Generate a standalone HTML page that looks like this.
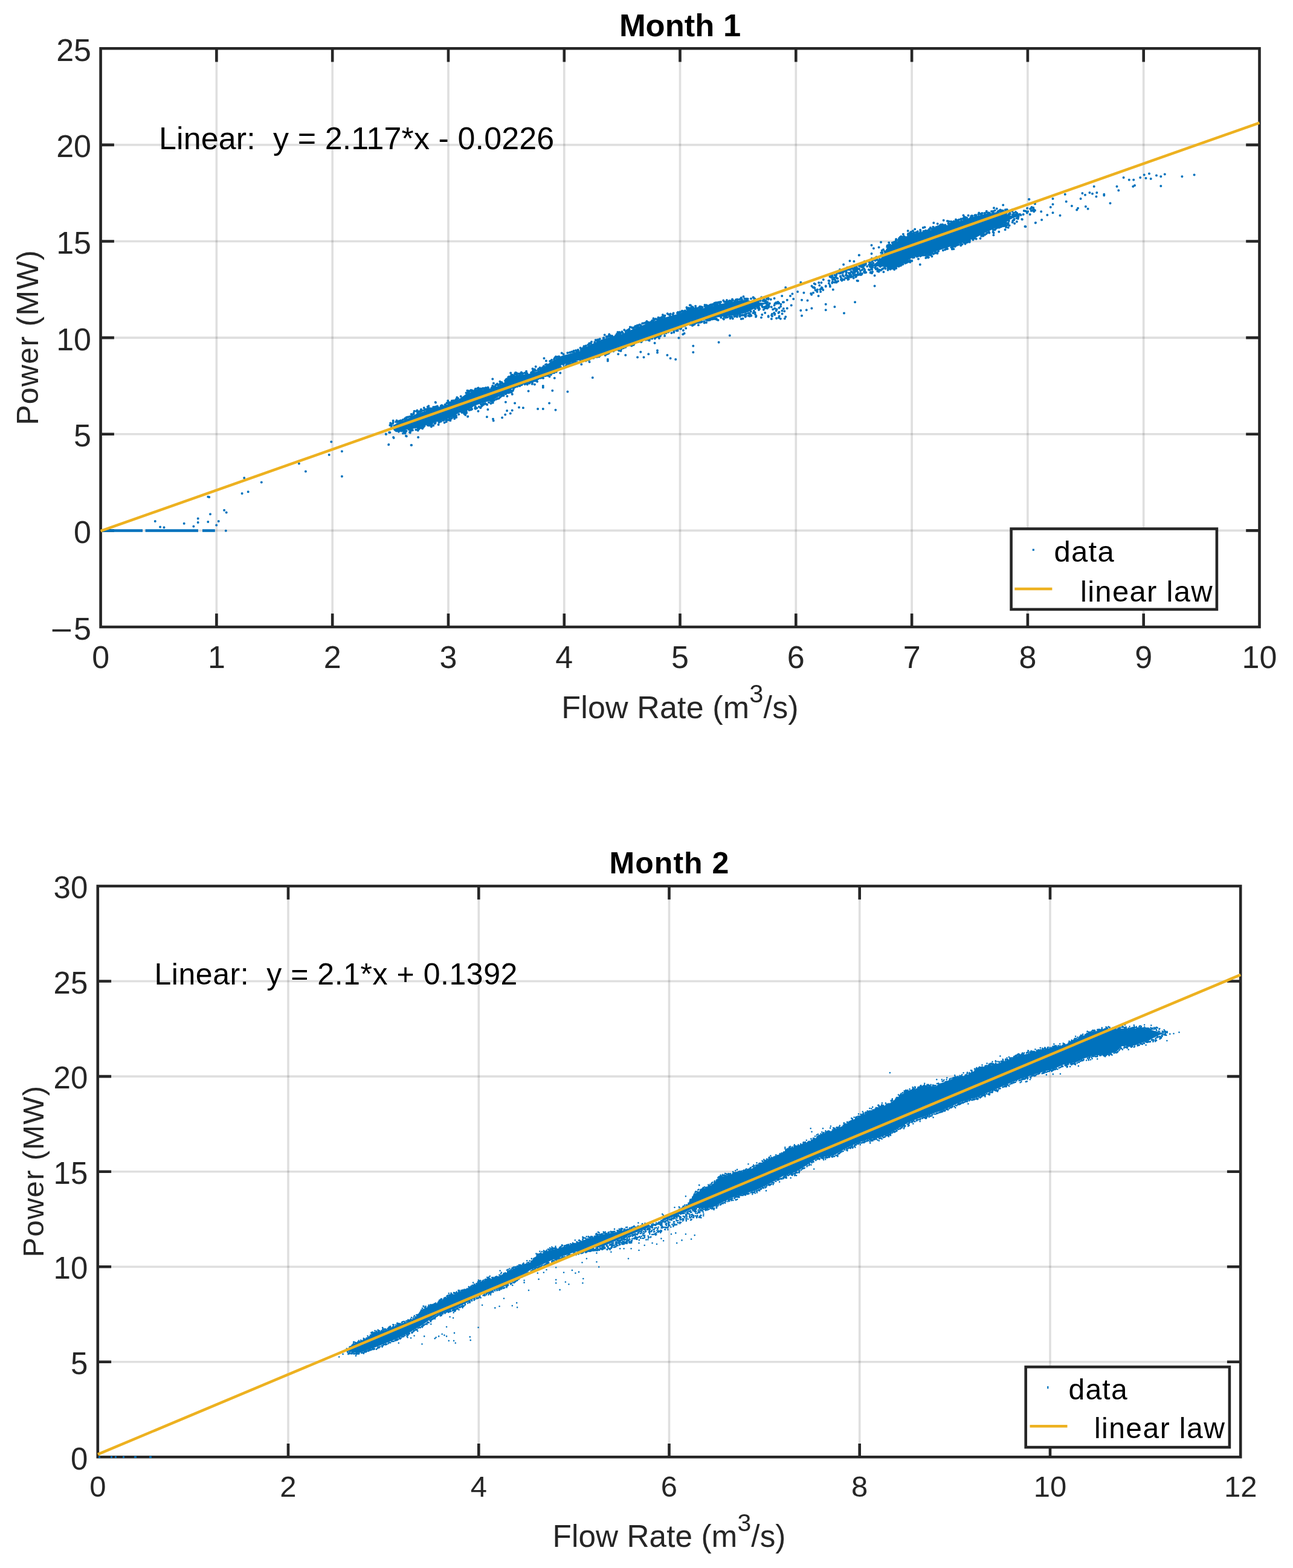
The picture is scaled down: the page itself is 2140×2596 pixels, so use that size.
<!DOCTYPE html>
<html><head><meta charset="utf-8"><title>Month 1 / Month 2 - Power vs Flow Rate</title>
<style>html,body{margin:0;padding:0;background:#fff;}svg{display:block;}text{font-family:'Liberation Sans', Arial, Helvetica, sans-serif;}</style>
</head><body>
<svg width="2140" height="2596" viewBox="0 0 2140 2596">
<rect width="2140" height="2596" fill="#fff"/>
<path d="M358.4 80.3V1038M550.2 80.3V1038M742 80.3V1038M933.8 80.3V1038M1125.5 80.3V1038M1317.3 80.3V1038M1509.1 80.3V1038M1700.9 80.3V1038M1892.7 80.3V1038" stroke="#262626" stroke-opacity="0.15" stroke-width="3.6" fill="none"/>
<path d="M166.6 878.4H2084.5M166.6 718.8H2084.5M166.6 559.1H2084.5M166.6 399.5H2084.5M166.6 239.9H2084.5" stroke="#262626" stroke-opacity="0.15" stroke-width="3.6" fill="none"/>
<path d="M166.6 1038H2084.5V80.3H166.6ZM358.4 1038v-20M358.4 80.3v20M550.2 1038v-20M550.2 80.3v20M742 1038v-20M742 80.3v20M933.8 1038v-20M933.8 80.3v20M1125.5 1038v-20M1125.5 80.3v20M1317.3 1038v-20M1317.3 80.3v20M1509.1 1038v-20M1509.1 80.3v20M1700.9 1038v-20M1700.9 80.3v20M1892.7 1038v-20M1892.7 80.3v20M166.6 878.4h20M2084.5 878.4h-20M166.6 718.8h20M2084.5 718.8h-20M166.6 559.1h20M2084.5 559.1h-20M166.6 399.5h20M2084.5 399.5h-20M166.6 239.9h20M2084.5 239.9h-20" stroke="#262626" stroke-width="4.6" fill="none" stroke-linejoin="miter" stroke-linecap="square"/>
<path d="M645.0 704.0L648.0 704.2L651.0 703.7L654.0 702.5L657.0 700.5L660.0 699.4L663.0 698.2L666.0 697.1L669.0 696.0L672.0 694.5L675.0 693.0L678.0 691.5L681.0 690.0L684.0 688.1L687.0 686.2L690.0 684.7L693.0 683.8L696.0 682.9L699.0 682.0L702.0 681.1L705.0 680.2L708.0 679.2L711.0 678.3L714.0 677.4L717.0 676.5L720.0 675.6L723.0 674.7L726.0 673.9L729.0 673.0L732.0 672.1L735.0 671.3L738.0 670.4L741.0 669.6L744.0 668.5L747.0 667.1L750.0 665.7L753.0 664.3L756.0 662.9L759.0 661.3L762.0 659.1L765.0 656.9L768.0 654.7L771.0 652.5L774.0 650.8L777.0 650.1L780.0 649.4L783.0 648.6L786.0 647.9L789.0 647.2L792.0 646.7L795.0 646.1L798.0 645.6L801.0 645.1L804.0 644.6L807.0 644.0L810.0 643.5L813.0 643.0L816.0 641.9L819.0 640.9L822.0 639.8L825.0 638.8L828.0 637.7L831.0 636.1L834.0 633.5L837.0 630.8L840.0 628.2L843.0 625.5L846.0 622.9L849.0 621.8L852.0 621.5L855.0 621.1L858.0 620.8L861.0 620.5L864.0 620.2L867.0 619.9L870.0 619.5L873.0 619.2L876.0 618.7L879.0 617.8L882.0 616.9L885.0 616.1L888.0 615.2L891.0 614.3L894.0 612.5L897.0 610.2L900.0 607.9L903.0 605.6L906.0 603.3L909.0 601.0L912.0 598.8L915.0 596.9L918.0 595.4L921.0 593.8L924.0 592.2L927.0 590.6L930.0 589.0L933.0 588.2L936.0 587.5L939.0 586.7L942.0 585.9L945.0 585.1L948.0 584.4L951.0 583.6L954.0 582.8L957.0 582.0L960.0 581.3L963.0 579.0L966.0 576.0L969.0 574.6L972.0 573.2L975.0 571.8L978.0 570.4L981.0 569.0L984.0 567.6L987.0 566.2L990.0 564.8L993.0 563.4L996.0 562.0L999.0 561.1L1002.0 560.2L1005.0 559.4L1008.0 558.5L1011.0 557.6L1014.0 556.8L1017.0 556.1L1020.0 555.4L1023.0 554.6L1026.0 553.9L1029.0 553.2L1032.0 552.1L1035.0 550.7L1038.0 549.3L1041.0 547.9L1044.0 546.5L1047.0 545.2L1050.0 543.8L1053.0 542.4L1056.0 541.0L1059.0 540.0L1062.0 538.9L1065.0 537.9L1068.0 536.8L1071.0 535.8L1074.0 534.8L1077.0 533.7L1080.0 532.7L1083.0 531.6L1086.0 530.6L1089.0 529.5L1092.0 528.5L1095.0 527.4L1098.0 526.4L1101.0 525.5L1104.0 524.7L1107.0 523.8L1110.0 523.0L1113.0 522.2L1116.0 521.4L1119.0 520.6L1122.0 519.8L1125.0 519.0L1128.0 517.6L1131.0 516.2L1134.0 514.7L1137.0 513.3L1140.0 511.9L1143.0 510.5L1146.0 510.8L1149.0 511.9L1152.0 513.0L1155.0 512.3L1158.0 511.6L1161.0 510.9L1164.0 510.2L1167.0 509.5L1170.0 508.8L1173.0 508.1L1176.0 507.4L1179.0 506.7L1182.0 506.0L1185.0 505.3L1188.0 504.6L1191.0 503.9L1194.0 503.1L1197.0 502.4L1200.0 501.7L1203.0 501.0L1206.0 500.5L1209.0 500.0L1212.0 499.5L1215.0 499.1L1218.0 498.6L1221.0 498.1L1224.0 497.6L1227.0 497.1L1230.0 496.6L1233.0 496.2L1236.0 496.3L1239.0 497.2L1242.0 498.1L1245.0 498.8L1248.0 499.4L1251.0 499.9L1254.0 500.4L1257.0 500.7L1260.0 501.0L1263.0 501.2L1266.0 501.2L1269.0 501.2L1272.0 501.1L1275.0 500.8L1275.0 500.8L1272.0 501.6L1269.0 502.5L1266.0 503.5L1263.0 504.6L1260.0 505.8L1257.0 507.0L1254.0 508.3L1251.0 509.7L1248.0 511.2L1245.0 512.8L1242.0 514.5L1239.0 516.2L1236.0 517.6L1233.0 518.5L1230.0 519.1L1227.0 519.7L1224.0 520.3L1221.0 521.0L1218.0 521.6L1215.0 522.1L1212.0 522.5L1209.0 522.8L1206.0 523.2L1203.0 523.5L1200.0 523.9L1197.0 524.2L1194.0 524.6L1191.0 524.9L1188.0 525.3L1185.0 525.6L1182.0 526.0L1179.0 526.7L1176.0 527.4L1173.0 528.1L1170.0 528.8L1167.0 529.5L1164.0 530.2L1161.0 530.8L1158.0 531.5L1155.0 532.1L1152.0 532.2L1149.0 532.4L1146.0 532.6L1143.0 532.8L1140.0 533.0L1137.0 534.8L1134.0 536.7L1131.0 538.5L1128.0 540.3L1125.0 542.1L1122.0 544.0L1119.0 545.8L1116.0 547.2L1113.0 547.7L1110.0 548.2L1107.0 548.7L1104.0 549.2L1101.0 549.7L1098.0 550.4L1095.0 551.4L1092.0 552.5L1089.0 553.5L1086.0 554.6L1083.0 555.6L1080.0 556.7L1077.0 557.8L1074.0 558.8L1071.0 559.9L1068.0 560.9L1065.0 562.0L1062.0 562.9L1059.0 563.9L1056.0 564.8L1053.0 565.8L1050.0 566.7L1047.0 567.7L1044.0 568.6L1041.0 569.5L1038.0 570.5L1035.0 571.4L1032.0 572.4L1029.0 573.4L1026.0 574.6L1023.0 575.9L1020.0 577.1L1017.0 578.4L1014.0 579.6L1011.0 580.8L1008.0 582.1L1005.0 583.3L1002.0 584.5L999.0 585.8L996.0 587.0L993.0 587.8L990.0 588.5L987.0 589.3L984.0 590.1L981.0 590.9L978.0 591.6L975.0 592.4L972.0 593.2L969.0 594.0L966.0 594.7L963.0 595.5L960.0 596.3L957.0 597.0L954.0 597.8L951.0 598.6L948.0 599.4L945.0 600.1L942.0 600.9L939.0 601.7L936.0 602.5L933.0 603.2L930.0 604.0L927.0 606.5L924.0 609.0L921.0 611.5L918.0 614.0L915.0 615.3L912.0 616.5L909.0 617.8L906.0 619.1L903.0 620.3L900.0 621.6L897.0 622.9L894.0 624.2L891.0 625.3L888.0 626.4L885.0 627.4L882.0 628.4L879.0 629.5L876.0 630.5L873.0 631.5L870.0 632.5L867.0 633.6L864.0 634.6L861.0 635.6L858.0 636.7L855.0 638.4L852.0 640.5L849.0 642.6L846.0 644.8L843.0 646.9L840.0 649.0L837.0 650.6L834.0 652.2L831.0 653.9L828.0 655.5L825.0 657.1L822.0 658.8L819.0 660.4L816.0 662.0L813.0 662.9L810.0 663.9L807.0 664.8L804.0 665.7L801.0 666.7L798.0 667.6L795.0 668.5L792.0 669.4L789.0 670.4L786.0 671.6L783.0 673.6L780.0 675.5L777.0 677.4L774.0 679.4L771.0 680.5L768.0 681.3L765.0 682.1L762.0 682.9L759.0 683.7L756.0 685.7L753.0 688.3L750.0 690.3L747.0 691.2L744.0 692.2L741.0 693.1L738.0 694.0L735.0 694.9L732.0 695.8L729.0 696.7L726.0 697.6L723.0 698.5L720.0 699.4L717.0 700.3L714.0 701.2L711.0 702.1L708.0 703.0L705.0 703.9L702.0 704.9L699.0 705.8L696.0 706.8L693.0 707.7L690.0 708.7L687.0 709.3L684.0 709.7L681.0 710.2L678.0 710.6L675.0 711.1L672.0 711.5L669.0 712.0L666.0 712.4L663.0 712.9L660.0 711.8L657.0 710.1L654.0 707.5L651.0 705.6L648.0 704.4L645.0 704.0ZM1440.0 441.0L1443.0 439.5L1446.0 437.7L1449.0 435.5L1452.0 433.1L1455.0 430.6L1458.0 427.7L1461.0 422.8L1464.0 417.6L1467.0 412.1L1470.0 407.9L1473.0 406.2L1476.0 404.5L1479.0 402.8L1482.0 401.2L1485.0 399.5L1488.0 397.8L1491.0 396.1L1494.0 394.5L1497.0 392.8L1500.0 391.2L1503.0 389.6L1506.0 388.0L1509.0 387.4L1512.0 386.8L1515.0 386.2L1518.0 385.6L1521.0 385.0L1524.0 384.4L1527.0 383.8L1530.0 383.2L1533.0 382.6L1536.0 382.0L1539.0 381.4L1542.0 380.7L1545.0 379.7L1548.0 378.8L1551.0 377.9L1554.0 376.9L1557.0 376.0L1560.0 375.0L1563.0 374.1L1566.0 373.1L1569.0 372.2L1572.0 371.3L1575.0 370.3L1578.0 369.4L1581.0 368.4L1584.0 367.4L1587.0 366.5L1590.0 365.5L1593.0 364.5L1596.0 363.5L1599.0 362.6L1602.0 361.6L1605.0 360.6L1608.0 359.8L1611.0 359.0L1614.0 358.2L1617.0 357.5L1620.0 356.8L1623.0 356.0L1626.0 355.2L1629.0 354.7L1632.0 354.1L1635.0 353.6L1638.0 353.1L1641.0 352.6L1644.0 352.0L1647.0 351.5L1650.0 351.0L1653.0 351.4L1656.0 351.8L1659.0 352.2L1662.0 352.6L1665.0 353.6L1668.0 355.0L1671.0 356.2L1674.0 357.1L1677.0 357.7L1680.0 358.1L1683.0 358.3L1686.0 358.2L1688.0 358.0L1688.0 358.0L1686.0 358.3L1683.0 359.0L1680.0 359.9L1677.0 361.1L1674.0 362.5L1671.0 364.1L1668.0 366.1L1665.0 368.4L1662.0 370.5L1659.0 372.0L1656.0 373.5L1653.0 375.0L1650.0 376.4L1647.0 377.8L1644.0 379.2L1641.0 380.5L1638.0 381.9L1635.0 383.3L1632.0 384.7L1629.0 386.1L1626.0 387.5L1623.0 389.2L1620.0 390.8L1617.0 392.4L1614.0 394.0L1611.0 395.1L1608.0 396.3L1605.0 397.4L1602.0 398.6L1599.0 399.7L1596.0 400.9L1593.0 402.0L1590.0 402.9L1587.0 403.8L1584.0 404.6L1581.0 405.5L1578.0 406.4L1575.0 407.3L1572.0 408.4L1569.0 409.4L1566.0 410.4L1563.0 411.5L1560.0 412.5L1557.0 413.5L1554.0 414.5L1551.0 415.6L1548.0 416.6L1545.0 417.6L1542.0 418.7L1539.0 419.3L1536.0 419.8L1533.0 420.2L1530.0 420.7L1527.0 421.2L1524.0 421.6L1521.0 422.1L1518.0 422.5L1515.0 423.0L1512.0 425.0L1509.0 427.0L1506.0 429.0L1503.0 431.0L1500.0 433.0L1497.0 435.0L1494.0 437.0L1491.0 437.9L1488.0 438.8L1485.0 439.6L1482.0 440.5L1479.0 441.4L1476.0 442.2L1473.0 442.9L1470.0 443.6L1467.0 442.6L1464.0 441.9L1461.0 441.6L1458.0 441.7L1455.0 441.5L1452.0 441.1L1449.0 440.9L1446.0 440.9L1443.0 440.9L1440.0 441.0Z" fill="#0072bd"/>
<path d="M953.1 599.9h0M1100.5 522.6h0M1022.4 549.9h0M1135.0 537.9h0M911.9 620.3h0M1051.5 539.9h0M685.7 680.8h0M1178.4 504.3h0M1186.1 529.0h0M713.9 703.4h0M1289.2 501.5h0M1232.3 521.5h0M725.7 703.1h0M1046.5 542.8h0M943.0 583.4h0M1091.0 560.1h0M717.3 704.4h0M1089.0 557.2h0M933.5 607.7h0M1083.2 529.3h0M680.8 685.7h0M841.8 650.2h0M749.4 663.7h0M872.6 634.1h0M1008.0 554.9h0M805.0 669.3h0M815.8 666.7h0M827.1 635.9h0M926.6 610.1h0M667.0 717.4h0M1176.3 504.4h0M874.0 634.6h0M1283.8 502.1h0M880.8 635.8h0M852.6 619.5h0M1276.8 508.3h0M714.1 705.9h0M646.2 700.6h0M1145.9 539.0h0M1159.9 532.9h0M890.5 612.5h0M1202.9 496.9h0M1197.9 528.4h0M926.3 611.0h0M708.4 676.2h0M876.2 632.7h0M1028.6 577.8h0M917.1 617.2h0M1048.6 569.6h0M833.6 655.0h0M1056.9 538.6h0M815.5 666.8h0M713.8 705.0h0M1149.5 537.0h0M1226.8 492.9h0M1141.8 505.2h0M1128.9 514.7h0M1271.2 493.7h0M1020.8 552.9h0M962.3 603.2h0M795.3 643.6h0M699.2 709.6h0M1226.2 494.0h0M672.4 691.3h0M674.2 690.7h0M1045.4 572.4h0M1197.3 497.5h0M806.2 670.0h0M1282.4 502.8h0M1285.2 502.4h0M853.2 617.1h0M1208.4 524.7h0M740.2 667.2h0M775.7 647.2h0M1001.8 588.2h0M848.9 646.8h0M781.1 646.6h0M1096.9 521.2h0M786.8 676.7h0M932.6 586.4h0M690.4 679.4h0M1003.7 557.5h0M1259.7 493.9h0M802.0 642.9h0M1036.2 572.9h0M830.4 632.9h0M651.8 709.3h0M694.6 681.5h0M841.2 624.4h0M770.6 683.4h0M1047.0 569.6h0M1275.8 495.7h0M791.7 642.2h0M650.7 696.6h0M655.3 698.6h0M992.8 561.3h0M650.1 701.2h0M1208.6 527.3h0M989.0 562.5h0M899.1 626.0h0M779.3 646.0h0M786.2 645.6h0M1212.8 527.5h0M1212.0 495.5h0M1089.5 525.8h0M820.2 637.6h0M770.3 687.1h0M659.8 714.7h0M768.0 684.3h0M701.7 679.2h0M678.9 712.5h0M1161.6 532.7h0M670.6 714.8h0M1173.1 530.0h0M1169.0 533.9h0M1208.0 497.9h0M862.9 616.5h0M1172.0 530.2h0M1191.1 500.2h0M1285.6 501.1h0M888.3 630.6h0M1031.9 576.2h0M693.8 681.2h0M1136.9 537.0h0M1048.6 571.1h0M975.2 594.9h0M1081.5 527.3h0M1189.5 500.5h0M752.8 690.9h0M960.6 575.9h0M1264.5 495.4h0M699.5 707.9h0M1072.4 533.5h0M884.9 630.5h0M1146.4 508.3h0M1073.2 563.1h0M1007.9 584.3h0M657.1 698.5h0M845.6 649.2h0M656.0 713.4h0M798.2 671.6h0M1104.7 519.3h0M975.3 568.4h0M899.8 606.3h0M648.0 707.4h0M1185.2 502.6h0M1249.6 517.5h0M1185.8 527.7h0M1106.2 520.6h0M862.4 637.0h0M695.5 708.6h0M922.7 613.1h0M973.2 595.9h0M1284.0 501.3h0M829.2 634.4h0M1000.7 554.6h0M876.4 634.6h0M790.5 643.0h0M1069.1 533.9h0M1287.6 500.0h0M807.8 641.8h0M743.1 666.3h0M756.3 658.0h0M1151.5 510.1h0M678.1 689.7h0M1029.1 550.0h0M1224.6 523.9h0M698.3 708.6h0M929.7 584.4h0M1114.6 518.6h0M816.9 634.6h0M1268.9 493.9h0M1027.5 580.9h0M738.7 698.2h0M1187.6 501.5h0M795.4 675.2h0M1233.1 520.4h0M1193.0 499.9h0M903.0 603.8h0M693.5 681.4h0M745.4 696.2h0M919.9 615.2h0M1242.0 520.6h0M1146.1 535.8h0M1003.7 557.9h0M660.5 697.2h0M1109.6 519.8h0M1272.8 507.0h0M815.3 638.8h0M800.7 669.8h0M846.7 649.4h0M1056.1 538.7h0M1142.3 537.4h0M928.2 609.1h0M1136.5 509.0h0M1092.8 556.5h0M678.0 715.5h0M1064.7 535.2h0M1119.6 547.6h0M1235.1 519.7h0M1029.2 576.3h0M671.2 715.2h0M1165.7 534.6h0M752.2 693.3h0M1111.4 551.3h0M1083.2 557.5h0M897.1 625.6h0M754.9 661.1h0M1281.6 505.4h0M969.6 597.4h0M1035.3 574.7h0M1115.3 550.3h0M1121.9 517.0h0M821.8 636.9h0M650.7 699.3h0M713.9 706.4h0M945.5 602.6h0M1170.4 506.8h0M669.2 715.8h0M1170.8 506.3h0M1188.5 529.9h0M1174.8 505.5h0M1015.3 581.6h0M1179.5 503.9h0M975.5 594.9h0M1197.1 527.6h0M1166.5 505.0h0M709.1 676.9h0M1206.9 498.3h0M1246.5 518.2h0M1151.1 506.7h0M789.1 675.8h0M1147.1 538.2h0M881.1 633.9h0M705.9 677.4h0M885.7 630.4h0M781.1 677.5h0M1041.3 544.9h0M1186.8 500.9h0M920.7 615.8h0M717.2 674.0h0M773.4 646.7h0M1184.3 501.2h0M1288.6 502.2h0M735.6 699.7h0M823.0 635.6h0M919.9 590.6h0M1074.8 563.8h0M749.0 663.5h0M1126.8 544.4h0M741.3 663.6h0M1029.4 549.2h0M655.8 712.1h0M812.4 668.1h0M692.1 710.5h0M1169.2 505.3h0M1265.6 510.3h0M1157.7 508.3h0M1024.6 580.4h0M822.9 636.6h0M693.4 710.2h0M949.4 581.0h0M827.4 631.7h0M755.3 691.0h0M1143.6 535.8h0M1045.7 542.2h0M743.5 695.4h0M1247.2 492.7h0M909.5 623.4h0M1070.4 532.1h0M844.2 649.6h0M1153.2 510.6h0M1063.1 535.5h0M852.2 618.3h0M845.3 649.2h0M815.4 639.3h0M1160.6 508.0h0M1079.3 560.4h0M1182.3 502.0h0M670.5 717.4h0M1271.6 494.0h0M913.0 596.0h0M1043.3 570.7h0M800.7 643.2h0M925.3 610.2h0M657.3 698.6h0M753.7 689.5h0M1042.9 541.4h0M1155.9 510.1h0M896.8 625.2h0M1086.3 557.9h0M1231.7 522.0h0M860.2 639.1h0M974.8 570.1h0M1158.5 507.6h0M796.9 672.8h0M1281.6 494.1h0M1082.6 528.7h0M1146.8 509.3h0M1044.2 571.2h0M1092.8 526.3h0M758.2 659.4h0M779.7 647.5h0M969.6 572.4h0M891.2 610.8h0M691.8 712.7h0M1083.9 560.5h0M787.1 645.3h0M656.5 696.3h0M1267.7 510.0h0M679.4 713.9h0M747.7 663.7h0M936.5 606.0h0M768.7 685.4h0M1174.4 505.6h0M1272.0 494.3h0M1052.9 540.3h0M786.2 675.8h0M991.4 562.2h0M852.7 618.4h0M1061.2 566.2h0M1054.7 538.8h0M1140.3 535.7h0M839.4 656.1h0M906.7 621.8h0M825.8 659.6h0M956.7 579.3h0M684.5 685.6h0M1144.9 508.2h0M862.4 618.2h0M1088.7 556.2h0M1230.5 490.9h0M881.5 631.7h0M924.0 590.4h0M1218.3 496.3h0M1234.5 523.2h0M1099.9 523.5h0M1037.2 547.5h0M792.8 673.4h0M787.0 643.8h0M868.7 636.3h0M889.1 631.8h0M1008.3 553.4h0M1137.1 511.5h0M1272.3 508.5h0M1181.8 504.3h0M846.1 648.8h0M1025.2 549.9h0M1167.7 506.3h0M1033.3 546.3h0M898.2 624.4h0M966.5 573.3h0M1085.2 528.0h0M1263.9 512.8h0M1268.2 508.3h0M885.0 611.5h0M985.7 562.9h0M1004.1 586.3h0M1006.2 585.5h0M1215.4 524.1h0M882.2 613.2h0M1076.9 560.3h0M678.8 716.6h0M943.9 602.4h0M946.0 582.4h0M952.8 580.2h0M779.2 678.6h0M701.8 675.3h0M918.7 591.9h0M684.8 683.7h0M1095.6 525.0h0M653.1 710.9h0M855.0 617.4h0M1121.5 547.6h0M1246.6 492.2h0M999.3 559.3h0M1243.3 522.7h0M979.0 566.0h0M1049.4 569.4h0M1185.7 502.2h0M1191.4 501.3h0M739.4 667.2h0M970.1 596.2h0M1255.9 513.0h0M881.5 610.6h0M1260.3 492.3h0M772.1 683.7h0M1665.7 373.6h0M1626.6 389.6h0M1657.9 348.6h0M1412.7 460.6h0M1569.7 370.1h0M1539.9 377.0h0M1418.0 455.1h0M1622.5 394.8h0M1666.6 347.1h0M1681.0 350.9h0M1401.0 444.9h0M1377.1 455.7h0M1570.3 366.4h0M1624.1 390.8h0M1604.7 400.7h0M1442.8 428.1h0M1390.0 446.2h0M1431.1 436.1h0M1624.5 390.2h0M1653.5 376.8h0M1659.9 348.8h0M1684.2 354.8h0M1530.5 376.3h0M1469.8 406.2h0M1510.9 382.3h0M1375.8 458.6h0M1664.0 347.3h0M1664.9 374.4h0M1682.9 367.1h0M1548.9 418.8h0M1417.6 455.8h0M1675.5 350.2h0M1649.7 345.4h0M1384.5 454.7h0M1419.6 454.1h0M1394.0 449.5h0M1471.2 401.7h0M1507.8 384.0h0M1523.2 424.1h0M1376.5 457.2h0M1620.2 352.6h0M1684.8 355.2h0M1597.5 403.8h0M1604.6 400.1h0M1567.9 366.0h0M1442.5 429.6h0M1482.9 397.7h0M1626.2 390.4h0M1542.4 424.5h0M1595.6 358.7h0M1430.9 432.8h0M1643.6 384.1h0M1687.8 354.7h0M1393.9 462.2h0M1489.7 392.7h0M1536.2 426.2h0M1483.2 444.2h0M1482.8 398.1h0M1469.5 447.0h0M1587.1 363.8h0M1425.0 455.0h0M1391.9 463.1h0M1668.4 372.3h0M1549.3 417.9h0M1391.1 448.7h0M1678.0 364.6h0M1551.7 370.5h0M1684.9 362.0h0M1601.1 401.0h0M1541.1 378.8h0M1483.0 397.4h0M1539.4 422.3h0M1447.7 427.9h0M1534.3 424.5h0M1402.3 443.1h0M1545.0 376.0h0M1403.4 462.8h0M1503.6 433.2h0M1585.4 365.0h0M1573.9 367.0h0M1645.0 344.2h0M1494.9 387.8h0M1578.4 412.2h0M1507.1 384.8h0M1660.8 374.2h0M1677.9 352.7h0M1520.0 428.7h0M1598.2 360.1h0M1383.7 466.1h0M1600.7 401.3h0M1662.8 373.8h0M1575.8 412.6h0M1602.6 356.8h0M1663.4 350.8h0M1668.6 349.2h0M1408.4 458.4h0M1590.4 362.6h0M1506.2 434.0h0M1594.5 356.4h0M1491.3 391.5h0M1424.2 453.3h0M1440.6 451.5h0M1664.3 349.5h0M1416.3 458.6h0M1555.7 373.2h0M1488.1 394.4h0M1518.8 424.2h0M1630.3 388.6h0M1646.6 348.5h0M1669.9 350.2h0M1536.9 426.1h0M1637.3 385.5h0M1423.3 453.4h0M1632.8 349.7h0M1444.8 429.9h0M1425.9 454.6h0M1443.0 452.2h0M1458.3 418.5h0M1462.4 450.3h0M1590.2 406.5h0M1404.6 462.1h0M1536.8 422.0h0M1577.0 367.4h0M1683.3 353.1h0M1549.5 375.9h0M1675.6 347.3h0M1480.2 446.3h0M1655.5 347.6h0M1480.4 443.1h0M1426.6 438.0h0M1574.3 409.4h0M1506.0 430.9h0M1568.1 411.9h0M1496.2 391.2h0M1494.5 392.3h0M1441.4 450.6h0M1544.3 375.8h0M1376.6 458.9h0M1405.6 442.4h0M1536.1 426.4h0M1422.3 454.5h0M1628.9 388.7h0M1487.6 441.1h0M1478.0 444.6h0M1473.7 445.7h0M1477.7 401.8h0M1557.2 372.1h0M1551.4 419.4h0M1615.7 395.6h0M1523.1 380.8h0M1374.1 456.0h0M1578.6 366.6h0M1450.6 425.4h0M1417.3 457.2h0M1565.8 412.3h0M1544.9 420.5h0M1462.0 413.3h0M1582.1 364.4h0M1619.7 354.5h0M1422.7 437.1h0M1483.1 396.1h0M1423.0 454.8h0M1527.8 377.1h0M1624.8 390.0h0M1632.5 351.4h0M1584.6 364.9h0M1397.6 449.0h0M1644.4 389.2h0M1509.3 432.0h0M1582.0 363.4h0M1502.7 382.3h0M1506.7 431.4h0M1377.2 468.4h0M1420.5 454.9h0M1395.4 462.7h0M1424.3 454.2h0M1626.5 389.2h0M1580.8 408.0h0M1424.0 452.3h0M1569.9 369.5h0M1454.5 449.7h0M1665.2 376.3h0M1415.1 455.7h0M1575.8 368.2h0M1559.9 371.8h0M1407.7 458.7h0M1574.0 366.7h0M1403.7 443.4h0M729.6 672.4h0M1126.2 516.6h0M957.1 580.6h0M1055.5 540.7h0M704.1 678.0h0M1171.5 507.0h0M1125.2 516.4h0M925.6 590.6h0M789.1 647.1h0M1212.9 497.0h0M661.0 697.8h0M1236.7 494.7h0M781.5 647.6h0M663.3 696.2h0M920.9 592.6h0M791.8 644.8h0M782.8 647.3h0M827.6 635.4h0M1172.7 507.1h0M1049.6 541.9h0M1270.3 500.3h0M721.2 673.6h0M1099.5 525.2h0M1235.0 494.7h0M1167.9 508.5h0M836.1 630.6h0M1201.0 501.1h0M963.3 577.6h0M666.8 695.0h0M1147.4 509.8h0M754.0 662.7h0M1087.9 529.1h0M881.1 615.8h0M965.3 576.1h0M973.2 571.1h0M953.5 580.5h0M672.4 693.6h0M1264.4 498.6h0M893.0 611.2h0M961.4 580.2h0M1130.4 515.3h0M1187.0 502.9h0M968.7 574.6h0M1009.0 556.8h0M814.6 641.3h0M1248.0 494.1h0M1138.7 512.1h0M1203.3 500.3h0M1154.8 511.2h0M998.7 559.8h0M680.4 690.0h0M1004.1 557.6h0M963.0 577.7h0M869.8 617.9h0M984.2 566.5h0M1030.8 551.2h0M662.6 696.5h0M756.6 661.6h0M1187.4 504.2h0M1147.2 510.7h0M805.8 643.9h0M1069.1 534.2h0M655.5 698.6h0M1121.0 518.2h0M714.0 676.5h0M862.0 618.1h0M745.6 666.6h0M750.9 663.5h0M1093.3 526.6h0M847.9 620.7h0M659.9 697.9h0M910.2 598.1h0M713.5 677.3h0M966.4 573.8h0M1026.6 553.4h0M658.1 697.6h0M737.3 669.9h0M745.9 666.9h0M1072.3 534.2h0M784.0 648.4h0M1147.6 510.1h0M785.6 647.2h0M893.8 611.6h0M847.4 621.3h0M682.0 687.6h0M1254.8 499.7h0M838.0 629.6h0M840.5 627.6h0M1113.6 520.6h0M804.0 642.1h0M1198.6 499.6h0M1161.2 510.8h0M1004.3 557.5h0M1191.7 503.6h0M1088.5 528.5h0M883.1 615.0h0M774.6 649.8h0M917.8 593.5h0M710.8 677.6h0M831.5 634.4h0M850.0 621.4h0M1211.8 497.1h0M771.5 650.4h0M1266.8 499.8h0M858.6 618.8h0M1069.9 535.8h0M1232.3 494.6h0M1200.9 500.7h0M950.2 583.7h0M792.8 645.8h0M698.3 680.1h0M1218.9 496.5h0M1123.2 518.5h0M1174.9 506.1h0M859.4 618.9h0M1191.5 502.8h0M1246.2 498.5h0M730.3 671.5h0M710.7 676.0h0M691.1 684.0h0M1141.5 510.7h0M859.8 619.7h0M1137.6 511.5h0M1004.6 557.5h0M696.5 680.9h0M1206.2 499.4h0M1227.8 495.6h0M819.6 640.1h0M1166.5 507.1h0M1067.4 534.8h0M717.5 676.1h0M670.2 693.5h0M1267.5 497.5h0M717.8 674.2h0M797.1 645.1h0M709.8 678.5h0M883.3 616.5h0M1217.8 496.8h0M804.6 643.1h0M708.1 678.3h0M670.0 693.0h0M1264.0 496.6h0M1020.8 553.8h0M842.4 623.7h0M1220.4 498.1h0M1256.0 495.0h0M780.6 648.3h0M1262.4 498.1h0M1078.6 532.3h0M808.2 642.7h0M838.6 627.5h0M696.3 681.0h0M1264.5 497.6h0M1055.8 540.2h0M1237.7 494.9h0M838.3 628.0h0M844.5 623.8h0M1207.9 498.5h0M855.6 619.9h0M1009.8 556.9h0M799.4 642.9h0M798.6 643.2h0M992.3 561.4h0M692.3 683.1h0M828.2 637.1h0M955.8 582.0h0M742.1 668.0h0M1145.8 508.4h0M1243.0 494.6h0M1134.0 514.7h0M1162.6 508.8h0M712.3 676.7h0M1224.2 495.8h0M1208.1 498.0h0M1218.6 496.1h0M844.1 624.3h0M1151.4 512.6h0M1174.7 507.1h0M1079.4 530.8h0M917.6 593.5h0M1095.3 526.5h0M804.1 642.2h0M1251.9 498.9h0M991.0 563.2h0M1181.3 504.8h0M894.3 610.6h0M807.5 641.5h0M1052.3 541.3h0M1004.5 557.2h0M868.6 617.5h0M723.8 672.6h0M1167.2 507.9h0M897.7 608.7h0M792.1 644.1h0M978.1 569.1h0M1053.8 540.6h0M1077.5 532.9h0M795.2 644.8h0M946.7 582.8h0M904.7 603.2h0M1216.4 498.6h0M818.4 640.2h0M675.4 690.5h0M967.4 575.1h0M745.5 667.3h0M1201.3 499.7h0M1081.3 531.9h0M879.1 617.0h0M1108.9 522.3h0M1184.5 505.2h0M1249.8 497.3h0M756.1 661.0h0M782.1 647.8h0M1122.4 517.3h0M1074.4 533.9h0M864.2 618.9h0M748.8 665.6h0M670.6 695.1h0M1154.0 511.6h0M813.5 642.6h0M1249.4 494.9h0M1133.7 514.5h0M1060.6 538.7h0M925.4 591.3h0M1256.9 496.8h0M1150.7 511.1h0M748.8 664.6h0M724.6 674.0h0M1249.4 494.8h0M1023.4 553.1h0M719.4 674.0h0M801.4 644.4h0M647.5 702.1h0M921.4 591.1h0M1040.3 547.2h0M1171.3 506.5h0M824.4 637.8h0M817.1 640.5h0M803.1 643.9h0M1143.4 510.0h0M1258.4 497.9h0M954.2 582.4h0M1129.5 515.8h0M886.5 613.8h0M713.1 677.2h0M719.4 675.2h0M988.5 565.4h0M1124.5 519.1h0M731.1 671.2h0M1005.7 557.4h0M961.9 578.4h0M977.9 568.0h0M923.7 591.0h0M837.0 629.3h0M1138.3 511.9h0M955.1 581.6h0M882.9 614.7h0M647.4 702.3h0M1021.8 554.6h0M1167.5 508.2h0M1266.8 497.8h0M1170.8 507.1h0M1114.1 521.9h0M837.4 628.4h0M1035.6 549.2h0M871.4 616.9h0M890.2 613.1h0M900.3 607.3h0M1013.2 556.3h0M1210.7 499.1h0M955.4 581.8h0M1048.4 543.6h0M1041.7 546.1h0M1041.4 546.8h0M1235.4 495.7h0M1178.1 506.3h0M1158.7 510.5h0M865.2 618.2h0M1091.1 528.5h0M987.9 563.7h0M1169.8 507.6h0M939.3 584.2h0M966.5 575.1h0M911.2 597.7h0M1058.8 537.6h0M964.5 577.4h0M1080.0 531.2h0M1079.0 532.0h0M776.6 648.2h0M1203.2 499.1h0M692.2 683.6h0M974.6 570.4h0M967.3 574.8h0M751.2 664.3h0M1094.5 527.1h0M814.9 641.3h0M791.2 645.7h0M753.6 663.5h0M1191.0 502.2h0M785.1 648.1h0M1090.2 528.7h0M664.2 697.5h0M1037.1 548.0h0M917.0 595.3h0M1139.8 510.0h0M1039.3 546.6h0M1258.0 497.3h0M1220.3 497.5h0M1026.9 551.9h0M976.8 568.8h0M732.0 671.4h0M872.5 618.6h0M796.5 645.2h0M1097.6 524.7h0M712.0 676.5h0M955.2 580.2h0M762.7 656.2h0M1021.4 554.7h0M781.4 646.6h0M1088.5 529.3h0M1252.4 497.8h0M860.7 620.1h0M719.4 675.0h0M705.0 678.7h0M956.9 580.5h0M751.2 663.2h0M1161.7 509.4h0M1010.4 555.8h0M1095.4 525.6h0M1019.0 555.4h0M1271.5 495.4h0M1147.4 510.9h0M846.3 621.1h0M1010.6 557.5h0M897.0 609.9h0M1122.9 517.4h0M1220.6 495.7h0M736.5 670.0h0M681.0 688.5h0M726.9 698.5h0M1174.2 530.1h0M667.3 712.4h0M1174.6 527.8h0M817.4 661.6h0M702.4 704.9h0M1046.6 569.6h0M1077.7 559.6h0M1062.7 563.7h0M1042.6 571.5h0M1049.2 567.6h0M682.9 712.2h0M1017.0 579.2h0M1026.4 575.9h0M974.0 592.8h0M867.5 634.4h0M770.6 682.8h0M912.2 618.1h0M1094.5 553.4h0M1099.3 551.9h0M803.5 668.3h0M740.1 695.6h0M1183.4 528.0h0M678.3 710.8h0M1157.2 532.9h0M878.3 632.2h0M670.3 713.1h0M924.3 609.1h0M894.0 625.9h0M1200.9 523.8h0M975.4 592.5h0M1149.2 532.6h0M666.5 713.3h0M1106.5 549.5h0M726.9 699.3h0M1153.4 534.3h0M836.4 652.0h0M799.6 668.5h0M853.0 640.7h0M1138.7 536.2h0M1013.0 580.3h0M1056.1 565.9h0M1267.5 507.6h0M1170.9 530.3h0M982.4 592.7h0M1168.9 529.7h0M743.9 693.1h0M973.3 593.1h0M862.6 636.5h0M672.5 713.5h0M1055.2 565.9h0M832.9 653.7h0M849.9 643.9h0M960.7 597.4h0M738.7 696.1h0M850.1 642.7h0M688.4 711.5h0M947.2 601.8h0M1229.4 521.6h0M1158.8 533.7h0M1226.0 521.9h0M729.8 697.8h0M1007.6 584.7h0M1138.9 535.4h0M1115.4 548.2h0M1238.7 518.5h0M898.6 623.4h0M1262.2 508.4h0M750.7 690.2h0M1078.0 558.8h0M1216.3 522.4h0M904.0 621.7h0M676.6 711.1h0M988.8 589.5h0M712.4 702.3h0M1043.2 570.2h0M694.5 707.5h0M1180.9 527.9h0M754.2 689.4h0M658.8 712.0h0M1179.0 528.5h0M823.8 660.0h0M1021.8 578.5h0M1207.5 524.1h0M1070.6 561.4h0M1240.2 518.6h0M1102.3 551.5h0M1273.8 502.6h0M771.9 682.1h0M1130.3 540.2h0M951.9 599.4h0M1201.1 525.7h0M1013.3 580.0h0M1181.2 527.3h0M764.5 683.0h0M1080.5 556.5h0M720.6 700.0h0M1203.9 525.3h0M1256.6 510.6h0M1005.3 584.5h0M976.1 593.5h0M1160.7 533.3h0M902.2 622.2h0M838.9 650.4h0M964.0 596.7h0M991.5 590.6h0M747.7 692.6h0M1271.6 506.2h0M1001.5 585.6h0M898.3 624.7h0M1209.1 524.5h0M1211.2 524.9h0M1178.2 527.8h0M937.5 604.0h0M879.8 631.1h0M948.3 600.1h0M932.4 603.7h0M868.3 634.2h0M656.4 710.0h0M808.9 666.3h0M1016.4 579.3h0M1273.6 502.7h0M968.7 595.9h0M1080.5 557.6h0M1134.5 537.6h0M1095.7 552.4h0M1257.0 511.5h0M702.6 705.0h0M1253.9 509.8h0M661.5 713.1h0M947.3 601.9h0M896.5 624.9h0M1170.6 528.8h0M1030.5 575.3h0M991.2 589.6h0M863.4 637.2h0M1255.8 508.1h0M993.3 588.7h0M1068.1 561.2h0M812.2 663.9h0M947.2 601.5h0M1185.4 527.6h0M1071.4 560.0h0M890.5 627.2h0M830.4 655.5h0M1215.2 522.4h0M1182.9 526.2h0M888.4 628.5h0M771.8 681.6h0M907.5 620.7h0M1270.0 504.0h0M955.3 599.7h0M988.2 589.5h0M1123.6 543.8h0M951.2 598.6h0M1268.0 507.0h0M1228.3 521.9h0M813.5 664.1h0M922.4 612.3h0M1175.7 528.0h0M818.0 662.7h0M904.3 620.1h0M768.0 682.7h0M1022.1 578.7h0M980.7 592.5h0M738.8 694.8h0M821.3 660.9h0M813.2 663.4h0M876.6 631.4h0M858.2 638.1h0M759.2 685.9h0M1082.3 557.2h0M681.6 710.9h0M1079.8 558.4h0M1156.5 534.1h0M843.7 647.6h0M852.9 640.2h0M733.3 696.1h0M700.5 706.7h0M1087.8 555.3h0M1076.4 558.5h0M770.6 682.1h0M1202.1 524.7h0M647.7 704.4h0M837.3 652.0h0M698.3 706.6h0M1073.8 561.3h0M859.9 637.5h0M971.6 593.3h0M852.8 640.3h0M803.0 668.0h0M1074.2 558.9h0M693.7 709.3h0M710.0 703.2h0M814.7 662.5h0M664.6 713.0h0M896.6 625.4h0M1047.2 568.2h0M1073.2 559.8h0M969.6 594.6h0M1242.7 515.7h0M1151.2 533.9h0M1176.3 528.8h0M1193.3 525.7h0M1072.8 560.8h0M977.5 593.2h0M982.5 591.5h0M1210.9 524.2h0M990.9 588.4h0M965.4 595.3h0M780.5 676.3h0M989.0 589.4h0M815.7 663.4h0M943.1 601.6h0M710.4 703.2h0M1057.3 565.8h0M988.2 591.1h0M1100.6 551.5h0M664.2 713.5h0M1074.9 558.9h0M1220.5 521.4h0M1198.8 524.6h0M1175.2 529.7h0M856.3 639.7h0M745.7 693.8h0M885.5 628.3h0M719.3 701.1h0M814.9 664.0h0M1148.6 534.0h0M650.2 708.4h0M1224.4 521.9h0M884.1 629.1h0M1201.2 524.9h0M1135.9 537.0h0M911.0 619.3h0M902.3 622.2h0M678.6 711.7h0M668.6 713.8h0M645.4 704.1h0M715.0 701.2h0M965.1 595.9h0M815.7 664.6h0M1217.7 523.3h0M1150.3 534.4h0M799.5 669.2h0M796.1 669.6h0M870.4 632.8h0M1134.4 538.7h0M842.6 649.3h0M863.1 636.5h0M1272.3 506.1h0M680.1 711.4h0M882.1 629.1h0M1159.2 532.4h0M1085.5 556.3h0M972.0 593.3h0M1069.0 562.8h0M753.5 689.5h0M952.1 599.2h0M1092.6 554.7h0M658.6 713.3h0M886.4 629.0h0M755.1 688.3h0M707.8 703.9h0M1256.0 511.5h0M1139.2 534.6h0M941.8 602.2h0M1132.1 539.6h0M767.1 682.7h0M986.5 590.9h0M1228.9 521.4h0M739.4 694.5h0M713.7 701.4h0M692.0 708.5h0M1127.6 542.2h0M1147.7 533.2h0M743.0 694.9h0M1165.4 532.2h0M656.8 710.9h0M1044.3 570.3h0M1220.0 522.5h0M891.2 625.3h0M1151.4 534.7h0M1216.6 523.5h0M860.8 636.3h0M1133.3 539.4h0M1250.0 511.2h0M1013.8 581.0h0M914.3 617.6h0M1234.5 519.9h0M1086.2 556.2h0M1056.7 565.9h0M801.2 668.5h0M720.0 701.0h0M888.8 627.5h0M1049.1 568.2h0M1261.2 506.8h0M652.7 709.9h0M841.6 648.6h0M906.8 620.2h0M1266.3 508.0h0M845.5 646.4h0M927.7 607.2h0M908.1 618.6h0M894.2 625.1h0M771.5 682.4h0M871.8 632.3h0M1002.1 586.6h0M1136.8 536.5h0M1105.6 549.7h0M734.9 695.6h0M865.1 634.9h0M939.7 601.9h0M727.1 697.9h0M768.8 683.1h0M983.7 590.7h0M915.4 617.3h0M1008.9 583.1h0M891.5 625.6h0M1039.0 570.4h0M1140.3 533.1h0M1115.2 548.3h0M1074.9 560.0h0M726.4 698.8h0M691.7 708.7h0M885.5 628.0h0M1061.9 565.4h0M869.8 634.7h0M786.8 672.9h0M864.1 635.9h0M700.8 707.3h0M776.6 678.9h0M827.9 657.6h0M1018.3 579.3h0M1120.5 545.5h0M681.7 712.2h0M843.8 648.3h0M1247.7 514.7h0M710.1 704.5h0M1597.1 361.3h0M1491.6 394.6h0M1470.1 407.6h0M1615.5 357.4h0M1535.2 382.0h0M1473.2 405.4h0M1503.1 387.0h0M1470.0 405.9h0M1629.3 353.0h0M1559.5 374.2h0M1506.4 387.0h0M1606.5 360.0h0M1564.7 373.2h0M1680.0 357.1h0M1544.5 378.1h0M1464.2 416.3h0M1472.1 405.6h0M1552.6 375.0h0M1493.2 394.5h0M1573.6 370.6h0M1665.2 350.8h0M1608.2 357.3h0M1544.8 378.4h0M1677.3 355.9h0M1487.1 397.1h0M1569.4 370.1h0M1529.2 383.1h0M1683.4 357.4h0M1456.0 428.9h0M1553.7 376.6h0M1483.8 398.0h0M1664.9 351.4h0M1450.7 429.9h0M1685.7 357.7h0M1538.3 381.5h0M1637.6 352.8h0M1600.2 360.7h0M1664.6 351.9h0M1671.8 354.4h0M1665.6 352.2h0M1545.9 378.4h0M1518.7 383.3h0M1586.2 366.4h0M1508.9 387.1h0M1635.2 353.0h0M1543.0 380.4h0M1636.1 352.3h0M1468.2 408.7h0M1443.6 438.3h0M1523.5 382.9h0M1576.6 368.9h0M1584.5 366.0h0M1597.3 362.7h0M1550.7 376.7h0M1641.0 350.1h0M1479.9 400.7h0M1493.1 394.7h0M1476.8 401.9h0M1518.7 384.2h0M1643.7 352.1h0M1651.3 350.2h0M1449.3 427.1h0M1596.4 363.0h0M1505.8 388.0h0M1576.5 368.8h0M1593.4 362.1h0M1482.3 400.9h0M1506.3 385.7h0M1510.0 386.5h0M1505.2 386.5h0M1508.7 386.2h0M1622.9 354.3h0M1656.6 351.8h0M1643.9 349.8h0M1518.2 385.4h0M1653.1 349.3h0M1549.7 376.7h0M1625.4 353.0h0M1518.2 384.9h0M1659.9 349.9h0M1585.9 366.0h0M1656.5 350.4h0M1681.3 354.9h0M1468.5 406.7h0M1585.5 364.7h0M1506.1 386.0h0M1453.7 431.4h0M1523.1 384.5h0M1619.4 355.0h0M1671.3 351.9h0M1683.5 354.6h0M1502.8 388.6h0M1442.3 437.7h0M1461.0 421.6h0M1448.7 431.6h0M1491.9 393.8h0M1561.6 372.9h0M1537.2 380.9h0M1488.4 395.5h0M1609.7 357.6h0M1671.4 353.8h0M1557.6 373.4h0M1445.1 430.3h0M1595.2 363.0h0M1676.1 354.9h0M1615.5 356.2h0M1458.4 423.0h0M1614.0 357.8h0M1676.1 356.8h0M1579.8 367.7h0M1564.3 372.4h0M1608.8 358.5h0M1652.6 350.0h0M1556.9 375.6h0M1607.6 358.7h0M1579.7 368.3h0M1590.6 363.4h0M1516.9 384.8h0M1451.4 429.0h0M1661.2 350.6h0M1550.2 377.4h0M1669.5 354.4h0M1595.2 362.3h0M1548.5 377.8h0M1528.4 383.0h0M1442.0 437.7h0M1624.0 354.0h0M1443.7 433.1h0M1586.1 366.2h0M1655.9 349.8h0M1460.3 418.1h0M1685.3 357.0h0M1471.8 406.1h0M1678.0 356.1h0M1497.7 392.4h0M1613.7 356.3h0M1630.0 353.2h0M1582.4 366.4h0M1512.9 385.2h0M1570.5 370.4h0M1654.8 349.3h0M1489.3 396.9h0M1590.7 364.3h0M1596.2 361.6h0M1537.9 379.6h0M1477.7 403.5h0M1624.5 355.3h0M1440.4 438.1h0M1516.2 384.7h0M1607.5 357.5h0M1531.9 381.7h0M1656.8 374.4h0M1518.8 423.9h0M1584.7 405.2h0M1575.9 407.7h0M1442.8 443.7h0M1461.4 444.8h0M1564.3 413.2h0M1625.5 389.7h0M1685.4 359.3h0M1532.4 420.9h0M1465.4 444.8h0M1566.8 410.5h0M1668.8 369.5h0M1456.9 441.6h0M1455.3 447.3h0M1651.4 375.9h0M1442.2 445.8h0M1522.5 421.9h0M1442.2 442.9h0M1489.6 439.0h0M1576.6 407.5h0M1497.9 434.9h0M1660.0 372.1h0M1577.7 407.6h0M1522.2 422.9h0M1444.0 442.6h0M1598.8 401.7h0M1494.2 437.3h0M1664.6 368.9h0M1637.1 384.5h0M1476.3 444.2h0M1477.2 442.0h0M1511.0 426.5h0M1586.2 405.1h0M1636.8 384.1h0M1469.6 444.0h0M1625.0 388.3h0M1676.3 365.2h0M1494.5 437.4h0M1502.5 432.4h0M1501.7 432.0h0M1502.4 431.9h0M1526.8 422.3h0M1656.8 374.7h0M1592.6 404.3h0M1535.9 420.9h0M1500.6 434.7h0M1657.6 375.0h0M1590.0 403.2h0M1457.9 447.4h0M1659.6 373.0h0M1668.4 369.6h0M1627.2 387.9h0M1553.2 415.7h0M1538.2 420.6h0M1444.2 442.1h0M1481.7 442.0h0M1656.2 375.2h0M1477.1 443.1h0M1595.6 401.4h0M1459.8 445.8h0M1498.4 435.7h0M1482.5 442.5h0M1516.8 423.8h0M1576.4 409.1h0M1667.3 369.8h0M1609.8 395.8h0M1486.3 440.6h0M1684.3 361.3h0M1487.5 439.8h0M1678.7 362.7h0M1655.8 375.7h0M1633.9 385.4h0M1605.1 398.2h0M1469.9 446.0h0M1448.1 443.3h0M1592.2 404.6h0M1492.1 438.2h0M1650.3 377.1h0M1539.9 420.0h0M1452.3 449.1h0M1613.0 394.4h0M1464.1 442.7h0M1531.5 422.7h0M1474.9 443.0h0M1517.2 423.9h0M1663.5 371.0h0M1664.1 370.6h0M1547.2 419.1h0M1584.0 405.8h0M1567.1 410.9h0M1547.4 417.0h0M1490.9 439.8h0M1473.1 443.4h0M1480.6 441.9h0M1452.2 444.2h0M1591.2 404.2h0M1655.1 374.2h0M1599.7 400.0h0M1524.9 422.9h0M1647.8 379.1h0M1684.4 358.7h0M1518.4 423.7h0M1449.0 441.4h0M1531.0 421.9h0M1473.6 442.9h0M1519.1 424.2h0M1580.7 408.1h0M1590.1 405.1h0M1582.1 406.4h0M1543.1 418.5h0M1455.6 446.7h0M1653.1 375.0h0M1484.7 440.6h0M1517.6 424.7h0M1502.6 432.0h0M1560.9 414.5h0M1513.0 425.9h0M1452.1 444.8h0M1669.9 365.7h0M1528.4 422.6h0M1580.3 407.2h0M1590.9 404.3h0M1520.0 423.1h0M1538.5 420.7h0M1580.6 407.8h0M1538.2 420.6h0M1646.5 380.4h0M1500.2 434.7h0M1501.4 433.9h0M1449.6 445.4h0M1581.4 407.2h0M1667.4 369.5h0M1579.6 407.2h0M1443.3 445.9h0M1579.4 407.8h0M1481.0 442.3h0M1452.8 447.3h0M1643.8 380.4h0M1610.5 397.0h0M1515.3 423.2h0M1628.0 387.5h0M1480.0 442.2h0M1646.6 380.4h0M1580.7 408.0h0M1483.0 441.5h0M1442.1 443.1h0M1657.4 373.0h0M1602.3 399.7h0M1684.9 361.9h0M1470.6 444.1h0M1445.4 435.5h0M1387.0 465.4h0M1418.4 444.3h0M1413.9 448.1h0M1407.0 452.7h0M1386.2 461.1h0M1442.8 442.3h0M1430.7 439.6h0M1385.1 452.2h0M1444.7 430.8h0M1401.4 456.3h0M1426.9 446.7h0M1405.6 457.7h0M1405.8 458.0h0M1377.9 466.4h0M1381.0 460.1h0M1405.9 446.6h0M1406.3 458.1h0M1376.6 459.4h0M1444.2 438.7h0M1402.1 460.5h0M1429.9 438.0h0M1417.0 442.5h0M1429.9 444.6h0M1431.5 435.4h0M1440.8 434.9h0M1435.2 441.1h0M1438.0 433.3h0M1377.9 462.7h0M1441.0 440.0h0M1410.5 444.6h0M1413.0 448.4h0M1437.9 446.4h0M1408.4 445.1h0M1384.5 467.4h0M1418.0 443.0h0M1432.4 437.8h0M1406.7 458.4h0M1381.4 455.6h0M1377.8 458.2h0M1401.0 450.8h0M1394.2 448.2h0M1409.1 450.1h0M1427.3 441.1h0M1415.8 445.3h0M1428.2 438.6h0M1409.2 450.0h0M1407.0 452.4h0M1412.6 446.6h0M1433.3 451.0h0M1414.2 451.7h0M1426.1 441.8h0M1416.6 447.7h0M1408.9 449.3h0M1412.6 444.8h0M1391.4 452.3h0M1416.8 443.8h0M1430.2 450.5h0M1428.7 441.0h0M1441.9 437.1h0M1400.0 455.8h0M1421.6 445.0h0M1430.6 449.5h0M1394.8 451.5h0M1402.6 456.7h0M1422.2 440.7h0M1402.0 460.3h0M1443.1 442.5h0M1430.2 449.4h0M1390.0 450.7h0M1418.0 445.8h0M1425.2 441.7h0M1405.2 457.7h0M1380.7 460.5h0M1385.0 460.4h0M1426.8 453.1h0M1428.2 438.0h0M1405.5 453.0h0M1419.9 450.7h0M1444.1 450.1h0M1389.0 452.5h0M1443.8 432.2h0M1443.7 431.3h0M1416.1 442.0h0M1383.6 458.0h0M1431.1 446.7h0M1396.8 449.3h0M1399.8 448.8h0M1390.9 457.3h0M1409.2 458.4h0M1380.5 462.5h0M1414.7 442.7h0M1400.0 448.1h0M1438.3 438.3h0M1378.7 462.5h0M1412.1 456.9h0M1425.8 440.0h0M1439.4 430.7h0M1424.2 437.7h0M1433.0 437.1h0M1431.4 448.7h0M1429.5 437.0h0M1402.8 446.5h0M1425.7 453.6h0M1411.6 452.9h0M1422.0 440.2h0M1400.7 451.4h0M1428.0 442.7h0M1400.5 454.8h0M1388.8 451.1h0M1391.1 449.5h0M1422.2 445.6h0M1418.4 449.0h0M1377.9 467.8h0M1433.0 433.8h0M1405.0 457.4h0M1403.9 459.0h0M1424.1 448.5h0M1439.2 447.0h0M1416.1 440.5h0M1406.7 455.1h0M1411.7 451.7h0M1399.2 460.2h0M1391.7 459.3h0M1405.4 446.2h0M1375.4 459.1h0M1394.8 455.6h0M1375.9 457.9h0M1431.3 451.6h0M1405.0 451.9h0M1417.4 440.9h0M1412.8 452.9h0M1442.0 443.6h0M1413.2 448.0h0M1439.7 441.5h0M1408.4 455.4h0M1405.5 444.8h0M1416.6 455.0h0M1400.6 447.2h0M1381.6 467.5h0M1382.0 463.6h0M1380.3 462.2h0M1439.6 435.5h0M1396.1 457.4h0M1415.3 450.0h0M1402.2 445.6h0M1416.9 444.3h0M1418.7 446.6h0M1393.3 464.6h0M1397.2 463.0h0M1260.0 525.8h0M1224.3 523.2h0M1298.8 527.5h0M1238.3 502.8h0M1279.2 512.3h0M1268.3 502.7h0M1296.8 511.1h0M1297.0 500.2h0M1237.9 513.1h0M1244.5 505.9h0M1298.3 515.3h0M1294.4 514.5h0M1281.2 518.0h0M1224.1 519.6h0M1277.8 520.1h0M1255.2 501.4h0M1285.1 527.1h0M1217.9 501.2h0M1250.0 520.6h0M1251.5 522.9h0M1289.5 516.7h0M1266.2 518.0h0M1244.7 505.7h0M1292.1 507.3h0M1284.7 514.5h0M1277.1 522.0h0M1289.7 523.5h0M1240.8 523.4h0M1288.5 518.0h0M1229.5 527.6h0M1282.3 510.8h0M1238.7 522.8h0M1270.0 510.5h0M1291.8 527.7h0M1271.7 523.3h0M1264.5 508.5h0M1282.3 519.6h0M1289.5 509.7h0M1294.6 519.5h0M1278.0 523.6h0M1357.3 479.3h0M1373.9 474.5h0M1362.8 462.9h0M1349.2 470.5h0M1345.3 475.5h0M1362.3 479.9h0M1343.1 487.8h0M1360.8 477.1h0M1371.5 464.8h0M1366.7 473.6h0M1352.5 483.0h0M1373.5 458.1h0M1372.5 465.0h0M1342.2 485.9h0M1359.4 468.1h0M1358.7 478.6h0M1356.3 472.6h0M1373.6 472.3h0M1348.4 476.9h0M1355.2 468.1h0M1347.7 469.4h0M1346.4 475.9h0M1349.6 480.5h0M1343.5 473.5h0M847.8 652.8h0M852.1 667.5h0M859.0 674.4h0M865.9 675.3h0M872.8 636.4h0M874.6 647.6h0M884.9 636.4h0M898.8 639.0h0M898.8 641.6h0M909.1 667.5h0M914.3 646.8h0M917.8 626.0h0M927.3 617.4h0M939.4 648.5h0M890.1 677.0h0M898.8 677.0h0M919.5 678.7h0M980.8 625.2h0M975.6 599.2h0M1005.9 594.9h0M1005.9 597.5h0M1023.2 586.3h0M1035.3 588.0h0M1055.1 591.5h0M1060.3 582.8h0M1065.5 591.5h0M1073.3 586.3h0M1083.6 568.1h0M1088.0 580.2h0M1088.0 583.7h0M1104.4 588.0h0M1109.6 593.2h0M1118.2 594.9h0M1123.4 559.5h0M1130.3 553.4h0M1100.1 556.0h0M900.5 593.2h0M903.9 597.5h0M886.7 607.0h0M893.6 608.7h0M871.1 614.8h0M845.2 617.4h0M1143.0 505.4h0M1147.3 572.8h0M1147.3 583.2h0M1189.6 566.8h0M1207.8 555.5h0M1300.2 476.0h0M1300.2 524.4h0M1325.3 467.4h0M1325.3 514.0h0M1327.0 522.7h0M1334.8 513.2h0M1343.4 510.6h0M1336.5 497.6h0M1327.0 496.8h0M1366.7 503.7h0M1366.7 513.2h0M1381.4 508.0h0M1397.0 518.4h0M1415.1 500.2h0M1396.1 438.0h0M1406.5 432.0h0M1413.4 432.8h0M1422.0 422.5h0M1418.6 464.8h0M1378.8 479.5h0M1311.4 486.4h0M1313.2 495.0h0M1320.1 482.9h0M1330.4 484.7h0M1346.0 484.7h0M1354.6 489.9h0M1359.8 476.0h0M1347.7 476.0h0M1302.8 496.8h0M1302.8 510.6h0M1294.2 489.9h0M1292.4 503.7h0M1285.5 512.3h0M1295.9 500.2h0M1309.7 505.4h0M1308.0 489.9h0M1352.9 479.5h0M1358.1 482.9h0M1366.7 474.3h0M1371.9 469.1h0M1282.1 521.0h0M1271.7 524.4h0M1261.3 521.0h0M1251.0 524.4h0M1240.6 521.0h0M1233.7 524.4h0M1226.8 527.9h0M1219.9 524.4h0M1276.9 527.9h0M1289.0 526.1h0M1132.6 552.1h0M1130.9 546.9h0M1155.9 538.2h0M1135.2 543.4h0M1522.8 438.1h0M1532.3 426.9h0M1447.6 456.3h0M1447.6 473.5h0M1421.7 422.6h0M1420.0 464.9h0M1696.5 375.0h0M1713.8 369.0h0M1703.4 330.1h0M1660.2 339.6h0M1705.1 345.7h0M1712.0 347.4h0M1545.3 369.0h0M1561.7 364.7h0M1514.2 379.4h0M1691.3 362.9h0M1675.7 368.1h0M1663.6 380.2h0M1442.5 406.1h0M1445.9 411.3h0M1454.6 409.6h0M1458.0 401.0h0M1459.7 414.8h0M1442.5 420.0h0M1541.0 421.7h0M1551.3 418.2h0M1670.6 373.3h0M1679.2 369.9h0M1689.6 356.0h0M1699.9 352.6h0M1706.8 349.1h0M1710.3 343.9h0M1694.8 349.1h0M1682.7 361.2h0M1668.8 376.8h0M1653.3 383.7h0M1644.6 385.4h0M1627.4 390.6h0M1632.5 387.1h0M1702.9 330.0h0M1713.0 337.4h0M1742.5 329.1h0M1742.5 338.3h0M1762.8 321.8h0M1738.8 342.9h0M1700.1 344.8h0M1706.6 344.8h0M1710.3 346.6h0M1708.4 348.5h0M1713.0 348.5h0M1697.4 349.4h0M1693.7 354.9h0M1704.7 354.9h0M1723.2 350.3h0M1733.3 355.9h0M1742.5 352.2h0M1754.5 356.8h0M1724.1 364.1h0M1714.0 368.8h0M1697.4 375.2h0M1691.8 363.2h0M1764.7 333.7h0M1773.9 341.1h0M1784.0 344.8h0M1782.2 347.6h0M1788.6 329.1h0M1791.4 319.9h0M1796.0 322.7h0M1803.4 319.0h0M1808.0 320.8h0M1815.3 319.0h0M1814.4 325.4h0M1810.7 308.8h0M1827.3 321.8h0M1827.3 323.6h0M1796.9 342.0h0M1800.6 345.7h0M1837.5 336.5h0M1848.5 308.8h0M1851.3 315.3h0M1859.6 294.1h0M1868.8 297.8h0M1876.2 297.8h0M1875.3 308.8h0M1878.0 307.0h0M1887.2 294.1h0M1893.7 289.5h0M1896.5 295.0h0M1902.0 287.6h0M1904.7 295.9h0M1914.0 290.4h0M1921.3 292.3h0M1927.8 288.6h0M1921.3 307.9h0M1956.4 292.3h0M1976.6 289.5h0M1707.5 342.9h0M1711.2 350.3h0M1701.1 350.3h0M256.8 863.1h0M265.1 872.4h0M271.5 873.3h0M304.7 866.8h0M320.4 871.4h0M327.7 858.5h0M327.7 865.0h0M344.3 822.6h0M346.2 823.1h0M348.0 851.2h0M344.3 864.1h0M358.2 869.6h0M361.8 863.1h0M371.1 844.7h0M374.7 848.4h0M404.2 791.2h0M400.6 817.1h0M410.7 814.3h0M432.8 798.6h0M373.8 878.8h0M494.9 767.5h0M505.9 780.4h0M544.7 753.1h0M548.3 731.5h0M565.9 747.2h0M565.9 788.7h0M638.7 718.6h0M644.2 715.9h0M643.3 736.1h0M651.6 725.1h0M672.8 722.3h0M681.1 737.1h0M692.1 724.1h0M654.3 712.2h0M774.1 689.7h0M720.7 666.1h0M707.8 673.5h0M689.4 680.8h0M696.7 678.1h0M638.9 719.0h0M643.2 736.2h0M651.1 724.0h0M672.0 721.8h0M680.6 737.0h0M692.2 724.0h0M645.4 716.1h0M774.3 689.4h0M791.5 680.8h0M807.4 677.9h0M805.9 690.2h0M816.0 693.8h0M816.7 696.6h0M831.1 691.6h0M836.2 686.6h0M839.1 680.1h0M844.8 684.4h0M836.9 665.7h0M815.3 627.5h0M721.0 666.4h0M709.4 672.2h0M697.2 677.9h0M689.3 680.8h0M847.7 679.4h0" stroke="#0072bd" stroke-width="4" stroke-linecap="round" fill="none"/>
<path d="M168 878.5H236M240.6 878.5H328M335 878.5H355.8" stroke="#0072bd" stroke-width="4.6"/>
<line x1="166.6" y1="879.1" x2="2084.5" y2="203.3" stroke="#edb120" stroke-width="4.5"/>
<g font-size="52" fill="#262626">
<text x="151" y="1058.5" text-anchor="end" font-size="52">5</text>
<text transform="matrix(1.203 0 0 1 83.4 1061.4)">−</text>
<text x="151" y="898.9" text-anchor="end" font-size="52">0</text>
<text x="151" y="739.3" text-anchor="end" font-size="52">5</text>
<text x="151" y="579.6" text-anchor="end" font-size="52">10</text>
<text x="151" y="420" text-anchor="end" font-size="52">15</text>
<text x="151" y="260.4" text-anchor="end" font-size="52">20</text>
<text x="151" y="100.8" text-anchor="end" font-size="52">25</text>
<text x="166.6" y="1106" text-anchor="middle">0</text>
<text x="358.4" y="1106" text-anchor="middle">1</text>
<text x="550.2" y="1106" text-anchor="middle">2</text>
<text x="742" y="1106" text-anchor="middle">3</text>
<text x="933.8" y="1106" text-anchor="middle">4</text>
<text x="1125.5" y="1106" text-anchor="middle">5</text>
<text x="1317.3" y="1106" text-anchor="middle">6</text>
<text x="1509.1" y="1106" text-anchor="middle">7</text>
<text x="1700.9" y="1106" text-anchor="middle">8</text>
<text x="1892.7" y="1106" text-anchor="middle">9</text>
<text x="2084.5" y="1106" text-anchor="middle">10</text>
</g>
<text x="1125.5" y="60.3" font-size="52.5" font-weight="bold" text-anchor="middle" fill="#000">Month 1</text>
<text x="1125.5" y="1188.8" font-size="52" text-anchor="middle" fill="#262626" textLength="392.3" lengthAdjust="spacing">Flow Rate (m<tspan font-size="41.6" dy="-26">3</tspan><tspan dy="26">/s)</tspan></text>
<text transform="translate(62.6 559.1) rotate(-90)" x="0" y="0" font-size="50" text-anchor="middle" fill="#262626" textLength="289.4" lengthAdjust="spacing">Power (MW)</text>
<text x="263" y="246.6" font-size="52" fill="#000" xml:space="preserve" textLength="654.2" lengthAdjust="spacing">Linear:  y = 2.117*x - 0.0226</text>
<rect x="1673.6" y="875.5" width="340.3" height="133.4" fill="#fff" stroke="#262626" stroke-width="4.6"/>
<line x1="1679.3" y1="974.9" x2="1741.4" y2="974.9" stroke="#edb120" stroke-width="4.5"/>
<rect x="1708.7" y="908.7" width="3.2" height="3.2" fill="#0072bd"/>
<text x="1744.5" y="930" font-size="49" fill="#000" textLength="99.3" lengthAdjust="spacing">data</text>
<text x="1788" y="995.7" font-size="49" fill="#000" textLength="218.7" lengthAdjust="spacing">linear law</text>
<path d="M477 1467V2412.3M792.3 1467V2412.3M1107.5 1467V2412.3M1422.7 1467V2412.3M1738 1467V2412.3" stroke="#262626" stroke-opacity="0.15" stroke-width="3.6" fill="none"/>
<path d="M161.8 2254.8H2053.2M161.8 2097.2H2053.2M161.8 1939.7H2053.2M161.8 1782.1H2053.2M161.8 1624.5H2053.2" stroke="#262626" stroke-opacity="0.15" stroke-width="3.6" fill="none"/>
<path d="M161.8 2412.3H2053.2V1467H161.8ZM477 2412.3v-20M477 1467v20M792.3 2412.3v-20M792.3 1467v20M1107.5 2412.3v-20M1107.5 1467v20M1422.7 2412.3v-20M1422.7 1467v20M1738 2412.3v-20M1738 1467v20M161.8 2254.8h20M2053.2 2254.8h-20M161.8 2097.2h20M2053.2 2097.2h-20M161.8 1939.7h20M2053.2 1939.7h-20M161.8 1782.1h20M2053.2 1782.1h-20M161.8 1624.5h20M2053.2 1624.5h-20" stroke="#262626" stroke-width="4.6" fill="none" stroke-linejoin="miter" stroke-linecap="square"/>
<path d="M573.0 2236.0L576.0 2235.9L579.0 2233.0L582.0 2229.2L585.0 2225.9L588.0 2224.4L591.0 2223.5L594.0 2222.5L597.0 2221.6L600.0 2220.3L603.0 2218.3L606.0 2216.2L609.0 2214.2L612.0 2212.1L615.0 2210.1L618.0 2208.0L621.0 2206.0L624.0 2205.3L627.0 2204.6L630.0 2204.0L633.0 2203.3L636.0 2202.6L639.0 2201.9L642.0 2201.2L645.0 2199.9L648.0 2198.3L651.0 2196.7L654.0 2195.1L657.0 2193.5L660.0 2192.4L663.0 2191.5L666.0 2190.7L669.0 2189.8L672.0 2188.9L675.0 2188.0L678.0 2187.2L681.0 2186.3L684.0 2184.0L687.0 2181.0L690.0 2178.0L693.0 2174.0L696.0 2169.5L699.0 2167.4L702.0 2166.5L705.0 2165.5L708.0 2164.6L711.0 2163.5L714.0 2162.0L717.0 2160.5L720.0 2159.0L723.0 2157.5L726.0 2155.7L729.0 2153.8L732.0 2151.9L735.0 2150.1L738.0 2148.2L741.0 2146.3L744.0 2144.7L747.0 2143.9L750.0 2143.1L753.0 2142.2L756.0 2141.4L759.0 2140.6L762.0 2139.5L765.0 2138.1L768.0 2136.7L771.0 2135.3L774.0 2133.8L777.0 2132.4L780.0 2131.0L783.0 2129.3L786.0 2127.7L789.0 2126.0L792.0 2124.3L795.0 2122.7L798.0 2121.0L801.0 2120.2L804.0 2119.5L807.0 2118.8L810.0 2118.0L813.0 2117.2L816.0 2116.5L819.0 2115.8L822.0 2115.0L825.0 2114.2L828.0 2112.9L831.0 2111.2L834.0 2109.6L837.0 2107.9L840.0 2106.3L843.0 2104.6L846.0 2103.0L849.0 2101.3L852.0 2099.7L855.0 2098.0L858.0 2097.0L861.0 2096.1L864.0 2095.1L867.0 2094.2L870.0 2093.2L873.0 2092.3L876.0 2091.3L879.0 2088.8L882.0 2085.5L885.0 2082.3L888.0 2079.0L891.0 2077.8L894.0 2076.5L897.0 2075.3L900.0 2074.1L903.0 2072.9L906.0 2071.6L909.0 2070.4L912.0 2069.5L915.0 2068.8L918.0 2068.2L921.0 2067.5L924.0 2066.7L927.0 2065.8L930.0 2065.0L933.0 2064.1L936.0 2063.2L939.0 2062.3L942.0 2061.5L945.0 2060.6L948.0 2059.6L951.0 2058.5L954.0 2057.5L957.0 2056.4L960.0 2055.3L963.0 2054.2L966.0 2053.1L969.0 2052.0L972.0 2051.1L975.0 2050.3L978.0 2049.4L981.0 2048.6L984.0 2047.7L987.0 2046.9L990.0 2046.0L993.0 2045.1L996.0 2044.3L999.0 2043.6L1002.0 2043.1L1005.0 2042.5L1008.0 2042.0L1011.0 2041.4L1014.0 2040.9L1017.0 2040.3L1020.0 2039.7L1023.0 2039.2L1026.0 2038.5L1029.0 2037.8L1032.0 2037.0L1035.0 2036.2L1038.0 2035.5L1041.0 2034.8L1044.0 2034.0L1047.0 2033.2L1050.0 2032.5L1053.0 2031.8L1056.0 2031.3L1059.0 2030.8L1062.0 2030.3L1065.0 2029.8L1068.0 2029.3L1071.0 2029.0L1074.0 2029.0L1077.0 2029.0L1080.0 2029.0L1083.0 2028.3L1086.0 2027.2L1089.0 2025.2L1092.0 2022.5L1095.0 2019.8L1098.0 2017.0L1101.0 2015.7L1104.0 2014.5L1107.0 2013.2L1110.0 2011.9L1113.0 2010.7L1116.0 2009.4L1119.0 2007.8L1122.0 2005.9L1125.0 2004.1L1128.0 2002.3L1131.0 2000.4L1134.0 1998.6L1137.0 1995.1L1140.0 1990.7L1143.0 1986.3L1146.0 1981.9L1149.0 1977.5L1152.0 1975.0L1155.0 1973.5L1158.0 1972.0L1161.0 1970.5L1164.0 1969.0L1167.0 1967.5L1170.0 1966.0L1173.0 1964.5L1176.0 1963.0L1179.0 1961.0L1182.0 1958.0L1185.0 1955.0L1188.0 1952.0L1191.0 1949.0L1194.0 1948.2L1197.0 1947.5L1200.0 1946.8L1203.0 1946.0L1206.0 1945.2L1209.0 1944.5L1212.0 1943.8L1215.0 1943.0L1218.0 1942.2L1221.0 1941.4L1224.0 1940.7L1227.0 1939.9L1230.0 1939.1L1233.0 1938.3L1236.0 1937.6L1239.0 1936.8L1242.0 1936.0L1245.0 1934.3L1248.0 1932.5L1251.0 1930.8L1254.0 1929.1L1257.0 1927.3L1260.0 1925.6L1263.0 1924.2L1266.0 1923.0L1269.0 1921.7L1272.0 1920.5L1275.0 1919.3L1278.0 1918.1L1281.0 1916.9L1284.0 1915.6L1287.0 1914.4L1290.0 1912.5L1293.0 1910.3L1296.0 1908.1L1299.0 1905.9L1302.0 1903.7L1305.0 1902.3L1308.0 1901.2L1311.0 1900.1L1314.0 1899.0L1317.0 1897.9L1320.0 1896.8L1323.0 1895.7L1326.0 1894.6L1329.0 1893.5L1332.0 1892.4L1335.0 1891.3L1338.0 1890.2L1341.0 1889.1L1344.0 1888.0L1347.0 1886.2L1350.0 1884.3L1353.0 1882.5L1356.0 1880.7L1359.0 1878.8L1362.0 1877.0L1365.0 1876.0L1368.0 1875.0L1371.0 1874.0L1374.0 1873.0L1377.0 1872.0L1380.0 1871.0L1383.0 1869.6L1386.0 1868.2L1389.0 1866.7L1392.0 1865.3L1395.0 1863.9L1398.0 1862.5L1401.0 1860.8L1404.0 1858.9L1407.0 1857.1L1410.0 1855.3L1413.0 1853.4L1416.0 1851.6L1419.0 1850.1L1422.0 1848.6L1425.0 1847.2L1428.0 1845.8L1431.0 1844.4L1434.0 1842.9L1437.0 1841.5L1440.0 1840.0L1443.0 1838.5L1446.0 1837.0L1449.0 1835.5L1452.0 1834.0L1455.0 1832.8L1458.0 1832.0L1461.0 1831.2L1464.0 1830.5L1467.0 1829.8L1470.0 1829.0L1473.0 1826.6L1476.0 1824.3L1479.0 1821.9L1482.0 1819.6L1485.0 1817.3L1488.0 1815.4L1491.0 1813.4L1494.0 1811.5L1497.0 1809.6L1500.0 1807.6L1503.0 1805.7L1506.0 1804.5L1509.0 1803.8L1512.0 1803.2L1515.0 1802.5L1518.0 1801.8L1521.0 1801.1L1524.0 1800.4L1527.0 1799.7L1530.0 1799.0L1533.0 1798.9L1536.0 1798.7L1539.0 1798.6L1542.0 1798.5L1545.0 1798.3L1548.0 1798.2L1551.0 1798.0L1554.0 1796.9L1557.0 1795.4L1560.0 1793.8L1563.0 1792.2L1566.0 1790.6L1569.0 1789.1L1572.0 1787.7L1575.0 1786.9L1578.0 1786.1L1581.0 1785.2L1584.0 1784.4L1587.0 1783.6L1590.0 1782.7L1593.0 1781.9L1596.0 1781.1L1599.0 1780.3L1602.0 1779.5L1605.0 1778.3L1608.0 1776.2L1611.0 1774.2L1614.0 1772.1L1617.0 1770.0L1620.0 1769.2L1623.0 1768.4L1626.0 1767.7L1629.0 1766.9L1632.0 1766.1L1635.0 1765.3L1638.0 1764.6L1641.0 1763.8L1644.0 1763.0L1647.0 1762.1L1650.0 1761.1L1653.0 1760.2L1656.0 1759.2L1659.0 1758.3L1662.0 1757.3L1665.0 1756.2L1668.0 1755.1L1671.0 1754.0L1674.0 1752.9L1677.0 1751.8L1680.0 1750.6L1683.0 1749.5L1686.0 1748.4L1689.0 1747.5L1692.0 1746.7L1695.0 1745.9L1698.0 1745.2L1701.0 1744.4L1704.0 1743.6L1707.0 1742.8L1710.0 1742.1L1713.0 1741.3L1716.0 1740.5L1719.0 1739.8L1722.0 1739.0L1725.0 1738.2L1728.0 1737.5L1731.0 1736.8L1734.0 1736.0L1737.0 1735.2L1740.0 1734.5L1743.0 1733.8L1746.0 1733.0L1749.0 1732.6L1752.0 1732.1L1755.0 1731.7L1758.0 1731.3L1761.0 1730.5L1764.0 1729.0L1767.0 1727.5L1770.0 1726.0L1773.0 1724.5L1776.0 1723.0L1779.0 1721.5L1782.0 1720.0L1785.0 1718.6L1788.0 1717.2L1791.0 1715.8L1794.0 1714.5L1797.0 1713.1L1800.0 1711.7L1803.0 1710.3L1806.0 1708.9L1809.0 1707.8L1812.0 1707.4L1815.0 1706.9L1818.0 1706.4L1821.0 1705.9L1824.0 1705.4L1827.0 1705.0L1830.0 1704.5L1833.0 1704.0L1836.0 1703.9L1839.0 1703.8L1842.0 1703.6L1845.0 1703.5L1848.0 1703.4L1851.0 1703.2L1854.0 1703.1L1857.0 1703.0L1860.0 1703.0L1863.0 1703.0L1866.0 1703.0L1869.0 1703.0L1872.0 1703.0L1875.0 1703.0L1878.0 1703.0L1881.0 1703.0L1884.0 1703.0L1887.0 1703.1L1890.0 1703.2L1893.0 1703.3L1896.0 1703.4L1899.0 1703.5L1902.0 1704.0L1905.0 1705.0L1908.0 1705.9L1911.0 1706.7L1914.0 1707.6L1917.0 1708.5L1920.0 1709.2L1923.0 1709.6L1926.0 1709.9L1929.0 1709.8L1931.0 1709.5L1931.0 1709.5L1929.0 1710.0L1926.0 1711.1L1923.0 1712.0L1920.0 1713.1L1917.0 1714.4L1914.0 1716.0L1911.0 1717.6L1908.0 1719.1L1905.0 1720.8L1902.0 1722.5L1899.0 1723.7L1896.0 1724.6L1893.0 1725.4L1890.0 1726.4L1887.0 1727.5L1884.0 1728.7L1881.0 1729.8L1878.0 1731.0L1875.0 1731.1L1872.0 1731.3L1869.0 1731.4L1866.0 1731.6L1863.0 1731.7L1860.0 1731.9L1857.0 1732.0L1854.0 1735.0L1851.0 1738.0L1848.0 1741.0L1845.0 1742.4L1842.0 1743.1L1839.0 1743.8L1836.0 1744.4L1833.0 1745.1L1830.0 1745.8L1827.0 1746.2L1824.0 1746.5L1821.0 1746.8L1818.0 1747.0L1815.0 1747.3L1812.0 1747.6L1809.0 1747.9L1806.0 1748.6L1803.0 1749.5L1800.0 1750.5L1797.0 1751.4L1794.0 1752.5L1791.0 1754.0L1788.0 1755.5L1785.0 1757.0L1782.0 1758.5L1779.0 1759.2L1776.0 1759.6L1773.0 1759.9L1770.0 1760.3L1767.0 1760.6L1764.0 1761.0L1761.0 1762.3L1758.0 1763.7L1755.0 1765.0L1752.0 1766.3L1749.0 1767.7L1746.0 1769.0L1743.0 1769.9L1740.0 1770.7L1737.0 1771.6L1734.0 1772.4L1731.0 1773.3L1728.0 1774.1L1725.0 1775.0L1722.0 1775.9L1719.0 1776.7L1716.0 1777.6L1713.0 1778.6L1710.0 1779.6L1707.0 1780.5L1704.0 1781.5L1701.0 1782.5L1698.0 1783.4L1695.0 1784.4L1692.0 1785.4L1689.0 1786.4L1686.0 1787.6L1683.0 1788.7L1680.0 1789.9L1677.0 1791.1L1674.0 1792.2L1671.0 1793.4L1668.0 1794.7L1665.0 1796.0L1662.0 1797.3L1659.0 1798.6L1656.0 1799.9L1653.0 1801.1L1650.0 1802.4L1647.0 1803.7L1644.0 1805.0L1641.0 1806.3L1638.0 1807.7L1635.0 1809.0L1632.0 1810.3L1629.0 1811.7L1626.0 1813.0L1623.0 1814.3L1620.0 1815.7L1617.0 1817.0L1614.0 1817.9L1611.0 1818.7L1608.0 1819.6L1605.0 1820.4L1602.0 1821.3L1599.0 1822.1L1596.0 1823.0L1593.0 1823.9L1590.0 1824.7L1587.0 1825.9L1584.0 1827.3L1581.0 1828.7L1578.0 1830.1L1575.0 1831.5L1572.0 1832.9L1569.0 1834.3L1566.0 1835.7L1563.0 1837.1L1560.0 1838.3L1557.0 1839.3L1554.0 1840.3L1551.0 1841.3L1548.0 1842.3L1545.0 1843.3L1542.0 1844.3L1539.0 1845.3L1536.0 1846.3L1533.0 1847.4L1530.0 1848.4L1527.0 1849.5L1524.0 1850.6L1521.0 1851.6L1518.0 1852.7L1515.0 1853.8L1512.0 1854.9L1509.0 1855.9L1506.0 1857.0L1503.0 1858.8L1500.0 1860.5L1497.0 1862.2L1494.0 1864.0L1491.0 1865.8L1488.0 1867.5L1485.0 1869.2L1482.0 1871.0L1479.0 1872.8L1476.0 1874.5L1473.0 1876.2L1470.0 1878.0L1467.0 1879.1L1464.0 1880.2L1461.0 1881.4L1458.0 1882.5L1455.0 1883.6L1452.0 1884.3L1449.0 1884.8L1446.0 1885.3L1443.0 1885.8L1440.0 1886.3L1437.0 1886.8L1434.0 1887.6L1431.0 1888.6L1428.0 1889.5L1425.0 1890.5L1422.0 1891.4L1419.0 1892.4L1416.0 1893.5L1413.0 1895.0L1410.0 1896.5L1407.0 1898.0L1404.0 1899.5L1401.0 1901.0L1398.0 1902.6L1395.0 1904.3L1392.0 1906.1L1389.0 1907.8L1386.0 1909.5L1383.0 1911.3L1380.0 1913.0L1377.0 1913.4L1374.0 1913.9L1371.0 1914.3L1368.0 1914.8L1365.0 1915.2L1362.0 1915.7L1359.0 1916.1L1356.0 1916.6L1353.0 1917.0L1350.0 1919.1L1347.0 1921.1L1344.0 1923.2L1341.0 1925.2L1338.0 1927.3L1335.0 1929.3L1332.0 1931.2L1329.0 1933.1L1326.0 1934.9L1323.0 1936.7L1320.0 1938.6L1317.0 1940.4L1314.0 1941.6L1311.0 1942.4L1308.0 1943.2L1305.0 1944.1L1302.0 1944.9L1299.0 1945.7L1296.0 1947.1L1293.0 1948.8L1290.0 1950.5L1287.0 1952.2L1284.0 1953.9L1281.0 1955.6L1278.0 1957.3L1275.0 1959.0L1272.0 1960.5L1269.0 1962.0L1266.0 1963.5L1263.0 1965.0L1260.0 1966.5L1257.0 1968.0L1254.0 1969.5L1251.0 1970.6L1248.0 1971.5L1245.0 1972.4L1242.0 1973.3L1239.0 1974.2L1236.0 1975.1L1233.0 1976.0L1230.0 1977.0L1227.0 1977.9L1224.0 1978.9L1221.0 1979.8L1218.0 1980.8L1215.0 1981.7L1212.0 1982.7L1209.0 1984.0L1206.0 1985.5L1203.0 1987.0L1200.0 1988.5L1197.0 1990.0L1194.0 1991.5L1191.0 1993.0L1188.0 1994.5L1185.0 1996.2L1182.0 1998.0L1179.0 1999.3L1176.0 1999.8L1173.0 2000.1L1170.0 2000.4L1167.0 2000.6L1164.0 2000.6L1161.0 2000.6L1158.0 2000.3L1155.0 1999.9L1152.0 1999.7L1149.0 2000.0L1146.0 2001.2L1143.0 2002.5L1140.0 2003.7L1137.0 2005.0L1134.0 2006.3L1131.0 2007.5L1128.0 2008.8L1125.0 2010.0L1122.0 2011.3L1119.0 2012.6L1116.0 2013.8L1113.0 2015.1L1110.0 2016.3L1107.0 2017.6L1104.0 2018.9L1101.0 2020.1L1098.0 2021.4L1095.0 2022.6L1092.0 2023.9L1089.0 2025.2L1086.0 2027.2L1083.0 2028.3L1080.0 2029.0L1077.0 2030.2L1074.0 2031.4L1071.0 2032.7L1068.0 2034.0L1065.0 2035.2L1062.0 2036.5L1059.0 2037.7L1056.0 2039.0L1053.0 2040.3L1050.0 2041.5L1047.0 2042.8L1044.0 2044.0L1041.0 2045.3L1038.0 2046.6L1035.0 2047.8L1032.0 2049.1L1029.0 2050.3L1026.0 2051.6L1023.0 2052.9L1020.0 2054.1L1017.0 2055.4L1014.0 2056.6L1011.0 2057.9L1008.0 2059.2L1005.0 2060.4L1002.0 2061.7L999.0 2062.9L996.0 2064.2L993.0 2064.8L990.0 2065.1L987.0 2065.4L984.0 2065.6L981.0 2065.8L978.0 2066.0L975.0 2066.8L972.0 2067.6L969.0 2068.3L966.0 2069.1L963.0 2069.9L960.0 2070.7L957.0 2071.4L954.0 2072.2L951.0 2073.0L948.0 2074.1L945.0 2075.1L942.0 2076.2L939.0 2077.2L936.0 2078.3L933.0 2079.3L930.0 2080.4L927.0 2081.4L924.0 2082.5L921.0 2083.5L918.0 2084.6L915.0 2085.6L912.0 2086.9L909.0 2088.3L906.0 2089.7L903.0 2091.1L900.0 2092.4L897.0 2093.8L894.0 2095.2L891.0 2096.6L888.0 2097.9L885.0 2099.3L882.0 2100.7L879.0 2102.1L876.0 2103.7L873.0 2105.7L870.0 2107.7L867.0 2109.7L864.0 2111.7L861.0 2113.7L858.0 2115.7L855.0 2117.7L852.0 2119.7L849.0 2121.6L846.0 2123.3L843.0 2125.1L840.0 2126.8L837.0 2128.5L834.0 2130.3L831.0 2132.0L828.0 2133.0L825.0 2134.0L822.0 2135.0L819.0 2136.0L816.0 2137.0L813.0 2138.0L810.0 2139.0L807.0 2140.0L804.0 2141.0L801.0 2142.0L798.0 2143.0L795.0 2144.6L792.0 2146.2L789.0 2147.8L786.0 2149.4L783.0 2151.0L780.0 2152.6L777.0 2154.2L774.0 2155.9L771.0 2157.5L768.0 2159.0L765.0 2160.5L762.0 2162.0L759.0 2163.5L756.0 2165.0L753.0 2166.5L750.0 2167.6L747.0 2168.6L744.0 2169.6L741.0 2170.5L738.0 2171.5L735.0 2172.5L732.0 2173.4L729.0 2174.4L726.0 2175.4L723.0 2176.7L720.0 2178.8L717.0 2181.0L714.0 2183.1L711.0 2185.2L708.0 2187.3L705.0 2189.5L702.0 2191.6L699.0 2193.6L696.0 2195.4L693.0 2197.1L690.0 2198.9L687.0 2200.7L684.0 2202.5L681.0 2204.2L678.0 2206.0L675.0 2207.5L672.0 2209.0L669.0 2210.5L666.0 2212.0L663.0 2213.5L660.0 2215.0L657.0 2216.2L654.0 2217.5L651.0 2218.7L648.0 2219.9L645.0 2221.2L642.0 2222.4L639.0 2223.6L636.0 2224.8L633.0 2226.0L630.0 2227.2L627.0 2228.4L624.0 2229.6L621.0 2230.7L618.0 2231.8L615.0 2232.9L612.0 2233.9L609.0 2235.0L606.0 2236.1L603.0 2237.1L600.0 2238.2L597.0 2239.3L594.0 2239.9L591.0 2239.8L588.0 2239.6L585.0 2239.5L582.0 2238.8L579.0 2237.7L576.0 2237.4L573.0 2236.0Z" fill="#0072bd"/>
<path d="M1062.9 2042.5h2.3M1087.5 2038.9h2.3M1046.4 2045.7h2.3M1036.9 2055.0h2.3M1059.8 2042.2h2.3M1096.8 2032.0h2.3M1086.3 2037.3h2.3M1007.8 2067.2h2.3M1049.2 2045.2h2.3M1010.1 2066.2h2.3M1044.5 2054.6h2.3M999.4 2067.2h2.3M1037.7 2054.1h2.3M1103.9 2033.2h2.3M1052.0 2043.5h2.3M1143.5 2018.7h2.3M1113.8 2022.7h2.3M1163.1 2012.8h2.3M1150.1 2008.7h2.3M1083.1 2033.1h2.3M1000.2 2067.0h2.3M1019.5 2057.7h2.3M956.5 2076.3h2.3M974.7 2070.2h2.3M975.3 2070.2h2.3M1107.4 2023.6h2.3M1061.1 2040.1h2.3M1142.5 2019.8h2.3M1073.9 2037.9h2.3M1050.0 2049.6h2.3M961.4 2073.0h2.3M975.4 2071.0h2.3M1135.7 2013.5h2.3M1028.4 2053.8h2.3M1059.2 2050.0h2.3M1010.3 2066.7h2.3M1155.6 2006.2h2.3M1143.0 2014.9h2.3M1041.3 2052.2h2.3M1024.5 2054.9h2.3M1081.7 2036.0h2.3M1094.6 2033.2h2.3M1058.8 2049.4h2.3M955.6 2074.6h2.3M1071.5 2046.4h2.3M987.7 2069.1h2.3M1015.1 2065.2h2.3M1091.7 2038.8h2.3M1121.5 2024.6h2.3M1148.3 2005.6h2.3M969.9 2071.7h2.3M1017.9 2059.5h2.3M980.5 2070.6h2.3M990.4 2069.1h2.3M970.7 2070.4h2.3M1154.9 2007.2h2.3M1093.4 2027.7h2.3M1008.3 2067.3h2.3M994.7 2068.4h2.3M1051.2 2050.2h2.3M1077.3 2037.2h2.3M956.9 2074.5h2.3M1151.5 2014.6h2.3M978.2 2070.6h2.3M1101.7 2026.8h2.3M1080.1 2035.8h2.3M1136.4 2007.9h2.3M982.7 2069.4h2.3M1064.7 2046.6h2.3M1106.2 2026.7h2.3M1018.4 2063.8h2.3M975.9 2070.1h2.3M1056.7 2053.0h2.3M969.4 2073.2h2.3M1055.1 2042.2h2.3M1016.2 2061.5h2.3M1124.6 2017.3h2.3M1092.7 2029.3h2.3M1055.0 2048.5h2.3M973.6 2069.8h2.3M960.8 2073.3h2.3M1044.1 2057.4h2.3M1097.9 2031.8h2.3M1088.5 2040.2h2.3M1145.7 2004.3h2.3M1110.6 2020.2h2.3M1123.7 2016.3h2.3M1090.1 2038.7h2.3M1134.5 2019.0h2.3M1140.8 2016.0h2.3M1104.8 2025.7h2.3M1005.1 2065.4h2.3M996.9 2066.7h2.3M1073.6 2037.7h2.3M1119.2 2016.7h2.3M971.8 2071.7h2.3M1148.7 2003.8h2.3M1124.4 2019.5h2.3M1093.8 2037.8h2.3M975.5 2069.3h2.3M1149.7 2004.4h2.3M1094.3 2031.2h2.3M991.9 2067.7h2.3M1039.5 2052.9h2.3M977.9 2070.1h2.3M1108.3 2019.7h2.3M1019.4 2062.0h2.3M1134.4 2017.9h2.3M1049.7 2049.9h2.3M1036.6 2051.1h2.3M1016.8 2064.5h2.3M1083.7 2044.5h2.3M1088.6 2031.6h2.3M1064.8 2042.0h2.3M960.7 2074.4h2.3M1125.8 2023.8h2.3M977.9 2069.0h2.3M1063.1 2045.2h2.3M1119.3 2016.0h2.3M1113.2 2029.6h2.3M1118.1 2019.7h2.3M1087.1 2034.8h2.3M997.7 2066.7h2.3M1021.2 2058.1h2.3M1082.2 2039.1h2.3M1052.0 2051.9h2.3M955.5 2075.9h2.3M975.3 2071.7h2.3M1081.0 2039.2h2.3M984.3 2069.8h2.3M1162.6 2006.9h2.3M1095.3 2031.3h2.3M974.2 2070.5h2.3M1017.4 2064.3h2.3M1019.9 2058.3h2.3M1035.0 2057.5h2.3M1030.0 2060.2h2.3M1028.5 2059.9h2.3M1161.8 2004.7h2.3M1081.1 2039.5h2.3M1121.1 2020.9h2.3M963.3 2074.2h2.3M1092.4 2036.8h2.3M974.4 2071.9h2.3M992.5 2068.1h2.3M1053.7 2049.1h2.3M1025.4 2060.6h2.3M1037.0 2057.2h2.3M1133.8 2012.8h2.3M976.6 2071.5h2.3M1093.4 2032.8h2.3M1007.7 2066.8h2.3M1066.6 2039.5h2.3M1151.9 2016.0h2.3M972.0 2071.0h2.3M1093.6 2037.6h2.3M1142.6 2011.2h2.3M970.0 2072.6h2.3M1074.3 2034.6h2.3M1042.4 2055.7h2.3M1089.0 2037.6h2.3M1157.6 2013.4h2.3M1132.3 2015.7h2.3M1106.7 2029.3h2.3M1155.6 2015.3h2.3M1129.6 2013.6h2.3M1012.2 2062.9h2.3M1102.0 2032.2h2.3M1058.5 2042.2h2.3M1158.3 2011.8h2.3M1157.0 2007.6h2.3M1100.6 2027.1h2.3M1133.8 2010.1h2.3M988.6 2067.8h2.3M1134.7 2021.3h2.3M1071.2 2052.3h2.3M1144.6 2010.4h2.3M1077.3 2037.9h2.3M1114.5 2028.3h2.3M1049.4 2050.3h2.3M1074.2 2043.0h2.3M1048.5 2051.1h2.3M1036.0 2053.8h2.3M990.8 2069.9h2.3M1040.1 2055.1h2.3M1032.4 2053.2h2.3M1150.1 2012.8h2.3M1130.3 2018.0h2.3M1000.2 2065.3h2.3M1134.9 2010.6h2.3M1128.2 2017.8h2.3M1026.6 2056.9h2.3M1134.7 2021.2h2.3M1024.2 2059.6h2.3M1027.5 2058.2h2.3M1021.0 2062.4h2.3M964.6 2073.2h2.3M1032.2 2058.0h2.3M977.3 2069.1h2.3M1043.8 2054.4h2.3M974.5 2070.8h2.3M1032.1 2058.0h2.3M1158.5 2004.5h2.3M1145.0 2012.4h2.3M1105.0 2024.1h2.3M1003.4 2068.5h2.3M1109.2 2031.6h2.3M1076.1 2047.7h2.3M1147.3 2013.5h2.3M1029.8 2057.4h2.3M1065.9 2045.5h2.3M996.2 2067.8h2.3M1139.7 2009.9h2.3M1141.3 2016.3h2.3M988.5 2069.1h2.3M1051.9 2050.8h2.3M1148.1 2005.3h2.3M1159.2 2016.1h2.3M1141.9 2019.8h2.3M1020.2 2058.3h2.3M1057.8 2047.1h2.3M1159.4 2012.3h2.3M1093.3 2039.0h2.3M1152.7 2008.8h2.3M1029.2 2056.3h2.3M1006.0 2066.9h2.3M961.2 2073.1h2.3M1153.3 2012.4h2.3M1085.1 2044.1h2.3M1004.4 2064.6h2.3M1038.3 2052.4h2.3M1035.2 2056.1h2.3M1048.2 2045.0h2.3M1099.6 2031.8h2.3M1018.9 2061.2h2.3M1048.3 2044.9h2.3M1003.9 2069.0h2.3M1024.4 2055.5h2.3M1156.9 2014.1h2.3M1000.2 2065.1h2.3M995.8 2068.8h2.3M1157.2 2007.3h2.3M964.3 2072.6h2.3M1143.4 2006.8h2.3M987.9 2070.3h2.3M1040.4 2049.6h2.3M1092.0 2040.8h2.3M984.4 2070.4h2.3M1115.3 2026.2h2.3M960.3 2074.1h2.3M1113.6 2028.5h2.3M1010.0 2061.4h2.3M1125.8 2015.5h2.3M1103.9 2032.6h2.3M1091.6 2027.2h2.3M1005.3 2064.0h2.3M1044.0 2056.3h2.3M1018.1 2057.5h2.3M1163.2 2010.0h2.3M1012.2 2064.8h2.3M1031.1 2059.4h2.3M1130.1 2020.0h2.3M1007.1 2067.3h2.3M1105.1 2027.8h2.3M1035.0 2058.5h2.3M1077.3 2038.9h2.3M1101.8 2025.2h2.3M1115.1 2022.8h2.3M1062.2 2050.1h2.3M1081.9 2043.2h2.3M1085.5 2041.1h2.3M1024.4 2058.6h2.3M955.0 2075.3h2.3M1154.5 2003.6h2.3M1017.8 2057.6h2.3M1111.2 2027.3h2.3M1060.7 2046.8h2.3M1152.8 2012.6h2.3M1023.7 2061.3h2.3M1124.9 2018.8h2.3M1031.1 2057.3h2.3M1073.6 2040.6h2.3M1034.6 2052.0h2.3M1020.1 2061.1h2.3M1137.0 2009.5h2.3M1141.7 2007.4h2.3M1105.4 2028.4h2.3M1082.3 2033.4h2.3M983.7 2070.0h2.3M971.7 2070.7h2.3M984.2 2069.0h2.3M992.1 2067.9h2.3M1095.0 2029.6h2.3M1016.0 2064.3h2.3M1068.3 2052.5h2.3M988.0 2069.3h2.3M1025.7 2054.3h2.3M985.1 2068.0h2.3M1078.9 2032.8h2.3M1160.1 2004.6h2.3M1075.7 2039.3h2.3M1147.8 2004.3h2.3M1064.0 2039.2h2.3M1018.8 2059.5h2.3M1146.9 2015.8h2.3M1118.9 2027.3h2.3M1118.8 2021.0h2.3M981.7 2070.6h2.3M960.4 2075.1h2.3M957.8 2074.3h2.3M1032.3 2051.9h2.3M1072.9 2039.9h2.3M1010.8 2066.7h2.3M1137.5 2018.4h2.3M1023.5 2058.8h2.3M1100.0 2035.9h2.3M1073.4 2036.1h2.3M1124.9 2014.4h2.3M997.0 2068.2h2.3M988.6 2069.3h2.3M1036.7 2058.5h2.3M1023.1 2056.4h2.3M1151.9 2016.2h2.3M1030.0 2056.0h2.3M1035.7 2055.4h2.3M1022.6 2057.9h2.3M1083.8 2042.1h2.3M1053.7 2044.0h2.3M1064.3 2050.2h2.3M983.8 2069.8h2.3M1148.5 2005.9h2.3M1022.8 2057.5h2.3M1067.9 2038.8h2.3M1131.5 2014.5h2.3M1113.5 2025.3h2.3M1124.2 2025.5h2.3M1013.9 2062.0h2.3M1145.8 2015.5h2.3M1087.6 2034.2h2.3M1037.1 2049.5h2.3M1043.8 2057.5h2.3M1116.9 2027.9h2.3M1113.3 2030.6h2.3M1158.2 2015.6h2.3M967.7 2072.0h2.3M1051.8 2048.1h2.3M1146.7 2004.0h2.3M982.0 2068.5h2.3M1118.7 2027.7h2.3M969.6 2072.2h2.3M984.7 2070.3h2.3M1147.1 2013.9h2.3M1152.6 2014.5h2.3M1101.8 2028.8h2.3M978.7 2069.1h2.3M1116.3 2017.1h2.3M1073.3 2038.6h2.3M1146.7 2012.2h2.3M1137.0 2007.8h2.3M966.1 2071.7h2.3M1156.4 2015.6h2.3M1140.0 2014.3h2.3M967.9 2073.6h2.3M973.4 2070.8h2.3M1154.3 2007.8h2.3M961.3 2075.1h2.3M1011.4 2064.4h2.3M1030.5 2055.2h2.3M1120.4 2023.9h2.3M1075.4 2048.6h2.3M1057.0 2047.6h2.3M1072.6 2048.3h2.3M1065.5 2045.4h2.3M1085.4 2032.4h2.3M1151.0 2005.4h2.3M1005.6 2067.1h2.3M1065.9 2048.5h2.3M990.5 2069.0h2.3M1150.1 2006.0h2.3M1101.0 2032.8h2.3M1099.0 2035.4h2.3M1053.5 2051.6h2.3M1077.9 2043.9h2.3M1134.0 2013.1h2.3M1064.0 2050.2h2.3M1010.9 2063.9h2.3M1125.9 2019.4h2.3M1128.2 2018.5h2.3M1105.3 2029.5h2.3M1143.4 2014.0h2.3M1013.6 2060.8h2.3M1074.7 2035.1h2.3M986.8 2070.3h2.3M1072.0 2049.5h2.3M1128.8 2021.3h2.3M1047.8 2050.1h2.3M1032.8 2052.9h2.3M970.6 2070.9h2.3M1140.2 2012.4h2.3M964.7 2073.1h2.3M1154.6 2006.5h2.3M1080.0 2043.8h2.3M963.2 2074.5h2.3M1094.4 2026.5h2.3M1030.3 2058.4h2.3M1135.4 2016.1h2.3M975.7 2069.2h2.3M1040.3 2056.0h2.3M1033.1 2057.6h2.3M1104.4 2031.6h2.3M968.8 2072.5h2.3M1040.1 2057.4h2.3M1032.0 2059.6h2.3M1049.8 2048.5h2.3M1012.2 2060.6h2.3M1124.0 2023.5h2.3M1079.8 2036.2h2.3M1107.3 2029.1h2.3M1159.6 2004.0h2.3M1044.9 2053.5h2.3M1871.3 1702.9h2.3M649.8 2195.5h2.3M1707.6 1742.2h2.3M1482.5 1817.8h2.3M1395.9 1862.7h2.3M1362.3 1875.2h2.3M1157.8 1970.9h2.3M1554.9 1796.5h2.3M1862.3 1702.1h2.3M1177.1 1960.9h2.3M621.8 2203.9h2.3M1204.3 1944.3h2.3M1089.1 2025.0h2.3M1287.0 1913.5h2.3M893.7 2074.7h2.3M1014.5 2039.0h2.3M1265.9 1923.0h2.3M1488.9 1813.2h2.3M1786.5 1717.5h2.3M1570.3 1788.3h2.3M1609.0 1775.1h2.3M1053.4 2031.7h2.3M1879.3 1701.3h2.3M1596.9 1780.3h2.3M1199.6 1945.9h2.3M1238.4 1936.8h2.3M1253.1 1929.2h2.3M1053.6 2031.5h2.3M1794.8 1713.0h2.3M1343.9 1887.9h2.3M1555.9 1794.9h2.3M874.2 2090.5h2.3M1523.0 1798.9h2.3M1806.0 1707.5h2.3M1810.7 1706.2h2.3M1873.1 1702.4h2.3M1257.8 1925.9h2.3M1457.6 1831.3h2.3M996.5 2042.6h2.3M1268.1 1922.0h2.3M1419.4 1848.0h2.3M1687.1 1747.5h2.3M1805.6 1707.5h2.3M1584.4 1782.4h2.3M1459.7 1830.1h2.3M880.7 2086.7h2.3M717.3 2159.4h2.3M1732.7 1734.8h2.3M858.8 2096.5h2.3M1147.3 1979.4h2.3M616.3 2207.9h2.3M806.4 2118.2h2.3M685.6 2182.3h2.3M607.4 2214.7h2.3M601.7 2217.7h2.3M1677.5 1749.9h2.3M822.5 2114.3h2.3M1096.6 2016.4h2.3M1917.4 1704.0h2.3M622.3 2204.4h2.3M1408.5 1855.7h2.3M726.6 2154.0h2.3M614.8 2209.1h2.3M1613.2 1772.1h2.3M1797.9 1712.2h2.3M1744.2 1732.9h2.3M1215.0 1941.4h2.3M1470.4 1827.3h2.3M711.6 2162.1h2.3M1760.9 1728.8h2.3M1367.4 1874.0h2.3M1272.1 1918.8h2.3M1876.3 1701.5h2.3M1396.1 1862.2h2.3M597.5 2220.5h2.3M763.9 2136.7h2.3M618.6 2206.0h2.3M703.2 2165.4h2.3M1263.2 1924.1h2.3M1841.5 1703.6h2.3M888.7 2077.6h2.3M913.6 2068.4h2.3M1420.6 1848.9h2.3M1536.5 1797.2h2.3M1147.5 1978.8h2.3M579.6 2229.1h2.3M1128.1 2000.5h2.3M1555.9 1794.4h2.3M708.5 2162.8h2.3M887.4 2078.1h2.3M1280.2 1916.1h2.3M993.6 2044.3h2.3M861.5 2095.7h2.3M1880.9 1702.5h2.3M1162.0 1969.0h2.3M1362.1 1875.1h2.3M1140.7 1988.7h2.3M819.1 2113.9h2.3M1663.0 1755.7h2.3M1278.1 1917.9h2.3M1402.1 1858.7h2.3M1908.6 1703.4h2.3M598.9 2220.2h2.3M710.4 2162.4h2.3M1714.6 1740.2h2.3M594.4 2221.3h2.3M1130.7 1999.6h2.3M855.8 2096.9h2.3M673.2 2187.1h2.3M1079.4 2028.8h2.3M677.0 2187.0h2.3M834.2 2108.6h2.3M1105.0 2013.0h2.3M1596.4 1779.8h2.3M738.3 2146.2h2.3M682.3 2185.0h2.3M1443.5 1838.2h2.3M1513.6 1800.8h2.3M1468.1 1829.0h2.3M1555.5 1795.1h2.3M1058.6 2029.8h2.3M1657.7 1757.2h2.3M1287.7 1913.0h2.3M1869.5 1702.6h2.3M1838.7 1703.4h2.3M976.0 2048.5h2.3M1236.8 1935.9h2.3M1153.8 1973.5h2.3M1820.4 1705.2h2.3M1683.6 1747.5h2.3M1056.5 2031.2h2.3M771.9 2133.6h2.3M663.8 2189.5h2.3M1789.1 1716.7h2.3M1453.1 1831.7h2.3M975.5 2048.6h2.3M1483.9 1817.5h2.3M1169.0 1965.6h2.3M725.2 2155.3h2.3M1863.0 1702.5h2.3M703.6 2165.0h2.3M1544.5 1796.9h2.3M1788.3 1716.0h2.3M1528.0 1798.3h2.3M1924.4 1708.7h2.3M1351.7 1881.6h2.3M1172.1 1963.0h2.3M1381.2 1870.2h2.3M818.0 2115.0h2.3M1228.2 1938.4h2.3M1537.8 1798.5h2.3M1530.9 1797.9h2.3M1879.4 1701.7h2.3M1585.5 1783.3h2.3M1607.3 1776.4h2.3M878.5 2088.5h2.3M1119.9 2006.6h2.3M1900.1 1702.9h2.3M588.8 2223.1h2.3M1539.3 1798.3h2.3M1455.8 1832.2h2.3M596.3 2221.7h2.3M1563.6 1791.1h2.3M1802.4 1710.3h2.3M709.4 2163.7h2.3M1614.6 1770.1h2.3M1583.7 1783.6h2.3M833.0 2109.7h2.3M760.2 2139.4h2.3M1162.9 1968.1h2.3M1341.8 1887.8h2.3M851.4 2099.9h2.3M671.9 2187.0h2.3M1232.2 1938.2h2.3M1467.1 1829.2h2.3M1231.6 1938.0h2.3M1027.8 2036.6h2.3M1255.9 1926.0h2.3M681.4 2185.6h2.3M808.9 2117.8h2.3M1638.2 1763.3h2.3M1489.6 1813.9h2.3M1746.3 1731.2h2.3M793.8 2122.1h2.3M1204.0 1944.3h2.3M587.1 2223.9h2.3M1886.1 1701.8h2.3M1303.6 1901.6h2.3M1174.3 1963.6h2.3M991.8 2044.8h2.3M1230.0 1938.2h2.3M1815.2 1705.0h2.3M1692.5 1745.2h2.3M1450.7 1834.2h2.3M1460.3 1830.2h2.3M1714.7 1739.0h2.3M1433.0 1842.2h2.3M1293.4 1909.8h2.3M1656.5 1758.3h2.3M991.4 2044.1h2.3M1194.3 1946.6h2.3M949.8 2058.9h2.3M725.0 2155.9h2.3M1088.0 2024.9h2.3M1005.4 2040.6h2.3M1194.1 1946.6h2.3M1173.2 1963.0h2.3M1787.8 1717.2h2.3M1173.2 1963.7h2.3M1835.5 1702.6h2.3M708.2 2163.0h2.3M830.4 2110.9h2.3M1080.6 2027.7h2.3M1652.7 1758.7h2.3M1671.0 1753.3h2.3M1116.6 2008.8h2.3M1037.8 2035.3h2.3M1830.4 1703.4h2.3M1510.0 1803.5h2.3M1581.4 1784.6h2.3M1753.5 1731.8h2.3M1596.3 1781.0h2.3M969.0 2051.2h2.3M1483.8 1817.0h2.3M1109.7 2010.4h2.3M1873.6 1701.7h2.3M1220.3 1941.4h2.3M826.2 2113.6h2.3M745.5 2142.4h2.3M1049.4 2031.4h2.3M1819.2 1706.0h2.3M1607.2 1775.7h2.3M1310.0 1898.9h2.3M1704.9 1742.2h2.3M959.6 2054.7h2.3M777.5 2130.8h2.3M1830.7 1702.6h2.3M766.1 2136.0h2.3M913.8 2068.0h2.3M912.7 2068.1h2.3M907.7 2069.4h2.3M1402.2 1858.7h2.3M1079.2 2028.5h2.3M656.8 2191.9h2.3M1728.4 1736.3h2.3M1630.6 1764.7h2.3M1283.2 1915.6h2.3M1032.1 2036.5h2.3M1401.9 1859.0h2.3M1927.4 1707.4h2.3M1216.4 1941.9h2.3M1003.3 2042.5h2.3M1384.5 1868.1h2.3M1304.4 1902.5h2.3M1916.0 1707.3h2.3M1190.3 1948.5h2.3M1285.6 1913.1h2.3M720.0 2159.0h2.3M747.1 2143.7h2.3M1496.1 1810.0h2.3M678.0 2185.8h2.3M1656.6 1757.0h2.3M716.9 2159.3h2.3M808.1 2116.8h2.3M1482.5 1817.3h2.3M1892.3 1702.6h2.3M640.6 2201.3h2.3M901.0 2072.6h2.3M1331.8 1890.8h2.3M1254.9 1926.6h2.3M844.1 2103.9h2.3M1689.3 1746.4h2.3M1498.9 1808.0h2.3M763.1 2138.0h2.3M751.9 2140.8h2.3M720.0 2157.4h2.3M645.2 2198.3h2.3M1087.9 2025.4h2.3M1739.0 1734.6h2.3M1547.5 1797.2h2.3M1818.3 1704.7h2.3M716.2 2160.5h2.3M1424.6 1845.8h2.3M1085.4 2026.9h2.3M1158.1 1970.8h2.3M1113.7 2010.0h2.3M1675.0 1751.6h2.3M1215.0 1941.6h2.3M1612.4 1773.2h2.3M884.1 2082.6h2.3M1522.3 1800.1h2.3M614.6 2209.5h2.3M847.3 2100.6h2.3M1360.3 1877.3h2.3M1422.3 1848.0h2.3M1527.2 1798.6h2.3M637.9 2201.7h2.3M1690.7 1746.7h2.3M1385.2 1866.6h2.3M839.0 2105.0h2.3M1436.5 1840.8h2.3M826.2 2113.6h2.3M1901.1 1703.6h2.3M1203.0 1944.6h2.3M856.6 2097.1h2.3M1524.9 1798.7h2.3M1798.5 1711.5h2.3M1133.4 1997.8h2.3M1551.4 1796.9h2.3M1468.3 1827.7h2.3M1526.7 1798.3h2.3M1809.4 1706.2h2.3M1025.5 2037.7h2.3M1105.9 2012.7h2.3M1827.5 1703.3h2.3M1621.6 1768.2h2.3M1640.7 1762.7h2.3M1190.2 1948.5h2.3M1215.7 1941.3h2.3M832.2 2109.5h2.3M833.9 2108.6h2.3M1351.6 1882.0h2.3M804.4 2118.6h2.3M1741.1 1732.7h2.3M1409.1 1855.1h2.3M1774.6 1723.1h2.3M991.0 2044.1h2.3M1709.5 1740.8h2.3M590.1 2223.5h2.3M841.8 2103.9h2.3M1006.1 2040.8h2.3M1556.4 1794.4h2.3M1171.3 1964.2h2.3M1704.9 1741.4h2.3M1360.4 1876.3h2.3M777.4 2131.4h2.3M1083.2 2027.1h2.3M1371.8 1873.6h2.3M1449.1 1834.5h2.3M1660.5 1757.6h2.3M778.4 2130.3h2.3M1883.2 1702.9h2.3M848.6 2101.0h2.3M1760.3 1729.9h2.3M1526.6 1798.8h2.3M891.7 2075.9h2.3M657.1 2192.8h2.3M760.9 2139.2h2.3M1104.3 2013.2h2.3M1890.9 1702.0h2.3M1217.7 1941.1h2.3M865.1 2093.2h2.3M1296.3 1907.6h2.3M695.9 2169.5h2.3M1489.0 1812.9h2.3M1533.2 1797.7h2.3M1271.9 1918.7h2.3M1266.0 1922.0h2.3M1635.6 1764.3h2.3M1530.1 1798.5h2.3M873.3 2090.2h2.3M1222.9 1939.2h2.3M765.5 2136.5h2.3M1303.2 1902.3h2.3M1450.8 1834.5h2.3M711.6 2162.3h2.3M690.6 2176.6h2.3M1167.0 1965.8h2.3M994.7 2044.0h2.3M1215.6 1942.7h2.3M1055.3 2030.1h2.3M1825.9 1704.4h2.3M718.4 2159.4h2.3M1066.5 2029.5h2.3M1436.5 1841.3h2.3M1789.7 1715.5h2.3M1886.5 1701.1h2.3M1035.3 2035.9h2.3M584.2 2226.1h2.3M1929.9 1709.0h2.3M1743.8 1731.7h2.3M1306.8 1900.9h2.3M1164.5 1967.6h2.3M1646.6 1760.5h2.3M634.1 2202.2h2.3M1885.5 1702.7h2.3M1487.2 1814.5h2.3M1801.1 1709.3h2.3M907.9 2070.4h2.3M1788.0 1716.0h2.3M1807.7 1706.4h2.3M1383.7 1867.4h2.3M889.9 2076.6h2.3M581.5 2228.2h2.3M1252.3 1928.6h2.3M1457.9 1830.1h2.3M1275.7 1918.1h2.3M1120.5 2006.7h2.3M745.0 2143.3h2.3M1197.4 1946.1h2.3M1895.3 1702.5h2.3M1274.3 1918.5h2.3M1167.1 1967.4h2.3M1658.3 1757.8h2.3M793.5 2122.7h2.3M746.6 2142.7h2.3M604.3 2216.8h2.3M1900.4 1703.0h2.3M1346.8 1884.8h2.3M1173.8 1963.1h2.3M1147.4 1978.3h2.3M870.9 2092.4h2.3M1866.4 1702.6h2.3M1417.1 1849.0h2.3M983.5 2047.6h2.3M1893.9 1702.5h2.3M1345.6 1886.4h2.3M908.6 2070.0h2.3M1068.7 2028.9h2.3M1200.0 1946.1h2.3M1328.2 1892.9h2.3M1198.9 1946.9h2.3M1598.0 1779.4h2.3M1259.3 1925.8h2.3M1587.5 1782.7h2.3M1875.1 1701.2h2.3M1385.1 1867.8h2.3M1190.4 1949.6h2.3M1886.8 1701.9h2.3M1409.9 1854.9h2.3M1518.3 1800.4h2.3M1657.0 1757.6h2.3M772.5 2133.9h2.3M1454.7 1831.7h2.3M1250.4 1931.1h2.3M1670.4 1753.1h2.3M1811.1 1706.6h2.3M1122.9 2004.7h2.3M1637.1 1764.6h2.3M1483.3 1817.9h2.3M1117.3 2006.9h2.3M1190.5 1947.7h2.3M1852.6 1701.9h2.3M1394.6 1863.5h2.3M815.6 2116.3h2.3M1015.2 2038.8h2.3M1387.5 1866.3h2.3M1821.2 1704.8h2.3M701.3 2164.7h2.3M614.3 2209.6h2.3M1542.8 1796.5h2.3M1020.9 2038.5h2.3M1791.9 1715.4h2.3M1761.4 1729.6h2.3M1354.0 1880.3h2.3M1404.5 1857.0h2.3M984.7 2047.2h2.3M1344.5 1887.1h2.3M1205.0 1944.1h2.3M1257.0 1926.5h2.3M901.3 2073.3h2.3M1905.4 1702.4h2.3M901.9 2073.0h2.3M1553.3 1795.8h2.3M1368.7 1873.2h2.3M1744.7 1732.5h2.3M1266.7 1921.0h2.3M1124.0 2003.7h2.3M1064.3 2028.3h2.3M842.1 2104.5h2.3M1829.1 1704.3h2.3M1408.4 1855.8h2.3M754.4 2140.2h2.3M1528.7 1797.3h2.3M687.0 2180.6h2.3M840.4 2104.4h2.3M1110.0 2011.6h2.3M587.1 2224.6h2.3M987.0 2046.0h2.3M1214.8 1941.3h2.3M1874.4 1701.4h2.3M1666.1 1755.6h2.3M1189.4 1950.5h2.3M658.4 2191.2h2.3M1229.9 1937.3h2.3M1670.0 1753.4h2.3M1657.9 1757.2h2.3M610.0 2213.3h2.3M856.0 2096.5h2.3M743.6 2144.0h2.3M1203.0 1944.4h2.3M626.1 2203.5h2.3M1637.0 1763.1h2.3M883.1 2083.5h2.3M1435.4 1841.9h2.3M1449.0 1835.2h2.3M784.0 2128.6h2.3M612.1 2210.3h2.3M713.7 2161.7h2.3M1258.3 1926.4h2.3M1896.9 1703.4h2.3M1407.0 1855.8h2.3M1872.8 1702.5h2.3M839.2 2105.8h2.3M600.6 2217.9h2.3M1440.5 1839.2h2.3M1742.4 1733.4h2.3M758.9 2140.1h2.3M1905.5 1704.0h2.3M1225.7 1938.8h2.3M659.5 2191.8h2.3M1879.1 1701.2h2.3M1687.7 1747.7h2.3M1051.4 2031.9h2.3M784.5 2127.1h2.3M1342.2 1888.4h2.3M1300.6 1903.0h2.3M1835.8 1703.0h2.3M1630.8 1764.9h2.3M1027.7 2036.3h2.3M826.6 2112.5h2.3M1131.2 1999.6h2.3M1705.0 1742.0h2.3M1829.8 1703.8h2.3M1041.3 2033.0h2.3M1871.3 1702.3h2.3M631.3 2203.0h2.3M1086.3 2026.3h2.3M1612.6 1771.5h2.3M937.4 2061.9h2.3M1801.5 1709.2h2.3M1705.6 1742.6h2.3M813.8 2116.4h2.3M1416.5 1850.8h2.3M1302.4 1902.1h2.3M1255.5 1926.6h2.3M1191.3 1947.7h2.3M717.9 2158.5h2.3M1040.7 2033.6h2.3M1337.9 1889.7h2.3M924.8 2065.6h2.3M1031.7 2035.5h2.3M762.9 2139.0h2.3M1839.1 1703.4h2.3M806.0 2117.3h2.3M714.7 2160.3h2.3M1151.8 1973.1h2.3M1146.2 1980.9h2.3M1705.5 1741.6h2.3M575.5 2235.3h2.3M1089.3 2023.7h2.3M783.0 2127.9h2.3M934.6 2062.1h2.3M889.2 2077.6h2.3M1677.4 1750.2h2.3M1138.4 1992.0h2.3M1716.8 1739.8h2.3M1911.2 1702.8h2.3M1666.8 1754.2h2.3M1356.0 1879.7h2.3M1353.5 1880.8h2.3M670.8 2187.3h2.3M1832.5 1703.9h2.3M1197.7 1945.5h2.3M1711.2 1740.8h2.3M1211.6 1943.1h2.3M787.0 2125.5h2.3M1679.4 1750.3h2.3M1908.9 1703.7h2.3M1892.6 1703.1h2.3M1262.3 1924.3h2.3M793.8 2121.5h2.3M1678.6 1749.5h2.3M1272.9 1919.6h2.3M1495.5 1809.0h2.3M1641.7 1761.7h2.3M1336.2 1890.7h2.3M1315.0 1897.2h2.3M1927.3 1708.8h2.3M1647.9 1761.6h2.3M1842.7 1702.7h2.3M1692.5 1745.6h2.3M919.4 2066.4h2.3M928.5 2063.4h2.3M1414.9 1851.1h2.3M1809.2 1705.9h2.3M1636.4 1763.4h2.3M1012.8 2039.7h2.3M1873.0 1702.3h2.3M1207.8 1943.2h2.3M637.7 2200.9h2.3M1895.8 1702.3h2.3M1490.3 1813.7h2.3M637.6 2200.9h2.3M1140.5 1988.4h2.3M1093.1 2020.9h2.3M755.9 2140.8h2.3M975.8 2049.4h2.3M808.9 2117.9h2.3M1142.3 1986.9h2.3M1886.9 1702.3h2.3M601.9 2217.8h2.3M1898.3 1702.8h2.3M1603.1 1778.1h2.3M1850.2 1703.1h2.3M1405.0 1857.5h2.3M713.0 2160.5h2.3M852.0 2099.1h2.3M1723.6 1738.1h2.3M1777.5 1720.3h2.3M611.8 2210.8h2.3M597.6 2220.6h2.3M1835.5 1703.7h2.3M717.4 2159.6h2.3M1484.3 1817.2h2.3M1131.9 1998.3h2.3M1776.5 1722.6h2.3M1546.0 1797.4h2.3M617.7 2206.8h2.3M898.4 2073.2h2.3M866.4 2093.7h2.3M1496.3 1808.4h2.3M1797.7 1710.8h2.3M1870.8 1702.2h2.3M1449.3 1833.9h2.3M1511.9 1802.9h2.3M851.8 2098.0h2.3M1642.9 1761.8h2.3M716.3 2159.8h2.3M826.7 2112.0h2.3M958.3 2054.1h2.3M1685.1 1747.8h2.3M1460.2 1830.0h2.3M1625.7 1767.7h2.3M1930.5 1707.8h2.3M994.6 2042.9h2.3M1217.8 1941.6h2.3M1399.0 1860.7h2.3M1881.6 1702.2h2.3M1926.5 1707.2h2.3M1448.6 1833.9h2.3M1300.6 1904.0h2.3M889.3 2077.7h2.3M752.6 2141.3h2.3M1397.4 1861.7h2.3M778.6 2130.0h2.3M1082.2 2028.0h2.3M1161.0 1968.9h2.3M1031.9 2035.6h2.3M759.9 2139.4h2.3M1212.6 1942.2h2.3M575.2 2235.7h2.3M634.6 2201.1h2.3M971.9 2050.7h2.3M1844.8 1703.0h2.3M853.2 2098.7h2.3M617.1 2206.9h2.3M724.8 2155.6h2.3M1379.1 1870.6h2.3M1860.5 1702.5h2.3M1583.0 1783.0h2.3M1809.4 1707.6h2.3M1697.8 1743.4h2.3M1542.6 1797.5h2.3M1302.4 1902.0h2.3M1622.7 1768.1h2.3M1618.2 1768.3h2.3M1572.8 1785.7h2.3M1497.3 1807.4h2.3M581.3 2227.6h2.3M1459.5 1831.6h2.3M1208.0 1944.0h2.3M1369.2 1874.3h2.3M1889.8 1702.8h2.3M1023.3 2037.3h2.3M1786.0 1716.7h2.3M1603.3 1778.8h2.3M801.2 2118.6h2.3M1146.9 1980.2h2.3M1729.9 1737.0h2.3M943.8 2060.2h2.3M1758.5 1729.9h2.3M1370.1 1872.7h2.3M1736.4 1734.3h2.3M1233.3 1937.6h2.3M1006.4 2041.9h2.3M1196.6 1946.4h2.3M1558.5 1793.9h2.3M1536.7 1798.4h2.3M1671.8 1752.5h2.3M1447.3 1836.1h2.3M648.6 2197.3h2.3M1289.3 1911.8h2.3M734.7 2148.8h2.3M1591.5 1782.1h2.3M1912.9 1706.0h2.3M1768.3 1726.5h2.3M796.9 2121.0h2.3M1753.3 1731.5h2.3M948.5 2058.9h2.3M1102.4 2014.0h2.3M1565.4 1790.3h2.3M757.7 2140.2h2.3M654.1 2193.5h2.3M1693.1 1746.3h2.3M918.1 2067.6h2.3M820.7 2114.3h2.3M1046.2 2031.6h2.3M1161.3 1969.5h2.3M1729.0 1735.5h2.3M963.6 2052.0h2.3M856.3 2096.1h2.3M1686.6 1748.1h2.3M865.0 2093.8h2.3M1284.2 1914.5h2.3M1875.7 1702.9h2.3M625.3 2203.8h2.3M1290.2 1911.7h2.3M1293.2 1909.8h2.3M706.9 2163.9h2.3M1700.7 1742.8h2.3M808.8 2117.5h2.3M770.0 2134.8h2.3M741.9 2144.1h2.3M1026.9 2037.8h2.3M1403.0 1858.8h2.3M1425.5 1845.8h2.3M1898.7 1702.7h2.3M1426.7 1844.6h2.3M912.2 2068.7h2.3M1871.1 1702.4h2.3M646.8 2198.6h2.3M861.3 2095.2h2.3M832.5 2108.5h2.3M1622.3 1767.6h2.3M1394.4 1863.6h2.3M1379.5 1870.0h2.3M1010.1 2040.6h2.3M907.1 2069.7h2.3M1674.1 1751.5h2.3M1552.1 1797.1h2.3M1205.0 1945.1h2.3M1021.7 2037.4h2.3M1725.2 1737.7h2.3M1575.6 1786.6h2.3M1127.3 2001.6h2.3M1405.0 1858.1h2.3M954.7 2056.7h2.3M1872.8 1701.5h2.3M596.6 2220.1h2.3M1449.3 1833.8h2.3M1860.7 1701.2h2.3M1788.1 1715.9h2.3M1822.6 1704.3h2.3M723.8 2156.4h2.3M979.3 2048.9h2.3M1690.2 1745.7h2.3M1238.7 1936.0h2.3M1622.6 1767.1h2.3M1341.8 1887.8h2.3M1371.5 1872.9h2.3M1160.1 1969.7h2.3M1109.5 2012.1h2.3M1282.3 1914.5h2.3M1107.6 2012.5h2.3M1499.4 1806.2h2.3M1134.2 1997.4h2.3M1721.0 1737.8h2.3M1817.2 1706.2h2.3M599.8 2219.4h2.3M1296.4 1907.1h2.3M1778.3 1720.3h2.3M1698.0 1743.2h2.3M1704.4 1742.0h2.3M608.6 2214.1h2.3M1891.5 1702.6h2.3M1629.7 1765.5h2.3M909.5 2069.6h2.3M1671.1 1752.5h2.3M1082.9 2027.4h2.3M932.6 2063.9h2.3M582.3 2226.4h2.3M822.9 2114.4h2.3M1347.2 1885.6h2.3M1517.9 1801.6h2.3M1369.7 1872.5h2.3M711.9 2161.9h2.3M733.8 2149.4h2.3M946.0 2060.2h2.3M1883.0 1702.3h2.3M1145.0 1982.2h2.3M668.6 2188.8h2.3M767.8 2135.9h2.3M1681.6 1748.8h2.3M1532.2 1798.5h2.3M1815.2 1705.7h2.3M895.0 2075.9h2.3M1250.9 1929.4h2.3M1501.0 1806.7h2.3M1908.3 1703.4h2.3M932.8 2062.7h2.3M978.1 2047.8h2.3M1821.8 1705.1h2.3M641.1 2199.6h2.3M824.4 2114.3h2.3M1037.8 2035.2h2.3M878.2 2088.0h2.3M1852.7 1701.3h2.3M1253.1 1928.6h2.3M1031.4 2036.7h2.3M1733.1 1734.7h2.3M982.7 2047.1h2.3M1224.4 1939.8h2.3M1624.6 1766.7h2.3M1850.3 1702.2h2.3M611.7 2211.2h2.3M1292.5 1909.1h2.3M1767.5 1726.4h2.3M1279.3 1916.1h2.3M753.6 2140.6h2.3M1444.0 1837.3h2.3M1501.1 1805.0h2.3M1629.5 1766.1h2.3M1499.0 1807.3h2.3M1732.3 1736.3h2.3M1365.2 1874.8h2.3M1308.2 1900.7h2.3M1492.3 1812.2h2.3M992.8 2044.4h2.3M893.4 2075.9h2.3M593.3 2221.8h2.3M1560.9 1793.2h2.3M1231.8 1938.4h2.3M844.9 2101.6h2.3M1324.1 1894.0h2.3M1109.9 2011.2h2.3M1599.3 1780.0h2.3M1012.6 2040.3h2.3M1428.3 1845.0h2.3M1366.0 1874.6h2.3M1672.2 1751.6h2.3M1640.6 1762.2h2.3M820.4 2114.7h2.3M1190.6 1948.1h2.3M679.2 2184.9h2.3M936.6 2061.2h2.3M1518.9 1800.0h2.3M1089.9 2023.3h2.3M1529.9 1798.6h2.3M1430.9 1842.9h2.3M759.6 2139.5h2.3M1070.3 2028.5h2.3M866.3 2093.8h2.3M1059.5 2029.3h2.3M818.4 2115.4h2.3M1257.5 1926.1h2.3M1703.4 1741.8h2.3M1313.4 1897.9h2.3M904.0 2072.1h2.3M902.8 2071.8h2.3M1162.2 1968.2h2.3M994.0 2042.9h2.3M1252.5 1929.2h2.3M1930.6 1709.5h2.3M1023.8 2038.9h2.3M714.5 2160.0h2.3M1292.7 1909.9h2.3M1379.5 1869.2h2.3M1126.9 2002.0h2.3M1097.8 2016.7h2.3M1583.7 1782.7h2.3M1204.9 1944.9h2.3M1643.5 1762.5h2.3M1900.3 1703.2h2.3M1107.4 2012.7h2.3M1404.5 1857.8h2.3M1379.1 1870.8h2.3M1535.5 1797.7h2.3M1642.3 1762.3h2.3M1579.0 1785.6h2.3M1292.4 1909.0h2.3M1803.3 1708.6h2.3M859.5 2094.7h2.3M1142.6 1985.7h2.3M1684.3 1747.4h2.3M1085.3 2027.3h2.3M605.3 2215.5h2.3M774.8 2133.0h2.3M979.3 2047.3h2.3M725.2 2154.6h2.3M1527.7 1797.8h2.3M627.0 2203.1h2.3M630.1 2203.4h2.3M1602.8 1778.3h2.3M1026.4 2036.5h2.3M1544.2 1796.8h2.3M1318.7 1897.3h2.3M899.0 2073.9h2.3M1167.6 1966.3h2.3M1122.5 2005.0h2.3M1279.9 1915.4h2.3M1686.4 1746.7h2.3M1049.4 2031.6h2.3M1379.7 1870.6h2.3M734.1 2149.4h2.3M1416.3 1850.4h2.3M903.3 2072.3h2.3M1881.3 1702.3h2.3M1299.3 1904.1h2.3M1223.2 1940.4h2.3M1001.9 2042.0h2.3M1181.1 1957.5h2.3M1409.9 1853.9h2.3M1824.6 1705.0h2.3M990.8 2043.9h2.3M604.5 2216.9h2.3M1147.8 1977.4h2.3M637.6 2201.8h2.3M852.9 2099.0h2.3M1058.1 2030.2h2.3M1043.9 2033.3h2.3M764.5 2136.9h2.3M739.3 2145.5h2.3M1337.5 1890.4h2.3M582.0 2228.9h2.3M963.1 2052.5h2.3M615.6 2208.4h2.3M690.0 2177.0h2.3M1195.8 1946.1h2.3M1773.2 1723.6h2.3M1604.2 1777.3h2.3M1553.1 1796.7h2.3M1624.4 1766.5h2.3M1862.3 1701.9h2.3M682.1 2185.3h2.3M988.3 2046.3h2.3M855.1 2096.1h2.3M1270.1 1920.4h2.3M1488.2 1814.6h2.3M1064.3 2029.5h2.3M1272.4 1918.7h2.3M1366.2 1874.3h2.3M1313.6 1897.5h2.3M916.0 2067.1h2.3M1474.2 1823.7h2.3M1138.3 1991.9h2.3M1759.5 1729.3h2.3M1271.8 1920.2h2.3M1127.3 2002.6h2.3M918.1 2067.1h2.3M987.7 2045.2h2.3M668.5 2189.5h2.3M1461.3 1830.8h2.3M1220.6 1939.9h2.3M1469.8 1828.9h2.3M1329.4 1891.9h2.3M1283.0 1915.7h2.3M1685.6 1747.8h2.3M1580.1 1783.5h2.3M759.4 2138.5h2.3M1184.6 1954.3h2.3M596.7 2221.3h2.3M1316.2 1897.7h2.3M1884.8 1702.6h2.3M1587.3 1782.8h2.3M1285.9 1914.4h2.3M1635.8 1763.7h2.3M1665.9 1754.2h2.3M1295.8 1908.1h2.3M869.5 2093.2h2.3M1230.3 1938.5h2.3M778.6 2129.8h2.3M913.9 2068.3h2.3M1784.9 1717.8h2.3M1282.2 1915.1h2.3M1253.2 1928.9h2.3M1750.4 1731.1h2.3M1488.1 1814.0h2.3M916.9 2066.5h2.3M1122.5 2004.8h2.3M1264.5 1922.5h2.3M1618.4 1768.6h2.3M1511.4 1802.4h2.3M1862.8 1701.7h2.3M1173.2 1963.9h2.3M974.9 2049.9h2.3M1013.4 2039.3h2.3M1314.4 1898.0h2.3M987.8 2045.2h2.3M1927.8 1708.0h2.3M1537.4 1797.5h2.3M1320.1 1895.4h2.3M802.5 2119.5h2.3M1498.7 1807.0h2.3M1124.6 2003.5h2.3M661.2 2191.3h2.3M1924.2 1708.1h2.3M1205.8 1943.5h2.3M1304.9 1901.5h2.3M1520.3 1801.0h2.3M938.6 2060.7h2.3M1889.2 1702.3h2.3M1778.2 1721.1h2.3M1797.0 1712.3h2.3M1559.0 1793.6h2.3M1867.1 1702.5h2.3M1895.5 1702.2h2.3M852.9 2097.5h2.3M1192.6 1947.7h2.3M1509.1 1802.8h2.3M1883.1 1701.8h2.3M584.6 2225.4h2.3M1466.0 1828.5h2.3M1580.8 1783.7h2.3M1800.6 1710.3h2.3M1866.5 1702.2h2.3M1556.0 1794.3h2.3M1769.7 1726.1h2.3M776.5 2131.8h2.3M790.8 2124.7h2.3M1747.3 1732.6h2.3M1616.2 1769.4h2.3M1430.9 1842.5h2.3M717.0 2159.6h2.3M1579.2 1784.3h2.3M591.2 2221.5h2.3M1021.1 2038.3h2.3M1803.8 1709.3h2.3M1770.9 1725.0h2.3M1524.5 1799.8h2.3M874.0 2091.5h2.3M1361.7 1876.5h2.3M1246.3 1932.4h2.3M1718.8 1739.4h2.3M834.9 2108.8h2.3M1306.1 1900.0h2.3M1645.6 1762.3h2.3M1162.4 1968.7h2.3M940.3 2060.3h2.3M1299.1 1904.8h2.3M1460.4 1830.7h2.3M836.2 2107.9h2.3M1185.4 1953.5h2.3M823.6 2113.8h2.3M1496.1 1809.7h2.3M1687.5 1746.6h2.3M1314.9 1897.9h2.3M1101.2 2013.7h2.3M1562.8 1792.1h2.3M1216.5 1942.4h2.3M643.3 2199.9h2.3M1111.5 2010.6h2.3M1062.3 2029.7h2.3M848.4 2100.2h2.3M1132.4 1998.5h2.3M1138.6 1992.6h2.3M1270.8 1920.1h2.3M747.3 2142.9h2.3M1606.3 1776.8h2.3M1872.6 1702.2h2.3M1077.4 2028.7h2.3M1903.0 1704.2h2.3M728.7 2153.4h2.3M788.3 2124.9h2.3M1627.4 1767.0h2.3M1376.7 1870.7h2.3M1232.7 1937.0h2.3M933.3 2062.4h2.3M1862.0 1702.9h2.3M824.3 2114.1h2.3M1589.5 1782.3h2.3M919.2 2066.9h2.3M1680.1 1750.0h2.3M1840.7 1701.8h2.3M1022.5 2038.0h2.3M1136.6 1995.5h2.3M1887.7 1702.8h2.3M1465.2 1829.7h2.3M1725.4 1736.6h2.3M1424.1 1847.6h2.3M798.8 2119.7h2.3M1072.7 2028.7h2.3M1202.0 1944.5h2.3M1081.5 2028.1h2.3M1313.1 1897.4h2.3M1680.4 1749.1h2.3M621.2 2205.2h2.3M1483.7 1817.5h2.3M697.8 2165.8h2.3M1556.3 1794.8h2.3M587.9 2223.5h2.3M686.8 2180.2h2.3M1536.7 1797.1h2.3M1124.8 2003.7h2.3M947.5 2059.1h2.3M649.2 2197.1h2.3M893.7 2075.5h2.3M1923.1 1708.5h2.3M823.9 2114.1h2.3M1113.3 2009.6h2.3M953.1 2056.1h2.3M1912.4 1704.0h2.3M853.2 2098.6h2.3M715.6 2160.0h2.3M729.3 2151.7h2.3M1908.7 1703.9h2.3M1460.1 1829.8h2.3M1068.1 2027.4h2.3M1717.4 1738.2h2.3M1849.3 1703.2h2.3M842.5 2103.5h2.3M815.1 2114.8h2.3M1218.6 1941.1h2.3M1772.3 1723.8h2.3M809.9 2116.9h2.3M789.9 2123.6h2.3M1099.4 2016.1h2.3M683.6 2184.2h2.3M1715.1 1740.7h2.3M1381.2 1869.0h2.3M1619.1 1767.8h2.3M1282.5 1915.9h2.3M1301.8 1903.4h2.3M816.5 2116.1h2.3M777.7 2130.8h2.3M1378.3 1871.4h2.3M735.8 2148.1h2.3M1621.4 1767.3h2.3M1107.4 2011.4h2.3M1918.1 1707.6h2.3M1087.8 2026.1h2.3M1776.1 1721.6h2.3M675.0 2187.5h2.3M1437.1 1840.0h2.3M584.7 2224.8h2.3M1839.1 1703.1h2.3M1481.2 1819.6h2.3M939.7 2061.9h2.3M1214.3 1943.0h2.3M1402.8 1859.1h2.3M1756.9 1731.4h2.3M1543.0 1798.3h2.3M1133.0 1997.8h2.3M926.4 2064.8h2.3M1788.4 1715.7h2.3M907.0 2069.4h2.3M1550.5 1797.9h2.3M1148.5 1976.5h2.3M1608.7 1775.4h2.3M1125.7 2002.6h2.3M1080.8 2028.0h2.3M1470.2 1828.7h2.3M1026.1 2038.4h2.3M1405.4 1857.0h2.3M1718.4 1738.4h2.3M1316.4 1898.0h2.3M1705.9 1742.8h2.3M1292.3 1910.1h2.3M1633.2 1764.3h2.3M1883.4 1702.6h2.3M1235.8 1936.8h2.3M1858.8 1701.0h2.3M944.9 2060.4h2.3M637.2 2201.7h2.3M977.6 2048.0h2.3M640.6 2200.1h2.3M1070.3 2028.4h2.3M1676.7 1751.1h2.3M781.2 2129.4h2.3M1831.9 1702.7h2.3M1520.5 1799.6h2.3M983.4 2047.0h2.3M1703.9 1742.7h2.3M833.6 2108.9h2.3M644.5 2199.6h2.3M1330.6 1891.6h2.3M1424.6 1846.1h2.3M1240.8 1935.5h2.3M1658.9 1756.7h2.3M1881.7 1702.7h2.3M828.9 2112.2h2.3M936.7 2062.7h2.3M862.6 2095.3h2.3M1747.1 1732.0h2.3M1495.8 1809.8h2.3M1436.3 1840.5h2.3M1618.6 1769.4h2.3M1300.7 1904.4h2.3M1063.9 2028.9h2.3M1496.5 1808.5h2.3M1644.3 1762.5h2.3M852.5 2098.2h2.3M1770.4 1724.8h2.3M621.8 2205.4h2.3M821.0 2114.2h2.3M1799.9 1711.2h2.3M1584.1 1782.4h2.3M910.1 2068.2h2.3M1904.8 1702.4h2.3M791.1 2124.2h2.3M1633.8 1765.1h2.3M1295.5 1908.3h2.3M1387.9 1865.3h2.3M1708.1 1740.6h2.3M1922.6 1707.3h2.3M1425.0 1845.7h2.3M1743.5 1732.3h2.3M1354.0 1880.0h2.3M1487.8 1815.2h2.3M1408.4 1855.9h2.3M1346.5 1885.6h2.3M1703.3 1742.2h2.3M1106.0 2013.3h2.3M1577.6 1786.0h2.3M1563.1 1791.5h2.3M1438.0 1839.4h2.3M1624.3 1767.7h2.3M888.0 2077.8h2.3M1159.8 1970.6h2.3M674.9 2186.3h2.3M1827.1 1704.5h2.3M1127.7 2000.8h2.3M578.4 2230.5h2.3M1780.2 1719.1h2.3M1727.5 1736.0h2.3M1662.9 1755.5h2.3M1529.7 1798.6h2.3M1276.9 1917.0h2.3M1246.4 1931.9h2.3M1891.1 1702.2h2.3M1350.9 1882.4h2.3M1163.8 1968.9h2.3M1778.5 1721.4h2.3M1859.9 1703.0h2.3M593.2 2221.4h2.3M696.7 2168.6h2.3M770.0 2135.3h2.3M834.9 2107.5h2.3M1013.5 2040.7h2.3M911.6 2068.0h2.3M1635.3 1763.8h2.3M1360.4 1877.0h2.3M1532.8 1797.9h2.3M881.8 2084.0h2.3M1714.7 1739.3h2.3M917.8 2067.4h2.3M1860.1 1701.7h2.3M1012.0 2039.9h2.3M1192.7 1948.4h2.3M1358.0 1878.6h2.3M1000.3 2042.1h2.3M1186.9 1952.7h2.3M1798.4 1712.1h2.3M868.0 2093.7h2.3M984.3 2046.3h2.3M1214.4 1941.3h2.3M1274.0 1919.6h2.3M733.3 2151.1h2.3M1128.3 2000.6h2.3M1308.0 1943.4h2.3M1026.4 2052.9h2.3M978.9 2067.4h2.3M956.7 2073.0h2.3M1549.8 1842.9h2.3M1199.2 1989.3h2.3M714.1 2184.0h2.3M1041.2 2046.9h2.3M727.1 2175.2h2.3M1027.4 2052.1h2.3M1575.1 1832.7h2.3M920.7 2083.8h2.3M1476.7 1874.3h2.3M1639.3 1808.3h2.3M1798.9 1751.7h2.3M1197.4 1991.1h2.3M717.0 2182.7h2.3M1379.9 1914.4h2.3M666.1 2212.5h2.3M776.9 2155.0h2.3M1093.1 2025.3h2.3M1209.7 1984.8h2.3M1144.7 2002.6h2.3M667.0 2212.8h2.3M1233.5 1976.3h2.3M1596.9 1822.8h2.3M1773.1 1761.0h2.3M1708.5 1781.0h2.3M753.2 2167.4h2.3M867.3 2110.5h2.3M585.9 2240.9h2.3M1652.2 1802.6h2.3M1048.3 2043.6h2.3M1107.3 2019.4h2.3M1801.3 1750.9h2.3M1665.8 1796.1h2.3M1834.2 1746.2h2.3M573.8 2237.8h2.3M1088.8 2026.6h2.3M730.8 2174.5h2.3M1848.3 1741.8h2.3M1262.6 1966.5h2.3M731.0 2174.0h2.3M1121.7 2012.1h2.3M1210.5 1984.4h2.3M684.7 2202.6h2.3M1679.5 1791.6h2.3M1429.8 1889.1h2.3M1470.8 1877.7h2.3M855.7 2117.7h2.3M1915.8 1716.9h2.3M996.3 2064.3h2.3M1141.1 2004.9h2.3M1039.0 2047.0h2.3M729.2 2174.6h2.3M722.3 2178.8h2.3M1726.3 1775.6h2.3M1351.2 1919.0h2.3M1508.4 1856.6h2.3M1047.0 2044.2h2.3M1042.0 2046.9h2.3M1205.8 1985.6h2.3M1232.1 1978.0h2.3M814.7 2138.3h2.3M1329.7 1934.4h2.3M592.9 2241.3h2.3M683.8 2204.0h2.3M1847.6 1742.6h2.3M604.3 2237.2h2.3M1214.3 1983.7h2.3M1161.6 2001.1h2.3M1587.0 1827.4h2.3M1908.2 1721.5h2.3M1615.9 1819.1h2.3M836.6 2128.9h2.3M1686.7 1788.5h2.3M1754.1 1767.1h2.3M738.5 2171.9h2.3M1727.8 1775.3h2.3M1640.9 1808.2h2.3M593.3 2240.4h2.3M672.9 2209.0h2.3M1100.5 2022.2h2.3M868.6 2109.6h2.3M1151.5 2001.6h2.3M1492.0 1866.0h2.3M693.3 2197.5h2.3M741.0 2172.5h2.3M974.3 2067.3h2.3M615.5 2233.0h2.3M1382.3 1912.6h2.3M1364.2 1916.8h2.3M833.0 2132.0h2.3M1371.3 1916.2h2.3M1136.4 2005.7h2.3M879.9 2103.1h2.3M1666.5 1796.0h2.3M1692.9 1786.9h2.3M1090.9 2024.6h2.3M1828.4 1746.5h2.3M1918.6 1715.9h2.3M1251.5 1971.3h2.3M672.9 2209.3h2.3M692.9 2198.2h2.3M727.5 2176.1h2.3M1303.9 1946.2h2.3M1685.5 1789.0h2.3M1651.7 1802.5h2.3M1675.6 1792.8h2.3M1700.1 1784.5h2.3M1483.4 1872.0h2.3M591.5 2241.7h2.3M1234.3 1976.6h2.3M889.7 2097.8h2.3M1328.4 1934.2h2.3M583.4 2239.9h2.3M790.6 2149.0h2.3M697.1 2196.1h2.3M1609.1 1821.2h2.3M1570.0 1835.3h2.3M1413.1 1896.7h2.3M1717.7 1778.1h2.3M1884.1 1729.8h2.3M1130.0 2008.5h2.3M1418.9 1893.5h2.3M995.6 2065.3h2.3M1140.4 2005.3h2.3M739.4 2171.2h2.3M1258.3 1968.4h2.3M615.5 2233.6h2.3M748.3 2168.6h2.3M1623.8 1814.0h2.3M854.3 2119.1h2.3M1688.7 1788.1h2.3M1272.5 1961.3h2.3M1672.5 1793.9h2.3M1637.8 1808.6h2.3M741.8 2172.1h2.3M862.4 2113.9h2.3M1489.8 1867.4h2.3M1067.1 2034.5h2.3M1169.4 2000.6h2.3M1305.5 1944.8h2.3M669.1 2211.2h2.3M1177.6 2000.1h2.3M1865.3 1732.2h2.3M675.8 2207.2h2.3M660.4 2215.7h2.3M610.8 2235.3h2.3M1827.7 1746.6h2.3M1528.0 1850.2h2.3M809.6 2140.0h2.3M597.2 2240.1h2.3M713.5 2183.7h2.3M1195.1 1991.7h2.3M825.5 2134.2h2.3M957.1 2073.3h2.3M1882.6 1729.8h2.3M607.5 2236.5h2.3M1777.2 1759.9h2.3M1917.7 1716.4h2.3M939.9 2077.0h2.3M958.4 2072.1h2.3M965.8 2069.9h2.3M1553.6 1841.5h2.3M683.9 2202.7h2.3M1741.3 1770.7h2.3M1107.0 2019.0h2.3M1898.4 1724.9h2.3M1589.1 1826.3h2.3M1659.5 1799.3h2.3M867.9 2110.1h2.3M1420.8 1892.1h2.3M1375.1 1914.6h2.3M1089.6 2025.9h2.3M1070.3 2033.7h2.3M1911.3 1718.9h2.3M1217.3 1981.0h2.3M970.1 2069.7h2.3M1257.3 1969.2h2.3M1814.3 1748.8h2.3M1862.4 1733.5h2.3M852.9 2120.3h2.3M603.4 2238.3h2.3M1798.7 1752.3h2.3M1775.5 1760.8h2.3M1626.2 1813.4h2.3M955.8 2071.9h2.3M751.8 2168.6h2.3M713.8 2184.7h2.3M933.9 2080.7h2.3M1887.4 1727.5h2.3M1355.5 1918.0h2.3M1200.3 1988.4h2.3M1250.8 1972.1h2.3M1282.0 1955.4h2.3M1309.9 1942.7h2.3M812.3 2138.9h2.3M1226.4 1978.8h2.3M924.2 2084.3h2.3M710.5 2185.9h2.3M1587.1 1826.5h2.3M1742.2 1771.8h2.3M1257.5 1969.0h2.3M1089.4 2026.5h2.3M1892.9 1726.7h2.3M1074.1 2033.2h2.3M580.5 2240.5h2.3M1865.9 1732.0h2.3M1438.2 1886.8h2.3M1110.5 2018.0h2.3M691.0 2198.7h2.3M784.4 2150.6h2.3M877.7 2104.6h2.3M1400.1 1902.5h2.3M1666.7 1796.6h2.3M1896.9 1725.0h2.3M1294.5 1949.8h2.3M993.8 2066.6h2.3M1087.9 2026.7h2.3M1114.7 2014.6h2.3M1050.8 2042.6h2.3M1726.1 1775.8h2.3M652.6 2219.2h2.3M1457.2 1884.0h2.3M924.4 2082.5h2.3M1288.8 1951.7h2.3M1693.6 1786.6h2.3M662.5 2215.3h2.3M1185.7 1996.6h2.3M1195.2 1992.6h2.3M699.3 2195.3h2.3M1820.5 1747.7h2.3M1897.2 1725.8h2.3M1501.3 1860.8h2.3M1544.7 1844.6h2.3M1646.0 1804.6h2.3M1148.0 2000.9h2.3M574.4 2238.8h2.3M1397.2 1903.5h2.3M1677.0 1792.5h2.3M1611.1 1819.9h2.3M986.5 2066.7h2.3M921.3 2084.5h2.3M1677.7 1791.8h2.3M1745.0 1770.9h2.3M1200.2 1989.2h2.3M948.9 2074.7h2.3M689.3 2201.0h2.3M905.3 2090.1h2.3M759.9 2163.8h2.3M1023.3 2054.0h2.3M1031.2 2049.9h2.3M1219.1 1981.4h2.3M1270.4 1962.0h2.3M1315.0 1943.3h2.3M1059.3 2039.0h2.3M1158.8 2001.8h2.3M1111.0 2017.5h2.3M1918.5 1717.6h2.3M1585.2 1826.9h2.3M1503.8 1859.6h2.3M787.7 2150.0h2.3M1688.6 1788.4h2.3M1133.3 2006.9h2.3M847.7 2122.4h2.3M1255.7 1970.6h2.3M1076.0 2031.7h2.3M751.0 2168.8h2.3M1055.3 2039.9h2.3M1678.7 1791.8h2.3M1353.3 1918.4h2.3M756.7 2166.1h2.3M1351.3 1919.4h2.3M1013.8 2057.6h2.3M699.3 2194.3h2.3M1218.2 1981.8h2.3M1241.4 1974.7h2.3M1317.9 1941.8h2.3M789.4 2148.9h2.3M1583.7 1829.0h2.3M807.6 2140.3h2.3M1530.4 1849.5h2.3M1011.9 2059.1h2.3M1174.7 2000.5h2.3M1208.7 1984.6h2.3M1585.6 1828.5h2.3M1554.5 1841.3h2.3M704.1 2192.0h2.3M1756.8 1765.9h2.3M1559.5 1838.7h2.3M1003.5 2062.0h2.3M1389.9 1907.7h2.3M1772.8 1760.9h2.3M1556.9 1841.1h2.3M920.1 2084.2h2.3M1361.4 1916.0h2.3M611.5 2234.2h2.3M1634.7 1810.8h2.3M1095.4 2023.4h2.3M1348.8 1920.5h2.3M1031.4 2050.1h2.3M927.2 2082.8h2.3M1327.0 1934.5h2.3M706.5 2189.9h2.3M1228.6 1979.1h2.3M1549.3 1843.1h2.3M919.5 2085.3h2.3M1209.1 1985.5h2.3M919.6 2086.0h2.3M1861.1 1733.8h2.3M1095.8 2022.7h2.3M1180.2 2000.5h2.3M1459.9 1881.8h2.3M877.8 2104.6h2.3M1298.2 1946.2h2.3M1349.2 1921.2h2.3M1807.4 1748.5h2.3M1538.0 1845.9h2.3M1441.1 1887.2h2.3M602.0 2237.8h2.3M1141.8 2004.4h2.3M1914.1 1717.4h2.3M948.8 2075.2h2.3M1190.9 1994.3h2.3M1729.0 1775.4h2.3M1156.6 2000.8h2.3M1511.8 1856.1h2.3M1475.6 1875.7h2.3M1565.0 1836.6h2.3M1673.8 1793.1h2.3M1145.1 2001.7h2.3M1699.2 1784.2h2.3M1434.9 1888.0h2.3M656.5 2217.5h2.3M1267.5 1963.1h2.3M1681.4 1789.4h2.3M1735.4 1773.9h2.3M711.1 2187.0h2.3M1848.2 1741.5h2.3M1162.6 2002.2h2.3M655.3 2218.6h2.3M589.3 2241.0h2.3M635.7 2225.8h2.3M1535.1 1847.7h2.3M1064.6 2035.9h2.3M699.9 2193.5h2.3M862.6 2113.1h2.3M729.4 2174.6h2.3M1125.6 2010.0h2.3M1556.3 1840.2h2.3M1627.8 1813.3h2.3M1548.8 1843.5h2.3M1058.6 2039.3h2.3M624.9 2230.9h2.3M1550.9 1843.2h2.3M1045.4 2043.8h2.3M1567.2 1835.5h2.3M1763.8 1761.7h2.3M1742.6 1770.1h2.3M965.5 2070.8h2.3M676.0 2208.4h2.3M1107.0 2018.7h2.3M813.7 2138.2h2.3M1764.3 1762.4h2.3M727.8 2175.0h2.3M719.2 2179.8h2.3M956.9 2072.5h2.3M995.6 2066.3h2.3M680.4 2205.6h2.3M1424.9 1892.1h2.3M1220.5 1981.2h2.3M779.9 2153.2h2.3M1737.0 1771.6h2.3M1308.9 1944.8h2.3M1825.3 1746.7h2.3M1926.2 1713.3h2.3M749.1 2169.6h2.3M1296.1 1949.0h2.3M742.2 2171.8h2.3M998.4 2063.3h2.3M789.1 2149.3h2.3M1813.2 1749.0h2.3M1467.1 1880.0h2.3M987.6 2066.1h2.3M671.6 2209.5h2.3M905.3 2091.8h2.3M1809.8 1748.4h2.3M1864.2 1731.9h2.3M1469.2 1878.5h2.3M1353.9 1918.8h2.3M1572.6 1834.0h2.3M1469.6 1879.8h2.3M1244.8 1974.2h2.3M1555.6 1841.2h2.3M894.4 2096.6h2.3M1866.3 1731.7h2.3M1177.4 2000.9h2.3M1670.3 1795.3h2.3M1003.7 2061.9h2.3M1585.4 1828.6h2.3M734.2 2172.8h2.3M1736.4 1771.8h2.3M687.6 2201.1h2.3M586.3 2241.4h2.3M609.6 2234.9h2.3M1251.0 1971.4h2.3M1591.6 1826.0h2.3M600.9 2239.8h2.3M665.2 2213.2h2.3M903.5 2091.2h2.3M680.3 2206.2h2.3M1012.9 2057.8h2.3M1783.5 1758.5h2.3M776.1 2155.0h2.3M1061.6 2036.8h2.3M1472.9 1877.0h2.3M1495.8 1863.8h2.3M653.5 2219.6h2.3M1590.0 1825.9h2.3M761.4 2163.6h2.3M1295.8 1948.7h2.3M654.0 2218.8h2.3M1862.9 1733.3h2.3M1469.8 1878.5h2.3M1427.4 1891.1h2.3M906.6 2091.2h2.3M960.4 2070.7h2.3M1214.6 1983.7h2.3M1526.2 1850.3h2.3M1114.9 2016.1h2.3M1846.0 1743.0h2.3M1234.4 1976.1h2.3M1488.6 1868.9h2.3M1031.9 2050.8h2.3M1250.3 1972.2h2.3M1563.3 1838.2h2.3M809.2 2141.2h2.3M637.3 2224.7h2.3M723.9 2177.5h2.3M1195.6 1992.7h2.3M804.4 2141.0h2.3M588.5 2240.3h2.3M1676.5 1792.0h2.3M1277.7 1958.1h2.3M957.9 2072.7h2.3M574.5 2238.5h2.3M1852.2 1737.4h2.3M1237.6 1975.9h2.3M966.8 2069.3h2.3M1726.3 1774.6h2.3M887.7 2099.1h2.3M660.3 2215.0h2.3M1755.9 1766.2h2.3M1287.7 1953.7h2.3M1691.3 1787.0h2.3M1070.8 2034.2h2.3M1041.5 2045.8h2.3M830.2 2132.3h2.3M1654.1 1802.2h2.3M1716.2 1778.4h2.3M1525.1 1851.4h2.3M940.4 2077.6h2.3M722.5 2178.7h2.3M1534.7 1846.9h2.3M1529.6 1850.0h2.3M650.5 2220.9h2.3M1918.1 1716.6h2.3M1075.9 2030.7h2.3M1612.5 1819.8h2.3M862.6 2112.7h2.3M1120.7 2013.4h2.3M1009.2 2059.8h2.3M1505.2 1857.8h2.3M1359.7 1916.3h2.3M1661.5 1798.4h2.3M1792.5 1754.1h2.3M1117.7 2014.0h2.3M1172.3 2001.8h2.3M980.6 2065.8h2.3M1453.9 1884.2h2.3M779.8 2153.4h2.3M1215.5 1982.0h2.3M1811.4 1748.3h2.3M1815.2 1747.9h2.3M592.1 2241.5h2.3M1116.5 2013.7h2.3M1413.7 1896.2h2.3M1118.5 2014.1h2.3M1921.5 1714.0h2.3M1415.8 1895.6h2.3M969.7 2069.8h2.3M700.7 2193.8h2.3M1297.3 1947.9h2.3M1279.2 1958.0h2.3M715.5 2183.8h2.3M1291.6 1951.0h2.3M1606.2 1821.1h2.3M1746.6 1770.2h2.3M918.9 2084.5h2.3M1558.0 1840.8h2.3M1028.9 2051.0h2.3M1491.4 1867.4h2.3M1408.5 1897.4h2.3M1250.7 1971.7h2.3M846.0 2124.6h2.3M1342.3 1925.2h2.3M1400.2 1901.7h2.3M1808.5 1748.7h2.3M1030.1 2051.6h2.3M1361.7 1917.7h2.3M1641.3 1807.7h2.3M1882.2 1730.8h2.3M657.5 2217.1h2.3M1226.4 1979.2h2.3M1902.8 1724.6h2.3M1550.2 1843.3h2.3M577.9 2239.2h2.3M1206.1 1985.9h2.3M1824.3 1746.5h2.3M1713.1 1780.5h2.3M1032.0 2049.1h2.3M1160.8 2000.8h2.3M1865.3 1732.7h2.3M829.1 2134.1h2.3M1273.2 1961.0h2.3M862.2 2114.8h2.3M1763.4 1763.1h2.3M1694.4 1786.5h2.3M889.5 2098.8h2.3M1118.1 2013.3h2.3M1541.8 1845.4h2.3M914.7 2086.8h2.3M1120.7 2013.0h2.3M1609.4 1820.7h2.3M955.8 2072.5h2.3M881.4 2102.9h2.3M1905.6 1721.2h2.3M1071.7 2033.4h2.3M726.5 2176.5h2.3M1459.9 1882.2h2.3M969.5 2069.5h2.3M1853.7 1735.5h2.3M1553.7 1842.2h2.3M1578.8 1831.7h2.3M918.0 2085.0h2.3M1887.3 1728.4h2.3M1503.8 1859.4h2.3M1359.6 1916.1h2.3M663.7 2213.3h2.3M1747.1 1768.6h2.3M1078.3 2029.9h2.3M1436.5 1888.3h2.3M1660.5 1799.4h2.3M1615.4 1817.8h2.3M1181.1 2000.5h2.3M1162.4 2002.3h2.3M1315.3 1941.7h2.3M1825.1 1746.5h2.3M1446.0 1886.9h2.3M1699.3 1783.1h2.3M1407.1 1898.6h2.3M1473.2 1876.2h2.3M1210.7 1984.2h2.3M941.5 2076.9h2.3M1573.0 1833.6h2.3M1097.6 2022.5h2.3M1420.3 1893.2h2.3M1497.3 1863.9h2.3M1899.4 1723.9h2.3M1226.4 1979.2h2.3M743.7 2170.2h2.3M813.8 2138.5h2.3M1027.7 2051.1h2.3M1525.9 1851.4h2.3M881.1 2101.5h2.3M1009.9 2059.8h2.3M732.0 2174.8h2.3M1859.5 1732.4h2.3M884.5 2100.7h2.3M1718.3 1777.3h2.3M653.3 2218.6h2.3M1118.8 2012.9h2.3M1663.6 1796.7h2.3M1467.5 1879.5h2.3M724.1 2176.9h2.3M1110.7 2016.7h2.3M1432.8 1888.9h2.3M998.3 2063.6h2.3M1385.4 1911.6h2.3M1719.3 1777.1h2.3M1492.4 1865.6h2.3M1445.2 1885.6h2.3M1611.6 1819.4h2.3M1589.6 1826.6h2.3M747.8 2170.0h2.3M1870.2 1731.8h2.3M1463.1 1882.3h2.3M630.6 2228.3h2.3M991.6 2065.9h2.3M810.8 2139.5h2.3M1786.4 1756.8h2.3M1129.6 2008.4h2.3M1075.1 2031.4h2.3M1057.5 2039.2h2.3M1289.3 1952.2h2.3M1414.1 1894.5h2.3M1236.3 1977.0h2.3M1746.6 1770.0h2.3M1508.0 1856.9h2.3M616.5 2232.8h2.3M1842.8 1743.7h2.3M1225.0 1979.1h2.3M602.1 2238.6h2.3M681.9 2205.3h2.3M1351.5 1918.2h2.3M870.5 2107.4h2.3M793.2 2146.2h2.3M1093.6 2024.0h2.3M645.1 2223.0h2.3M1122.4 2013.1h2.3M823.9 2135.7h2.3M1743.9 1770.4h2.3M1586.0 1826.9h2.3M1531.3 1848.3h2.3M1724.1 1777.1h2.3M959.3 2071.4h2.3M1541.2 1845.3h2.3M1386.9 1909.8h2.3M1835.0 1745.9h2.3M1755.7 1765.7h2.3M1352.8 1918.7h2.3M1729.7 1775.1h2.3M1163.3 2001.9h2.3M1571.2 1833.7h2.3M736.0 2173.4h2.3M924.0 2083.9h2.3M592.4 2241.2h2.3M633.3 2225.9h2.3M803.5 2141.9h2.3M744.4 2170.6h2.3M1747.1 1769.8h2.3M844.1 2126.2h2.3M1896.5 1725.2h2.3M1882.3 1730.6h2.3M577.7 2237.6h2.3M792.3 2148.0h2.3M834.1 2132.0h2.3M1567.5 1836.8h2.3M1448.1 1885.5h2.3M1636.7 1808.3h2.3M1036.4 2047.9h2.3M1631.9 1811.2h2.3M763.8 2161.4h2.3M828.2 2133.7h2.3M1287.3 1952.1h2.3M1891.4 1727.1h2.3M930.2 2081.5h2.3M1927.8 1711.0h2.3M671.7 2209.7h2.3M1359.4 1917.9h2.3M1308.3 1943.4h2.3M1515.2 1855.6h2.3M1479.0 1873.2h2.3M1369.0 1915.9h2.3M1448.9 1885.5h2.3M1321.5 1938.5h2.3M1575.9 1831.4h2.3M1537.7 1847.6h2.3M1147.5 2001.1h2.3M917.2 2085.5h2.3M1415.0 1895.0h2.3M811.7 2139.3h2.3M886.3 2099.2h2.3M1066.6 2035.9h2.3M1177.5 2000.0h2.3M609.4 2235.2h2.3M1387.3 1910.0h2.3M883.8 2100.5h2.3M1485.1 1869.4h2.3M1401.4 1901.8h2.3M958.6 2072.1h2.3M752.9 2167.5h2.3M1066.2 2035.1h2.3M1140.6 2005.3h2.3M1711.8 1780.0h2.3M1667.3 1796.5h2.3M1230.8 1977.2h2.3M966.0 2069.9h2.3M721.0 2179.3h2.3M1247.6 1973.0h2.3M616.7 2234.1h2.3M1467.6 1880.0h2.3M980.9 2067.2h2.3M855.3 2119.3h2.3M829.0 2133.7h2.3M972.6 2069.4h2.3M892.6 2097.0h2.3M681.5 2205.7h2.3M1838.3 1745.3h2.3M698.2 2194.6h2.3M757.1 2165.3h2.3M1743.8 1769.8h2.3M700.3 2193.5h2.3M1247.4 1972.1h2.3M1186.9 1996.7h2.3M1205.7 1986.5h2.3M1554.9 1841.4h2.3M1177.0 2001.3h2.3M1596.0 1824.4h2.3M1338.7 1927.2h2.3M1573.8 1833.6h2.3M1406.0 1899.7h2.3M1313.2 1943.2h2.3M922.0 2084.1h2.3M1814.6 1749.2h2.3M1495.6 1863.1h2.3M1185.1 1996.2h2.3M1787.8 1756.9h2.3M1583.8 1828.6h2.3M743.4 2170.8h2.3M1676.3 1791.7h2.3M1600.1 1822.1h2.3M940.1 2077.7h2.3M648.0 2220.7h2.3M1278.2 1958.2h2.3M1792.0 1755.1h2.3M911.9 2088.8h2.3M1345.3 1923.9h2.3M706.9 2188.9h2.3M1039.9 2046.8h2.3M1788.9 1755.2h2.3M975.2 2067.0h2.3M1597.7 1823.5h2.3M1279.4 1957.7h2.3M838.9 2128.6h2.3M1401.0 1902.7h2.3M873.1 2106.6h2.3M1228.9 1977.4h2.3M1644.6 1805.1h2.3M1561.6 1838.2h2.3M1608.1 1821.4h2.3M676.2 2207.4h2.3M1575.4 1831.8h2.3M906.7 2090.2h2.3M1520.0 1853.7h2.3M1439.0 1886.9h2.3M1222.5 1979.4h2.3M1455.5 1884.9h2.3M837.3 2128.4h2.3M1480.5 1873.5h2.3M1835.4 1744.6h2.3M1781.5 1760.2h2.3M848.0 2122.3h2.3M1719.5 1776.7h2.3M1166.4 2001.3h2.3M1344.4 1923.2h2.3M1317.2 1941.7h2.3M1104.0 2019.0h2.3M1392.4 1906.5h2.3M1834.4 1745.4h2.3M812.6 2139.1h2.3M1091.4 2024.3h2.3M1388.5 1908.7h2.3M1830.3 1746.0h2.3M726.5 2176.2h2.3M1587.3 1827.7h2.3M1521.3 1853.4h2.3M1244.8 1974.0h2.3M1130.8 2008.6h2.3M1618.9 1816.2h2.3M1534.0 1848.0h2.3M1598.3 1823.3h2.3M613.0 2234.9h2.3M599.7 2239.5h2.3M1775.6 1760.7h2.3M1106.6 2019.2h2.3M853.7 2120.3h2.3M609.0 2236.8h2.3M624.7 2231.1h2.3M1150.4 2000.8h2.3M986.1 2066.9h2.3M1886.4 1728.1h2.3M1302.7 1945.0h2.3M1626.9 1812.7h2.3M1020.8 2054.2h2.3M1573.5 1832.6h2.3M1777.7 1761.0h2.3M729.4 2176.2h2.3M1761.4 1763.6h2.3M1559.5 1839.1h2.3M896.6 2094.6h2.3M1920.1 1717.5h2.3M805.7 2140.9h2.3M1468.8 1879.4h2.3M922.9 2083.1h2.3M922.8 2083.6h2.3M929.9 2081.0h2.3M1408.4 1898.8h2.3M1358.0 1916.9h2.3M800.5 2142.3h2.3M1923.2 1713.0h2.3M1426.6 1890.7h2.3M702.6 2192.5h2.3M1365.8 1915.2h2.3M1460.8 1883.3h2.3M1072.8 2032.9h2.3M1873.2 1732.7h2.3M1741.6 1771.2h2.3M1648.2 1803.8h2.3M803.9 2141.6h2.3M913.2 2086.9h2.3M1854.3 1734.9h2.3M1599.7 1822.5h2.3M1114.5 2016.4h2.3M1370.8 1915.7h2.3M1691.6 1785.6h2.3M1035.9 2047.6h2.3M1742.0 1771.5h2.3M1725.0 1776.1h2.3M665.1 2213.4h2.3M1724.3 1777.1h2.3M1735.7 1772.0h2.3M1808.5 1749.0h2.3M1447.5 1885.3h2.3M1907.3 1722.3h2.3M1334.4 1931.4h2.3M1083.5 2028.6h2.3M967.1 2069.1h2.3M1592.9 1825.0h2.3M1463.8 1881.9h2.3M1165.9 2001.5h2.3M1267.8 1963.1h2.3M1792.2 1754.9h2.3M948.3 2074.4h2.3M1735.7 1772.5h2.3M1166.7 2001.0h2.3M1232.8 1976.4h2.3M997.5 2063.8h2.3M1428.9 1890.5h2.3M943.1 2077.6h2.3M1883.1 1730.9h2.3M939.2 2078.7h2.3M1557.0 1839.6h2.3M1118.3 2014.6h2.3M1410.0 1896.6h2.3M688.4 2200.9h2.3M1812.2 1749.2h2.3M1881.7 1730.2h2.3M869.1 2109.9h2.3M1179.0 2001.2h2.3M1494.6 1864.2h2.3M1873.1 1731.3h2.3M1871.6 1733.2h2.3M1396.7 1903.6h2.3M850.9 2120.5h2.3M1261.0 1966.1h2.3M1693.9 1785.8h2.3M1771.4 1760.8h2.3M1211.1 1984.0h2.3M602.3 2237.6h2.3M1417.0 1893.5h2.3M1734.8 1773.8h2.3M903.9 2091.7h2.3M1533.8 1847.4h2.3M1503.7 1858.4h2.3M580.6 2240.1h2.3M1139.3 2005.3h2.3M763.5 2163.0h2.3M1106.6 2019.3h2.3M1767.1 1761.2h2.3M840.0 2127.6h2.3M1291.0 1951.9h2.3M1169.7 2000.8h2.3M1663.4 1798.4h2.3M1828.4 1747.8h2.3M987.8 2066.1h2.3M912.9 2088.1h2.3M1756.6 1765.0h2.3M1391.4 1906.5h2.3M631.3 2227.9h2.3M950.3 2074.0h2.3M749.7 2169.7h2.3M1664.2 1798.1h2.3M1033.9 2048.5h2.3M759.9 2164.9h2.3M1225.9 1978.7h2.3M1812.5 1749.3h2.3M838.8 2129.1h2.3M813.7 2138.0h2.3M850.9 2121.7h2.3M1192.5 1993.0h2.3M1603.1 1821.4h2.3M1621.9 1816.3h2.3M978.4 2066.0h2.3M972.0 2068.2h2.3M647.1 2220.3h2.3M1556.6 1839.5h2.3M1914.6 1715.7h2.3M1018.2 2056.0h2.3M1773.2 1760.3h2.3M891.2 2098.5h2.3M1503.3 1858.8h2.3M1599.8 1822.2h2.3M1167.6 2001.9h2.3M966.8 2070.6h2.3M624.3 2229.7h2.3M1463.1 1882.6h2.3M1449.1 1886.1h2.3M1477.7 1874.2h2.3M1078.5 2030.9h2.3M694.7 2198.1h2.3M1243.7 1973.5h2.3M854.4 2119.5h2.3M1658.8 1799.3h2.3M1060.4 2038.1h2.3M783.5 2152.6h2.3M637.5 2225.6h2.3M1703.8 1783.1h2.3M659.9 2215.5h2.3M575.9 2240.3h2.3M1462.0 1882.9h2.3M718.2 2181.7h2.3M1043.4 2045.6h2.3M1887.7 1727.8h2.3M1537.5 1846.1h2.3M616.1 2233.3h2.3M762.2 2163.4h2.3M1334.9 1929.9h2.3M724.4 2176.9h2.3M1710.1 1780.9h2.3M1738.6 1772.0h2.3M1705.8 1781.6h2.3M1922.1 1714.4h2.3M1761.8 1763.6h2.3M1386.3 1910.1h2.3M895.0 2095.6h2.3M1751.5 1767.9h2.3M1469.0 1879.1h2.3M998.1 2064.8h2.3M768.5 2158.9h2.3M1318.4 1941.4h2.3M573.0 2236.2h2.3M1359.1 1916.8h2.3M1638.4 1808.6h2.3M1342.5 1924.3h2.3M1012.0 2058.0h2.3M1216.5 1981.7h2.3M591.8 2241.5h2.3M1194.7 1992.0h2.3M891.4 2096.5h2.3M900.5 2093.8h2.3M1771.4 1761.7h2.3M1774.0 1761.7h2.3M1305.9 1944.5h2.3M754.6 2167.4h2.3M1111.6 2016.9h2.3M868.0 2109.8h2.3M605.8 2237.0h2.3M723.6 2177.3h2.3M1897.4 1725.5h2.3M1032.2 2049.2h2.3M705.6 2190.3h2.3M584.3 2241.5h2.3M937.4 2079.0h2.3M862.1 2114.4h2.3M1555.4 1841.7h2.3M1620.4 1816.5h2.3M1672.2 1793.7h2.3M699.2 2193.6h2.3M736.9 2172.6h2.3M1191.0 1994.8h2.3M1648.4 1805.0h2.3M814.3 2137.7h2.3M1327.7 1934.7h2.3M1431.1 1890.3h2.3M1551.3 1842.6h2.3M618.8 2233.0h2.3M641.4 2224.4h2.3M998.7 2063.7h2.3M1103.4 2021.0h2.3M985.9 2067.0h2.3M1927.7 1710.8h2.3M1276.5 1958.3h2.3M741.5 2170.9h2.3M1921.0 1717.0h2.3M576.2 2240.8h2.3M1300.0 1945.5h2.3M1404.0 1900.2h2.3M1376.2 1915.5h2.3M750.6 2168.0h2.3M1283.2 1955.8h2.3M832.3 2133.0h2.3M1084.2 2027.9h2.3M1913.5 1718.0h2.3M773.0 2157.6h2.3M1609.3 1819.9h2.3M957.9 2072.4h2.3M1524.5 1851.5h2.3M1489.3 1868.3h2.3M798.4 2144.8h2.3M1622.3 1815.7h2.3M674.1 2208.6h2.3M1402.6 1901.4h2.3M855.2 2119.0h2.3M632.8 2227.9h2.3M905.0 2091.9h2.3M1366.8 1915.3h2.3M848.2 2122.6h2.3M642.4 2223.0h2.3M1264.7 1964.4h2.3M1041.8 2046.3h2.3M1661.8 1798.9h2.3M647.4 2220.9h2.3M1022.2 2053.7h2.3M1891.0 1727.2h2.3M1446.4 1885.8h2.3M1054.4 2041.4h2.3M1488.0 1869.2h2.3M1352.8 1917.2h2.3M1868.4 1731.8h2.3M869.1 2109.1h2.3M1422.8 1892.3h2.3M1252.5 1971.5h2.3M674.8 2208.0h2.3M994.6 2066.1h2.3M1260.6 1966.7h2.3M1541.6 1845.1h2.3M1662.1 1797.6h2.3M603.1 2238.7h2.3M760.0 2164.7h2.3M1388.2 1909.2h2.3M657.8 2217.5h2.3M600.1 2239.4h2.3M1039.9 2047.0h2.3M686.6 2202.0h2.3M1147.9 2000.5h2.3M589.6 2240.2h2.3M1321.6 1937.7h2.3M717.0 2181.3h2.3M1368.1 1916.6h2.3M827.0 2134.3h2.3M750.0 2168.1h2.3M808.8 2140.7h2.3M1299.7 1947.4h2.3M1482.2 1871.0h2.3M1870.2 1732.1h2.3M1694.0 1786.7h2.3M1221.9 1981.1h2.3M1629.1 1811.8h2.3M1424.1 1892.3h2.3M1709.1 1779.9h2.3M1296.8 1947.6h2.3M1837.2 1744.3h2.3M1022.8 2053.8h2.3M1309.2 1943.4h2.3M836.8 2130.1h2.3M1842.6 1743.6h2.3M1371.2 1915.1h2.3M844.2 2126.3h2.3M1471.9 1878.9h2.3M1827.0 1747.2h2.3M1517.8 1854.0h2.3M1895.2 1724.9h2.3M1275.2 1960.6h2.3M1125.0 2010.1h2.3M1101.3 2021.2h2.3M1869.7 1731.8h2.3M884.7 2100.1h2.3M821.5 2136.0h2.3M1732.7 1773.8h2.3M964.5 2071.4h2.3M1204.4 1986.6h2.3M1623.7 1814.3h2.3M1464.9 1880.0h2.3M1330.5 1933.7h2.3M939.4 2077.8h2.3M1559.3 1840.1h2.3M1624.9 1814.3h2.3M1849.2 1740.8h2.3M1127.9 2009.1h2.3M1580.5 1829.9h2.3M1621.6 1816.8h2.3M998.5 2063.9h2.3M1550.6 1843.3h2.3M1827.9 1746.8h2.3M907.2 2090.4h2.3M1679.7 1791.7h2.3M921.3 2084.3h2.3M1317.4 1940.7h2.3M667.1 2212.5h2.3M921.4 2084.5h2.3M995.6 2065.4h2.3M1821.3 1746.9h2.3M978.3 2066.0h2.3M1434.2 1889.3h2.3M1723.5 1777.4h2.3M839.5 2127.3h2.3M1445.5 1886.9h2.3M1757.6 1765.2h2.3M818.0 2137.2h2.3M1321.4 1939.2h2.3M1726.2 1776.5h2.3M1829.7 1747.1h2.3M1456.9 1883.8h2.3M1529.7 1849.3h2.3M1789.2 1755.5h2.3M1285.2 1953.9h2.3M1279.2 1957.9h2.3M918.4 2085.4h2.3M1324.7 1937.0h2.3M1382.4 1913.0h2.3M717.4 2181.5h2.3M1250.8 1972.4h2.3M1440.7 1886.6h2.3M918.2 2084.8h2.3M843.9 2125.1h2.3M1491.2 1866.4h2.3M1770.5 1761.3h2.3M1658.4 1800.2h2.3M1805.7 1749.4h2.3M1014.4 2058.2h2.3M1447.3 1886.0h2.3M1695.7 1784.6h2.3M851.0 2121.5h2.3M1662.1 1798.1h2.3M577.3 2239.6h2.3M1790.9 1755.3h2.3M597.6 2239.7h2.3M1925.6 1712.7h2.3M1508.9 1856.3h2.3M1443.1 1886.8h2.3M639.0 2225.6h2.3M858.6 2116.2h2.3M931.2 2081.3h2.3M865.3 2111.0h2.3M1739.9 1772.7h2.3M854.3 2119.9h2.3M661.8 2216.0h2.3M731.6 2173.9h2.3M1560.1 1839.4h2.3M1192.1 1994.0h2.3M1881.5 1731.3h2.3M857.7 2117.5h2.3M1881.6 1731.1h2.3M1425.4 1892.3h2.3M1150.0 2001.4h2.3M1627.4 1813.9h2.3M1194.6 1991.9h2.3M1699.2 1783.7h2.3M738.2 2171.9h2.3M1566.1 1835.7h2.3M683.2 2204.3h2.3M1188.0 1994.6h2.3M723.4 2177.4h2.3M1692.3 1785.4h2.3M1826.3 1746.3h2.3M1872.5 1731.9h2.3M1145.6 2002.4h2.3M1119.4 2012.9h2.3M1208.2 1985.4h2.3M1342.6 1924.9h2.3M821.2 2136.5h2.3M617.0 2232.4h2.3M1030.4 2050.8h2.3M681.0 2206.1h2.3M1545.0 1844.3h2.3M1345.3 1922.9h2.3M604.9 2238.3h2.3M1262.5 1967.1h2.3M1091.3 2024.6h2.3M1472.4 1878.6h2.3M792.6 2147.0h2.3M635.3 2226.2h2.3M1177.9 2000.2h2.3M1808.5 1748.9h2.3M1145.5 2003.0h2.3M1832.2 1745.6h2.3M768.4 2160.7h2.3M1525.6 1851.5h2.3M1900.4 1725.2h2.3M1377.1 1913.8h2.3M1516.3 1854.1h2.3M1449.8 1885.6h2.3M1207.2 1986.0h2.3M1565.3 1836.8h2.3M1584.9 1826.9h2.3M688.3 2201.2h2.3M966.9 2070.7h2.3M1162.9 2002.1h2.3M929.1 2082.1h2.3M1466.6 1880.3h2.3M1652.9 1801.6h2.3M1234.8 1976.0h2.3M1516.4 1855.3h2.3M1658.4 1799.9h2.3M589.1 2240.1h2.3M759.4 2163.8h2.3M1871.2 1732.9h2.3M1302.6 1944.9h2.3M881.7 2102.1h2.3M1628.6 1813.3h2.3M1383.2 1913.0h2.3M1235.9 1975.3h2.3M987.9 2065.8h2.3M1773.8 1761.5h2.3M1470.6 1878.2h2.3M1697.0 1784.1h2.3M1767.3 1761.4h2.3M948.3 2074.8h2.3M1690.1 1787.4h2.3M1761.5 1762.2h2.3M1904.9 1722.1h2.3M1876.9 1732.5h2.3M1255.4 1969.8h2.3M1766.4 1762.5h2.3M1100.8 2022.1h2.3M1922.4 1715.8h2.3M788.4 2148.9h2.3M1221.4 1979.7h2.3M1370.3 1915.0h2.3M1809.3 1748.5h2.3M637.2 2226.3h2.3M1697.9 1784.7h2.3M1204.2 1987.3h2.3M1286.2 1953.2h2.3M1802.8 1749.9h2.3M1372.2 1914.2h2.3M1819.1 1747.5h2.3M845.5 2125.2h2.3M712.2 2185.1h2.3M643.0 2222.6h2.3M712.7 2185.7h2.3M860.6 2114.7h2.3M1728.5 1774.2h2.3M1510.9 1855.3h2.3M1765.9 1761.1h2.3M1714.1 1778.9h2.3M1532.4 1849.0h2.3M1115.5 2014.4h2.3M1243.3 1974.1h2.3M654.2 2217.5h2.3M1642.0 1806.0h2.3M837.6 2128.6h2.3M1604.7 1820.5h2.3M1492.3 1865.2h2.3M812.3 2139.1h2.3M1408.7 1898.2h2.3M902.1 2092.9h2.3M1238.1 1976.4h2.3M856.1 2117.8h2.3M1589.1 1826.7h2.3M995.6 2066.0h2.3M920.5 2084.1h2.3M1488.4 1869.2h2.3M1707.2 1780.6h2.3M1151.5 2001.2h2.3M1623.4 1815.8h2.3M581.8 2239.0h2.3" stroke="#0072bd" stroke-width="2.3" fill="none"/>
<path d="M1067.5 2025.2h0M1386.4 1913.2h0M1778.8 1719.4h0M578.7 2229.7h0M1852.2 1739.1h0M867.1 2111.4h0M1242.8 1933.4h0M1323.4 1939.1h0M730.8 2178.0h0M872.4 2090.8h0M633.3 2200.9h0M1303.8 1946.0h0M1439.6 1889.8h0M730.3 2150.4h0M1758.1 1765.5h0M1311.5 1946.0h0M699.0 2197.4h0M1395.6 1906.0h0M1896.6 1730.3h0M1007.6 2040.5h0M899.9 2070.5h0M1508.7 1858.3h0M1771.1 1765.9h0M1099.0 2014.0h0M902.4 2071.5h0M903.3 2093.9h0M1150.6 1974.1h0M1688.5 1792.2h0M1097.7 2011.8h0M1531.9 1851.8h0M1459.6 1885.7h0M1587.9 1827.6h0M1140.1 2005.5h0M1148.7 2004.3h0M1706.1 1784.7h0M931.0 2061.9h0M620.5 2203.1h0M1878.0 1701.1h0M964.4 2071.8h0M1642.4 1808.8h0M1477.3 1821.8h0M1504.1 1860.7h0M1173.1 2001.7h0M851.7 2097.7h0M951.8 2053.3h0M1213.4 1987.3h0M966.2 2070.8h0M978.3 2047.0h0M728.7 2178.6h0M751.1 2140.0h0M1347.1 1884.7h0M704.6 2162.9h0M1639.1 1761.9h0M765.6 2165.1h0M1759.1 1765.8h0M1160.4 2003.3h0M1857.6 1699.1h0M1601.3 1777.2h0M1235.2 1935.3h0M1823.8 1702.7h0M576.3 2242.1h0M1238.8 1976.2h0M947.5 2077.0h0M756.2 2166.4h0M1353.8 1877.8h0M751.3 2141.2h0M1200.1 1942.7h0M673.6 2212.4h0M625.9 2231.0h0M643.9 2197.0h0M1430.3 1891.7h0M1239.3 1975.9h0M1261.5 1921.7h0M1608.5 1774.4h0M973.7 2071.2h0M869.1 2111.9h0M650.4 2193.0h0M947.9 2057.7h0M1071.5 2036.0h0M584.9 2224.4h0M614.5 2206.1h0M1901.5 1725.0h0M759.5 2168.4h0M1899.5 1725.1h0M1811.7 1705.7h0M578.6 2241.2h0M1162.4 1968.1h0M1826.9 1747.9h0M1665.0 1754.1h0M1416.1 1895.7h0M745.4 2171.4h0M713.1 2188.2h0M879.6 2104.3h0M861.5 2094.4h0M1679.4 1749.4h0M1774.3 1761.6h0M1651.6 1757.6h0M879.1 2104.1h0M1385.6 1866.7h0M753.9 2169.5h0M1407.8 1901.3h0M1429.9 1891.2h0M776.2 2156.2h0M1023.9 2054.8h0M751.9 2170.9h0M840.8 2101.7h0M1386.4 1914.6h0M1681.8 1747.4h0M881.6 2102.6h0M1880.9 1699.9h0M1654.5 1757.7h0M1865.7 1734.9h0M1674.0 1793.8h0M784.8 2152.0h0M1031.5 2052.1h0M742.8 2141.3h0M1279.6 1961.1h0M1050.9 2042.7h0M1056.4 2024.6h0M589.0 2244.7h0M1913.1 1722.9h0M860.3 2116.0h0M948.2 2078.7h0M829.0 2108.7h0M1603.9 1822.4h0M896.7 2072.2h0M812.4 2141.0h0M973.7 2047.1h0M1048.0 2045.6h0M1444.2 1832.9h0M1100.6 2024.1h0M987.3 2044.5h0M990.3 2044.3h0M1903.2 1724.5h0M578.5 2230.5h0M987.2 2042.4h0M1779.9 1762.8h0M1412.0 1899.2h0M1919.3 1703.1h0M1201.9 1943.3h0M1391.4 1907.9h0M1276.3 1960.8h0M1010.9 2038.7h0M1828.6 1748.8h0M1644.0 1761.1h0M1823.8 1701.6h0M729.3 2151.5h0M1073.7 2035.3h0M791.9 2119.6h0M1197.4 1945.8h0M1273.8 1916.5h0M1908.4 1724.8h0M720.8 2181.0h0M689.5 2202.0h0M1834.5 1699.9h0M1499.7 1805.1h0M917.1 2087.9h0M1151.2 1973.1h0M1581.2 1782.6h0M1276.8 1916.4h0M1327.9 1935.4h0M657.2 2190.8h0M1496.6 1806.3h0M1889.3 1728.3h0M1049.5 2029.8h0M1026.0 2053.3h0M1046.7 2046.7h0M1765.7 1762.3h0M1339.7 1928.8h0M1255.4 1970.4h0M1562.4 1788.0h0M1786.3 1758.8h0M633.1 2198.1h0M785.0 2126.0h0M1801.8 1755.2h0M1273.2 1961.6h0M1021.5 2037.4h0M812.1 2143.6h0M1476.8 1819.4h0M942.2 2079.0h0M766.8 2162.2h0M1664.2 1753.6h0M1816.2 1753.2h0M900.8 2096.0h0M1274.5 1961.3h0M1621.6 1766.7h0M989.4 2043.9h0M1604.3 1776.1h0M1919.9 1720.1h0M814.1 2115.3h0M661.9 2216.8h0M1695.0 1743.4h0M958.5 2053.4h0M973.9 2048.0h0M966.8 2049.7h0M804.7 2143.6h0M573.8 2232.8h0M1685.3 1744.9h0M1861.9 1697.0h0M1301.5 1948.6h0M1315.2 1946.3h0M1038.0 2031.9h0M1864.1 1734.4h0M657.7 2190.6h0M1396.9 1860.3h0M644.6 2197.6h0M1306.2 1899.2h0M1033.8 2056.0h0M1476.0 1821.6h0M1030.3 2034.2h0M1459.3 1829.1h0M1414.2 1897.7h0M1741.7 1772.5h0M1077.0 2024.5h0M1127.1 2000.7h0M1789.0 1713.9h0M1433.2 1841.2h0M872.2 2087.3h0M1866.0 1735.2h0M1503.0 1864.4h0M1530.2 1793.8h0M752.2 2140.4h0M1222.5 1982.2h0M1135.9 1994.7h0M1459.9 1826.2h0M746.4 2170.9h0M1358.4 1877.2h0M1186.3 1999.4h0M1579.9 1783.6h0M1373.0 1915.8h0M1442.6 1888.2h0M1660.1 1754.9h0M1274.2 1962.6h0M1511.3 1860.5h0M1356.4 1919.5h0M1779.6 1761.0h0M1123.8 1998.2h0M989.9 2039.9h0M1046.4 2050.9h0M1378.0 1915.2h0M1510.6 1800.0h0M1854.1 1701.5h0M634.1 2199.4h0M1742.8 1778.4h0M1761.4 1728.2h0M1750.4 1770.2h0M1921.8 1718.8h0M1630.4 1815.6h0M1189.6 1948.4h0M1524.2 1797.0h0M1034.0 2034.8h0M1262.2 1923.0h0M847.5 2099.6h0M1474.6 1822.2h0M1877.3 1699.5h0M1830.6 1700.4h0M1063.1 2026.1h0M1711.5 1781.1h0M1803.0 1751.9h0M1204.6 1989.3h0M1306.9 1899.4h0M1423.8 1895.2h0M614.9 2206.6h0M1537.7 1849.5h0M1486.9 1812.5h0M1223.6 1982.3h0M632.6 2230.1h0M1765.4 1764.9h0M1465.9 1826.4h0M1367.5 1917.0h0M926.2 2083.3h0M1294.2 1952.0h0M1889.0 1699.3h0M1234.3 1936.6h0M1558.6 1840.9h0M1011.3 2039.4h0M1630.3 1814.3h0M906.2 2095.0h0M1690.7 1745.6h0M1595.9 1825.0h0M615.3 2234.6h0M1773.6 1763.0h0M889.9 2076.6h0M1163.7 1966.2h0M1036.1 2032.0h0M1504.7 1863.3h0M1269.7 1919.4h0M1594.0 1826.2h0M893.4 2071.7h0M649.4 2221.0h0M1637.7 1812.7h0M1389.9 1863.5h0M1589.7 1827.9h0M1045.1 2032.1h0M1452.5 1887.6h0M908.8 2068.7h0M970.6 2073.3h0M1429.3 1842.8h0M588.0 2222.5h0M1580.2 1780.3h0M1380.7 1869.1h0M1805.0 1754.5h0M810.4 2140.6h0M907.8 2090.5h0M1098.6 2014.3h0M1636.9 1761.7h0M1784.9 1764.9h0M945.9 2077.3h0M1195.9 1944.7h0M1904.4 1701.5h0M1123.2 2012.9h0M1003.9 2062.8h0M1496.4 1866.6h0M865.4 2113.1h0M1314.9 1895.2h0M1040.4 2047.2h0M1753.5 1768.0h0M1338.8 1929.4h0M895.5 2096.5h0M907.2 2068.0h0M1389.2 1910.0h0M763.3 2136.7h0M1297.9 1948.4h0M1639.0 1760.8h0M766.6 2162.9h0M1491.5 1810.6h0M1590.0 1827.2h0M1455.1 1885.2h0M1615.6 1819.3h0M1296.7 1951.2h0M622.9 2233.9h0M1591.1 1781.0h0M1251.3 1929.0h0M1798.1 1755.5h0M1559.5 1790.1h0M970.7 2047.3h0M628.9 2229.6h0M1189.6 1948.4h0M1799.5 1707.8h0M795.7 2148.6h0M920.8 2085.9h0M1411.2 1900.7h0M706.7 2192.4h0M1380.4 1914.7h0M1444.5 1888.7h0M770.1 2159.5h0M1297.5 1947.8h0M919.2 2065.5h0M1835.7 1747.6h0M1563.7 1839.8h0M1435.6 1839.3h0M679.9 2183.9h0M1523.3 1797.9h0M1351.7 1879.0h0M1625.5 1763.2h0M627.7 2230.4h0M964.5 2047.9h0M1299.4 1901.7h0M1581.3 1834.0h0M1707.3 1782.0h0M1379.2 1867.4h0M1542.4 1847.4h0M1801.7 1708.5h0M826.8 2136.1h0M1763.5 1764.5h0M1576.6 1784.9h0M792.8 2121.7h0M585.9 2221.7h0M1692.7 1744.7h0M1260.1 1968.4h0M1618.8 1818.5h0M1593.0 1825.4h0M1169.1 2003.1h0M1210.7 1987.6h0M885.1 2102.2h0M1641.2 1807.8h0M697.8 2196.1h0M1175.5 1960.9h0M1729.4 1734.2h0M1077.0 2025.2h0M1217.3 1938.1h0M1301.7 1950.4h0M838.9 2102.7h0M1894.1 1696.8h0M866.5 2091.2h0M1084.6 2028.8h0M1454.7 1830.9h0M964.7 2049.8h0M637.2 2200.0h0M1330.3 1891.1h0M639.3 2225.3h0M1664.6 1754.7h0M810.8 2112.8h0M1594.6 1776.2h0M891.2 2099.3h0M821.9 2113.3h0M1215.8 1983.6h0M1114.9 2015.8h0M887.4 2075.6h0M1156.4 1969.2h0M974.8 2048.0h0M1092.9 2027.6h0M1680.3 1747.8h0M951.3 2075.8h0M1205.2 1943.1h0M1474.0 1879.8h0M1669.9 1750.1h0M1604.4 1776.0h0M1179.3 1957.5h0M1280.1 1958.6h0M1409.4 1899.3h0M1725.9 1776.8h0M1047.9 2031.1h0M1494.1 1809.4h0M1754.2 1728.2h0M1706.7 1739.9h0M1731.9 1779.4h0M1124.4 2013.9h0M1903.9 1724.7h0M816.4 2139.3h0M1248.6 1930.3h0M1056.9 2040.5h0M1029.3 2035.2h0M808.4 2143.6h0M1109.8 2018.2h0M657.3 2219.0h0M1497.8 1807.3h0M1177.9 1958.5h0M1830.6 1702.9h0M1885.1 1730.4h0M1532.5 1849.3h0M1558.9 1787.3h0M601.2 2240.0h0M1360.3 1874.3h0M1308.7 1950.2h0M1410.7 1852.4h0M1171.4 2003.3h0M1791.8 1756.2h0M766.8 2161.9h0M1009.7 2060.1h0M1834.4 1700.3h0M781.0 2153.6h0M1004.5 2062.1h0M1062.7 2027.4h0M716.6 2183.4h0M1420.2 1894.1h0M783.1 2123.5h0M675.4 2185.1h0M1234.1 1978.4h0M1249.8 1975.5h0M1017.0 2034.9h0M1863.1 1733.9h0M1840.5 1746.7h0M848.8 2098.7h0M988.9 2043.6h0M1159.8 1969.3h0M759.1 2138.9h0M1223.2 1982.2h0M795.0 2120.0h0M1758.7 1765.5h0M981.8 2067.9h0M955.9 2073.3h0M1838.9 1745.8h0M1157.3 2001.8h0M1607.0 1772.1h0M619.0 2234.0h0M982.1 2069.5h0M1533.1 1851.6h0M1151.7 1972.6h0M1769.6 1723.9h0M999.4 2041.4h0M1245.7 1974.9h0M1314.3 1943.5h0M1240.6 1934.9h0M641.9 2199.8h0M1080.8 2026.0h0M746.6 2140.8h0M1727.7 1776.7h0M1310.4 1945.4h0M1638.1 1811.2h0M930.2 2083.5h0M873.3 2110.0h0M1000.8 2065.3h0M1498.8 1805.1h0M809.9 2141.6h0M1801.7 1754.1h0M1242.1 1933.0h0M1583.3 1830.6h0M1554.1 1794.3h0M1453.3 1829.8h0M1630.5 1764.8h0M1780.1 1715.8h0M1367.2 1916.7h0M1051.6 2045.8h0M786.0 2150.9h0M685.1 2180.3h0M957.2 2075.9h0M919.5 2063.6h0M643.5 2197.7h0M829.8 2106.8h0M689.2 2177.0h0M929.9 2061.4h0M1265.1 1921.2h0M1702.2 1740.1h0M1232.3 1978.1h0M1503.7 1862.3h0M910.1 2066.1h0M1334.8 1887.8h0M1744.4 1728.6h0M1008.6 2061.5h0M597.3 2218.7h0M1137.3 2007.5h0M1211.0 1986.9h0M1078.6 2027.5h0M1699.7 1790.4h0M1121.5 2013.1h0M1130.8 1997.1h0M1817.4 1704.8h0M1600.7 1824.0h0M742.6 2172.0h0M1416.5 1849.5h0M601.9 2240.9h0M1246.1 1931.3h0M1540.6 1795.9h0M1666.6 1751.6h0M1905.3 1697.6h0M931.8 2082.4h0M1860.6 1734.5h0M858.9 2094.2h0M1618.3 1820.0h0M1216.0 1984.0h0M1887.4 1701.5h0M915.3 2066.0h0M1657.3 1757.0h0M1509.5 1857.8h0M1919.5 1720.1h0M1665.8 1799.0h0M646.3 2196.6h0M1102.5 2026.7h0M1486.8 1869.7h0M1298.2 1947.6h0M1396.7 1859.2h0M1885.3 1699.8h0M1612.6 1820.6h0M901.7 2095.0h0M781.7 2127.9h0M1284.3 1912.0h0M1213.1 1940.0h0M1397.7 1861.0h0M709.0 2189.3h0M1561.1 1790.1h0M1889.0 1701.5h0M1181.6 2002.7h0M1316.2 1945.6h0M856.0 2119.9h0M1578.3 1784.2h0M1497.5 1865.2h0M914.9 2089.6h0M576.1 2241.6h0M1317.6 1941.6h0M1401.4 1904.5h0M1553.1 1793.5h0M881.9 2103.8h0M1402.2 1857.5h0M1157.9 2004.6h0M758.7 2136.4h0M1734.6 1733.8h0M1655.3 1802.1h0M1651.9 1804.9h0M775.8 2130.2h0M1641.3 1761.0h0M1914.3 1700.8h0M1093.5 2017.4h0M944.3 2059.2h0M651.5 2220.8h0M614.5 2207.1h0M1787.6 1715.7h0M804.1 2117.7h0M997.6 2065.6h0M645.8 2195.7h0M941.3 2078.0h0M1280.5 1958.7h0M1247.0 1974.3h0M1569.0 1837.6h0M624.6 2232.2h0M1534.5 1795.8h0M1269.1 1918.7h0M1433.1 1841.5h0M652.0 2193.5h0M882.0 2104.1h0M1876.8 1697.3h0M905.0 2069.9h0M956.6 2073.4h0M843.3 2100.5h0M1579.8 1832.2h0M944.9 2079.5h0M1207.3 1988.6h0M1268.2 1965.2h0M1415.4 1895.9h0M801.2 2143.7h0M1428.6 1843.8h0M1409.3 1851.4h0M1078.9 2032.5h0M850.1 2097.8h0M1165.9 1965.3h0M1671.5 1752.3h0M1818.6 1704.6h0M1493.9 1809.0h0M1131.6 1997.8h0M973.3 2070.5h0M1435.9 1840.5h0M802.4 2144.5h0M1528.9 1797.2h0M1339.8 1927.6h0M1522.7 1856.6h0M826.4 2110.8h0M927.8 2064.1h0M992.4 2043.7h0M1130.6 2009.3h0M728.3 2152.2h0M1026.2 2035.3h0M1867.7 1737.8h0M1454.9 1888.6h0M1857.2 1700.9h0M1013.6 2039.3h0M729.4 2176.8h0M1816.7 1704.7h0M709.6 2160.9h0M1406.4 1900.8h0M732.7 2175.4h0M612.7 2235.5h0M1381.1 1867.7h0M1600.6 1777.2h0M1138.8 2008.5h0M1366.2 1919.5h0M1544.6 1850.1h0M912.9 2067.0h0M1678.0 1749.2h0M941.7 2079.3h0M1890.9 1729.0h0M988.2 2043.7h0M1496.0 1868.5h0M666.4 2188.2h0M1514.5 1800.7h0M1592.2 1779.2h0M1691.9 1744.2h0M1630.8 1812.8h0M1329.6 1891.2h0M777.6 2156.7h0M753.4 2170.8h0M736.4 2174.4h0M959.0 2053.9h0M1706.1 1782.8h0M1648.7 1757.5h0M899.9 2071.0h0M1290.8 1910.1h0M1514.3 1799.3h0M1441.6 1888.1h0M1637.5 1810.6h0M1930.3 1713.9h0M1433.7 1889.2h0M1166.7 2002.7h0M1616.3 1767.9h0M879.8 2083.9h0M1220.3 1981.5h0M1322.2 1941.3h0M712.4 2160.1h0M1168.2 2003.9h0M1692.0 1787.2h0M625.9 2203.1h0M1567.3 1784.2h0M790.9 2122.2h0M1411.1 1852.7h0M1514.1 1857.1h0M624.5 2232.4h0M889.6 2076.3h0M1651.1 1807.1h0M1613.0 1769.6h0M625.6 2201.8h0M1272.8 1961.6h0M1915.8 1701.7h0M1248.1 1974.0h0M757.0 2167.2h0M1155.2 1970.2h0M1185.4 1997.6h0M1548.6 1844.6h0M972.4 2070.2h0M656.4 2218.6h0M1172.3 1961.5h0M627.3 2231.4h0M1345.9 1884.6h0M900.3 2094.8h0M802.4 2145.2h0M642.3 2199.3h0M1363.1 1920.3h0M1635.8 1812.0h0M776.2 2131.2h0M1686.8 1745.3h0M1028.2 2033.8h0M677.5 2185.9h0M1928.7 1713.0h0M1257.2 1971.5h0M1790.9 1714.2h0M1530.3 1850.7h0M1307.9 1898.1h0M1261.6 1922.3h0M809.5 2116.1h0M850.6 2123.9h0M1899.9 1702.1h0M1150.2 2003.5h0M697.7 2196.3h0M1063.5 2028.2h0M1602.4 1827.5h0M888.1 2103.7h0M581.1 2241.2h0M1757.2 1765.5h0M966.7 2049.3h0M1017.5 2038.7h0M1384.5 1866.5h0M1908.4 1724.8h0M1571.7 1786.4h0M767.9 2162.3h0M807.3 2115.4h0M1601.0 1775.5h0M1220.6 1981.7h0M1025.0 2057.1h0M1741.6 1772.8h0M1275.4 1913.5h0M1664.8 1799.2h0M838.6 2131.4h0M1632.6 1764.3h0M1886.8 1698.4h0M853.5 2121.2h0M1523.2 1853.5h0M1068.4 2037.2h0M1911.8 1722.5h0M1836.6 1700.9h0M1129.8 1999.0h0M1505.6 1803.1h0M1642.4 1761.4h0M719.8 2183.4h0M1252.5 1925.2h0M1843.3 1701.2h0M1266.6 1966.5h0M942.6 2077.9h0M806.3 2114.8h0M779.6 2129.6h0M1615.7 1769.2h0M1692.1 1743.4h0M1647.9 1805.9h0M1550.9 1794.0h0M1342.5 1928.6h0M1869.6 1699.6h0M582.7 2241.2h0M1536.6 1795.7h0M1497.1 1806.6h0M1588.0 1828.5h0M1490.9 1811.8h0M1700.5 1741.7h0M1483.5 1872.9h0M1540.1 1848.1h0M763.4 2136.6h0M1914.1 1722.6h0M608.5 2211.8h0M1831.0 1702.4h0M700.5 2162.6h0M1185.8 2000.1h0M602.7 2216.5h0M1792.2 1712.4h0M1863.7 1734.1h0M1220.2 1985.6h0M1071.0 2035.7h0M1779.6 1760.6h0M593.9 2219.5h0M969.2 2049.9h0M1349.0 1881.2h0M1713.4 1737.2h0M973.2 2069.9h0M1152.0 2006.0h0M1704.8 1787.2h0M668.7 2187.9h0M755.6 2138.9h0M1429.6 1892.0h0M873.2 2109.4h0M920.7 2086.1h0M1097.6 2015.1h0M1511.4 1800.7h0M785.2 2151.9h0M1647.8 1756.4h0M677.8 2207.7h0M876.5 2087.5h0M1245.3 1977.2h0M999.9 2041.0h0M1683.6 1746.4h0M1727.8 1776.5h0M1596.5 1824.6h0M1847.4 1701.9h0M1188.3 1949.7h0M904.1 2092.7h0M1480.7 1874.6h0M864.9 2093.1h0M1024.8 2034.8h0M1588.0 1828.6h0M961.2 2073.0h0M1318.1 1946.2h0M1928.9 1713.8h0M913.3 2064.6h0M1130.4 1998.6h0M1001.7 2039.6h0M1696.9 1786.3h0M1100.9 2022.0h0M984.4 2069.8h0M1806.8 1750.8h0M1252.9 1974.4h0M1442.3 1835.6h0M1779.7 1761.2h0M1374.1 1867.6h0M1218.4 1986.6h0M1105.9 2022.6h0M1114.7 2018.1h0M793.8 2120.7h0M1816.1 1749.2h0M1501.6 1861.2h0M701.4 2162.5h0M1885.6 1730.5h0M872.5 2107.8h0M1151.1 2003.1h0M1427.8 1840.6h0M905.5 2092.5h0M1441.9 1889.0h0M1180.8 2001.3h0M1102.2 2013.7h0M1621.0 1766.5h0M1012.2 2059.7h0M998.8 2039.6h0M1523.1 1852.4h0M765.4 2135.8h0M953.7 2077.5h0M1773.7 1722.0h0M681.0 2181.3h0M1799.7 1707.5h0M800.4 2144.7h0M1641.5 1760.4h0M685.9 2178.3h0M852.6 2122.4h0M928.2 2085.2h0M678.3 2185.6h0M1876.9 1733.6h0M1712.6 1781.5h0M720.2 2180.8h0M1674.6 1794.3h0M1086.1 2024.5h0M1732.6 1775.0h0M1299.5 1950.0h0M1860.2 1735.2h0M958.7 2053.1h0M1894.0 1727.4h0M1856.8 1700.6h0M1647.6 1757.2h0M1608.6 1772.6h0M1910.1 1701.3h0M1856.6 1736.2h0M1008.2 2039.9h0M1182.7 1955.4h0M809.9 2141.2h0M1510.6 1857.5h0M1912.9 1701.3h0M722.3 2178.8h0M691.2 2203.7h0M709.9 2190.0h0M930.9 2081.7h0M1764.4 1762.6h0M1322.7 1941.5h0M1633.5 1760.6h0M1355.7 1918.7h0M716.6 2182.9h0M1216.2 1983.3h0M1233.3 1978.4h0M616.7 2205.6h0M665.9 2189.2h0M1362.5 1918.4h0M1200.2 1991.8h0M1740.6 1773.7h0M1622.3 1817.6h0M713.0 2186.1h0M1273.2 1915.8h0M766.2 2163.5h0M1369.5 1916.5h0M1132.4 2008.8h0M1192.6 1945.6h0M601.8 2215.8h0M986.1 2043.2h0M750.7 2173.3h0M1725.1 1735.6h0M1217.5 1986.4h0M1659.7 1753.7h0M933.5 2081.0h0M1148.8 2002.9h0M991.6 2040.9h0M1926.7 1705.1h0M1272.3 1917.2h0M1245.0 1931.5h0M1424.6 1844.9h0M1588.6 1780.8h0M1440.2 1892.4h0M1858.6 1699.6h0M1124.6 1999.1h0M1366.4 1872.4h0M1342.4 1885.4h0M1259.7 1968.2h0M768.5 2134.9h0M760.4 2136.6h0M1617.1 1819.9h0M1553.5 1795.1h0M1863.6 1700.2h0M809.1 2114.5h0M1177.8 1958.9h0M958.0 2053.7h0M1470.9 1881.7h0M1021.2 2055.8h0M727.1 2152.8h0M590.0 2242.1h0M1650.2 1806.4h0M1050.7 2043.1h0M1011.2 2061.3h0M1912.9 1721.3h0M1894.3 1700.3h0M675.1 2210.9h0M740.8 2144.9h0M1857.9 1737.7h0M1872.2 1733.7h0M807.0 2117.1h0M1700.5 1786.4h0M1908.7 1723.9h0M1402.1 1857.9h0M1907.2 1702.2h0M1566.7 1787.3h0M731.3 2150.7h0M589.5 2242.3h0M795.0 2120.2h0M1274.5 1962.0h0M1247.2 1928.8h0M683.6 2182.6h0M1056.0 2029.9h0M1759.7 1727.3h0M616.4 2205.5h0M1124.1 2002.0h0M1264.6 1921.1h0M1672.4 1751.5h0M675.5 2209.8h0M561.2 2246.5h0M567.6 2241.9h0M585.2 2221.7h0M680.1 2215.2h0M685.6 2211.5h0M698.5 2225.3h0M702.2 2212.4h0M713.3 2192.2h0M719.7 2216.1h0M726.2 2212.4h0M731.7 2208.8h0M739.1 2196.8h0M739.1 2212.4h0M742.8 2219.8h0M752.0 2206.9h0M753.8 2223.5h0M744.6 2180.2h0M750.1 2182.0h0M777.8 2213.4h0M778.7 2218.9h0M791.6 2197.7h0M798.1 2160.8h0M819.3 2165.4h0M826.6 2162.7h0M834.0 2149.8h0M847.8 2161.8h0M855.2 2157.1h0M856.1 2164.5h0M827.6 2103.7h0M674.6 2214.3h0M659.8 2223.5h0M669.0 2210.6h0M681.9 2206.9h0M721.6 2214.3h0M735.4 2210.6h0M751.1 2219.8h0M875.0 2136.3h0M926.6 2135.4h0M920.2 2118.8h0M920.2 2124.3h0M935.9 2122.5h0M941.4 2126.2h0M965.3 2117.0h0M964.4 2124.3h0M891.6 2117.9h0M867.6 2119.7h0M867.6 2123.4h0M848.3 2128.0h0M889.8 2107.7h0M899.9 2106.8h0M904.5 2102.2h0M920.2 2098.5h0M933.1 2106.8h0M946.9 2103.1h0M952.4 2107.7h0M958.0 2105.9h0M963.5 2090.2h0M970.9 2083.8h0M987.5 2089.3h0M991.2 2097.6h0M1040.0 2083.8h0M1011.4 2072.7h0M1026.2 2067.2h0M1032.6 2067.2h0M1044.6 2067.2h0M1057.5 2070.0h0M1066.7 2061.7h0M1087.0 2059.8h0M1098.1 2054.3h0M1120.2 2058.0h0M1128.5 2053.4h0M1134.9 2043.2h0M1144.1 2051.5h0M1149.7 2045.1h0M1111.0 2043.2h0M1118.3 2041.4h0M1134.9 1980.6h0M1142.3 1986.1h0M1133.1 1995.3h0M1116.5 1999.0h0M1157.1 1962.1h0M1096.2 2010.0h0M1105.4 2035.9h0M1094.4 2050.6h0M1079.6 2058.0h0M1009.6 2069.0h0M983.8 2069.0h0M987.5 2074.6h0M1042.8 2058.0h0M1057.5 2058.0h0M1341.7 1868.2h0M1343.5 1873.7h0M1362.0 1868.2h0M1374.9 1864.5h0M1397.0 1859.0h0M1413.6 1849.8h0M1421.0 1844.2h0M1439.4 1835.0h0M1454.1 1829.5h0M1157.4 1962.2h0M1192.4 1947.5h0M1220.0 1936.4h0M1238.5 1927.2h0M1264.3 1919.8h0M1299.3 1899.5h0M1306.7 1901.4h0M1415.4 1899.5h0M1402.5 1905.1h0M1347.2 1935.5h0M1312.2 1943.8h0M1290.1 1956.7h0M1268.0 1971.4h0M1472.9 1776.1h0M1550.3 1787.2h0M1530.0 1796.4h0M1655.4 1748.5h0M1642.5 1757.7h0M1701.5 1739.3h0M1721.8 1734.7h0M1754.9 1778.0h0M1766.0 1766.9h0M1727.3 1776.1h0M1736.5 1770.6h0M1745.7 1770.6h0M1690.4 1790.9h0M1697.8 1790.9h0M1670.1 1798.2h0M1596.4 1820.4h0M1559.5 1840.6h0M1533.7 1849.9h0M1808.4 1705.7h0M1819.4 1704.3h0M1831.9 1701.5h0M1931.4 1723.0h0M1942.5 1711.2h0M1951.5 1709.1h0M1936.3 1711.9h0M1912.1 1724.3h0M1898.3 1716.7h0M1874.8 1728.5h0M1890.0 1728.5h0M1845.7 1742.3h0M1840.2 1739.5h0M1829.1 1749.2h0M1807.7 1752.7h0M1766.9 1765.8h0M1778.0 1761.7h0M1783.5 1717.4h0" stroke="#0072bd" stroke-width="2.6" stroke-linecap="round" fill="none"/>
<path d="M163 2412.3h3M183 2412.3h3M190 2412.3h3M203 2412.3h3M222 2412.3h4M247 2412.3h4" stroke="#0072bd" stroke-width="3"/>
<line x1="161.8" y1="2407.9" x2="2053.2" y2="1613.9" stroke="#edb120" stroke-width="4.5"/>
<g font-size="49" fill="#262626">
<text x="145.3" y="2432.5" text-anchor="end" font-size="51">0</text>
<text x="145.3" y="2274.9" text-anchor="end" font-size="51">5</text>
<text x="145.3" y="2117.4" text-anchor="end" font-size="51">10</text>
<text x="145.3" y="1959.9" text-anchor="end" font-size="51">15</text>
<text x="145.3" y="1802.3" text-anchor="end" font-size="51">20</text>
<text x="145.3" y="1644.8" text-anchor="end" font-size="51">25</text>
<text x="145.3" y="1487.2" text-anchor="end" font-size="51">30</text>
<text x="161.8" y="2478" text-anchor="middle">0</text>
<text x="477" y="2478" text-anchor="middle">2</text>
<text x="792.3" y="2478" text-anchor="middle">4</text>
<text x="1107.5" y="2478" text-anchor="middle">6</text>
<text x="1422.7" y="2478" text-anchor="middle">8</text>
<text x="1738" y="2478" text-anchor="middle">10</text>
<text x="2053.2" y="2478" text-anchor="middle">12</text>
</g>
<text x="1107.5" y="1445.9" font-size="50" font-weight="bold" text-anchor="middle" fill="#000" textLength="197.8" lengthAdjust="spacing">Month 2</text>
<text x="1107.5" y="2560.8" font-size="51.3" text-anchor="middle" fill="#262626" textLength="385.9" lengthAdjust="spacing">Flow Rate (m<tspan font-size="41" dy="-25.6">3</tspan><tspan dy="25.6">/s)</tspan></text>
<text transform="translate(71.7 1939.7) rotate(-90)" x="0" y="0" font-size="49" text-anchor="middle" fill="#262626" textLength="283.8" lengthAdjust="spacing">Power (MW)</text>
<text x="255.5" y="1629.7" font-size="50" fill="#000" xml:space="preserve" textLength="600.9" lengthAdjust="spacing">Linear:  y = 2.1*x + 0.1392</text>
<rect x="1697.7" y="2263.1" width="337.2" height="133" fill="#fff" stroke="#262626" stroke-width="4.6"/>
<line x1="1704.5" y1="2361.2" x2="1766.5" y2="2361.2" stroke="#edb120" stroke-width="4.5"/>
<rect x="1733.2" y="2295" width="2.2" height="4.2" fill="#0072bd"/>
<text x="1768.5" y="2316.8" font-size="48" fill="#000" textLength="97.1" lengthAdjust="spacing">data</text>
<text x="1811" y="2381.3" font-size="48" fill="#000" textLength="215.8" lengthAdjust="spacing">linear law</text>
</svg>
</body></html>
